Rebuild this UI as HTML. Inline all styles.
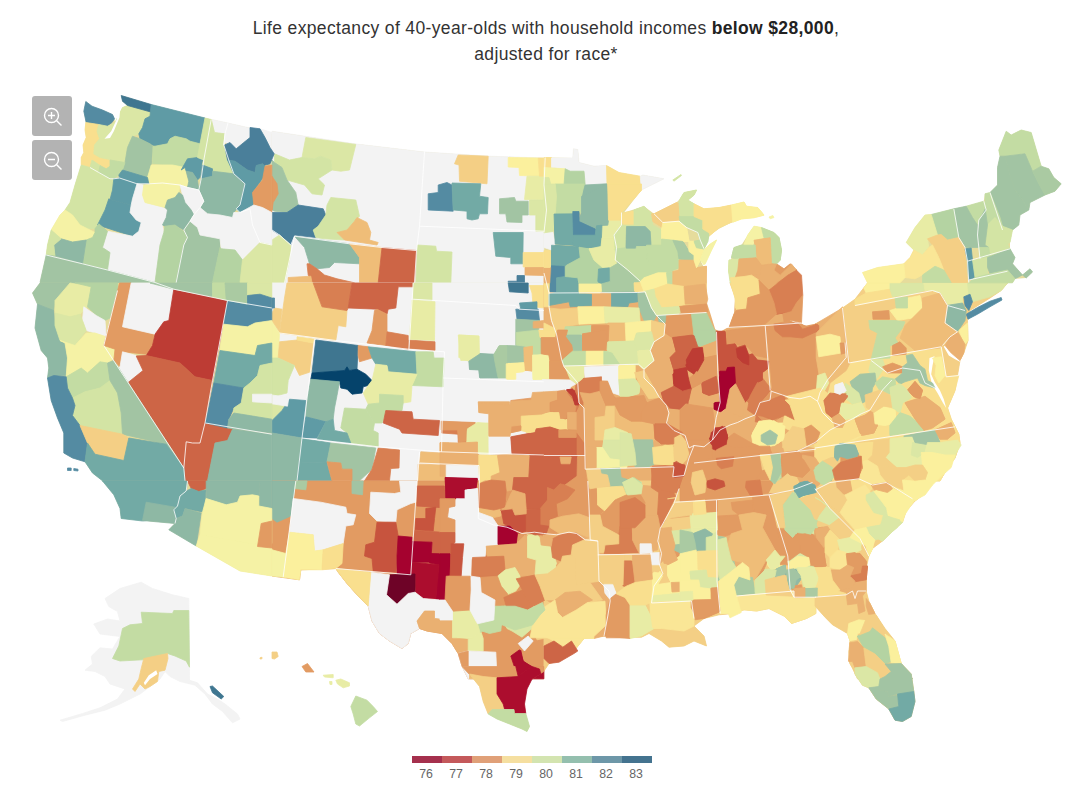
<!DOCTYPE html>
<html><head><meta charset="utf-8"><style>
html,body{margin:0;padding:0;background:#fff;}
body{width:1087px;height:792px;overflow:hidden;position:relative;font-family:"Liberation Sans",sans-serif;}
.title{position:absolute;left:0;top:14.6px;width:1092px;text-align:center;font-size:17.5px;letter-spacing:0.35px;line-height:26px;color:#333;}
.title b{font-weight:bold;color:#222;}
.btn{position:absolute;left:32px;width:40px;height:40px;background:#b3b3b3;border-radius:3px;}
svg{position:absolute;left:0;top:0;}
text{font-family:"Liberation Sans",sans-serif;}
</style></head><body>
<svg width="1087" height="792" viewBox="0 0 1087 792">
<g stroke-linejoin="round">
<polygon points="83.8,111.2 85.8,101.5 92.0,106.2 102.5,110.0 112.5,114.5 114.5,118.8 115.0,122.5 122.5,107.5 127.5,105.5 122.5,101.2 121.2,95.5 151.2,104.5 205.0,118.0 250.0,128.0 271.8,133.8 272.0,131.2 354.5,143.8 424.5,152.0 489.5,156.2 543.8,158.0 544.0,157.5 572.8,158.0 573.5,148.8 577.8,149.5 579.0,162.5 594.0,166.2 606.5,165.5 619.0,172.5 640.2,176.2 642.8,175.0 664.0,178.8 641.5,190.0 624.0,212.5 644.0,206.2 654.0,213.8 676.5,202.5 680.2,198.8 684.0,192.5 696.5,190.0 694.0,195.0 687.8,200.0 694.0,203.8 704.0,208.8 719.0,207.5 731.5,205.0 744.0,202.0 746.5,206.2 757.8,207.5 764.0,215.0 754.0,217.5 741.5,218.8 729.0,223.8 719.0,228.8 710.2,235.0 704.0,247.5 700.2,260.0 704.0,267.5 706.5,282.8 705.2,283.0 705.2,298.0 710.2,313.0 715.2,329.2 720.2,331.8 729.0,326.8 734.0,313.0 735.2,298.0 729.0,283.0 730.2,282.8 728.5,271.2 731.5,257.5 734.0,247.5 741.5,245.0 747.8,235.0 754.0,226.2 761.5,227.5 774.0,232.5 779.0,237.5 781.5,250.0 780.2,260.0 776.5,263.8 784.0,268.8 790.2,263.8 796.5,270.0 799.0,282.8 801.5,283.0 801.5,310.5 790.2,320.5 799.0,324.2 806.5,325.5 815.8,323.0 815.0,324.2 830.0,318.0 842.5,308.0 855.0,299.2 867.5,283.0 862.5,272.5 877.5,267.5 903.8,263.8 910.0,257.5 913.8,250.0 906.2,242.5 915.0,227.5 925.0,215.0 931.2,214.5 953.8,208.8 966.2,206.2 983.8,201.2 985.0,193.8 990.0,192.5 997.5,185.0 997.5,167.5 1000.0,156.2 998.8,150.0 1006.2,131.2 1011.2,135.0 1021.2,130.0 1031.2,132.5 1041.2,166.2 1048.8,168.8 1053.8,177.5 1061.2,183.8 1055.0,191.2 1045.0,195.0 1030.0,202.5 1028.8,210.0 1020.0,215.0 1018.8,225.0 1012.5,230.0 1010.0,242.5 1010.0,248.8 1015.0,257.5 1012.5,263.8 1022.5,275.0 1030.0,268.8 1032.5,272.0 1026.2,278.0 1015.0,278.8 1012.5,282.8 1007.5,283.0 1001.2,290.5 990.0,298.0 970.0,310.5 967.5,320.5 968.0,340.5 963.8,353.0 960.0,360.5 957.5,375.5 955.0,390.5 947.5,408.0 951.2,419.2 958.8,434.2 960.0,443.0 955.0,458.0 947.5,468.0 940.0,480.8 933.8,481.0 925.0,493.5 915.0,501.0 906.2,511.0 902.5,522.2 892.5,531.0 882.5,541.0 872.5,548.5 868.8,556.0 866.2,568.5 866.2,591.0 868.8,601.0 875.0,613.5 885.0,628.5 895.0,641.0 901.2,663.5 912.5,678.8 901.2,663.5 911.2,674.0 913.8,691.5 915.0,701.5 911.2,716.5 902.5,721.5 895.0,720.2 888.8,709.0 876.2,699.0 868.8,687.8 862.5,685.2 855.0,674.0 853.8,669.0 850.0,664.0 848.8,651.5 850.0,641.5 848.8,661.0 850.0,641.0 847.5,633.5 832.5,624.8 825.0,617.2 815.0,606.0 815.8,613.5 806.5,618.5 791.5,623.5 784.0,616.0 769.0,608.5 756.5,611.0 744.0,609.8 734.0,613.5 719.0,614.8 704.0,618.5 694.0,626.0 704.0,636.0 706.5,646.0 694.0,641.0 684.0,646.0 669.0,647.2 661.5,641.0 649.0,633.5 641.5,637.2 626.5,637.2 604.0,636.0 584.0,638.5 574.0,651.0 559.0,661.0 549.0,663.5 544.0,671.0 543.8,671.5 532.0,679.0 527.0,689.0 524.5,704.0 525.8,714.0 529.5,726.5 527.0,731.5 522.0,729.0 509.5,724.0 497.0,719.0 488.2,714.0 483.2,701.5 479.5,686.5 469.5,674.0 462.0,666.5 462.0,666.0 458.2,653.5 452.0,643.5 442.0,633.5 427.0,631.0 419.5,628.5 410.8,633.5 408.2,643.5 402.0,648.5 389.5,641.0 379.5,633.5 372.0,621.0 368.2,606.0 357.0,594.8 347.0,583.5 338.2,572.2 335.8,568.5 300.8,569.8 299.5,579.8 272.0,576.0 271.8,576.0 240.0,571.0 196.2,546.0 168.8,529.8 175.0,523.5 142.5,520.5 121.2,518.5 120.0,508.5 113.8,494.8 102.5,481.0 102.5,480.8 92.5,473.0 85.0,461.8 72.5,458.0 63.8,453.0 63.8,433.0 57.5,418.0 51.2,400.5 47.5,378.0 48.8,368.0 47.5,358.0 41.2,350.5 35.0,328.0 37.5,304.2 32.5,293.0 40.0,283.0 40.0,282.5 46.2,255.0 47.5,245.0 51.2,230.0 60.0,215.0 65.0,210.0 70.0,202.5 75.0,185.0 81.2,165.0 81.2,157.5 83.8,152.5 83.0,145.0 86.2,137.5 85.0,130.0 85.8,122.5" fill="#e6dc9c"/>
<polygon points="272.0,131.2 354.5,143.8 424.5,152.0 489.5,156.2 543.8,158.0 543.8,282.8 272.0,282.8" fill="#f3f3f3" stroke="#f3f3f3" stroke-width="0.8"/>
<polygon points="305.8,137.5 355.8,144.5 349.5,170.0 340.8,171.2 332.0,170.0 330.8,160.0 320.8,156.2 314.5,158.8 302.0,157.5" fill="#dbe7a5" stroke="#dbe7a5" stroke-width="0.8"/>
<polygon points="274.5,153.8 289.5,160.0 302.0,157.5 314.5,158.8 320.8,156.2 330.8,160.0 332.0,170.0 318.2,178.8 324.5,185.0 322.0,195.0 312.0,193.8 304.5,185.0 287.0,180.0 282.0,167.5 274.5,162.5" fill="#d3e4a4" stroke="#d3e4a4" stroke-width="0.8"/>
<polygon points="272.0,160.0 274.5,162.5 282.0,167.5 287.0,180.0 295.8,192.5 298.2,205.0 287.0,212.5 274.5,211.2 272.0,210.0" fill="#a2c4a3" stroke="#a2c4a3" stroke-width="0.8"/>
<polygon points="272.0,176.2 277.0,183.8 278.2,193.8 273.2,202.5 272.0,210.0" fill="#e29b62" stroke="#e29b62" stroke-width="0.8"/>
<polygon points="272.0,212.5 287.0,212.5 298.2,205.0 323.2,208.8 325.8,215.0 318.2,226.2 313.2,230.0 315.8,237.5 294.5,235.0 290.8,245.0 279.5,235.0 272.0,230.0" fill="#4a7f9a" stroke="#4a7f9a" stroke-width="0.8"/>
<polygon points="330.8,197.5 355.8,200.0 359.5,216.2 354.5,221.2 347.0,230.0 337.0,232.5 344.5,240.0 324.5,238.8 315.8,237.5 313.2,230.0 318.2,226.2 325.8,215.0 327.0,205.0" fill="#d3e4a4" stroke="#d3e4a4" stroke-width="0.8"/>
<polygon points="357.0,217.5 367.0,222.5 370.8,232.5 369.5,240.0 378.2,242.5 377.0,245.0 344.5,240.0 337.0,232.5 347.0,230.0 354.5,221.2" fill="#efbd78" stroke="#efbd78" stroke-width="0.8"/>
<polygon points="294.5,236.2 349.5,243.8 359.5,257.5 359.5,263.8 334.5,262.5 329.5,267.5 317.0,268.8 309.5,263.8 304.5,247.5" fill="#8eb8a4" stroke="#8eb8a4" stroke-width="0.8"/>
<polygon points="349.5,243.8 382.0,247.5 378.2,282.8 359.5,282.8 359.5,257.5" fill="#efbd78" stroke="#efbd78" stroke-width="0.8"/>
<polygon points="382.0,247.5 416.5,250.5 414.5,282.8 378.2,282.8" fill="#cd6546" stroke="#cd6546" stroke-width="0.8"/>
<polygon points="307.0,263.8 309.5,263.8 317.0,268.8 324.5,275.0 337.0,278.8 354.5,282.8 312.0,282.8 308.2,275.0" fill="#d87f52" stroke="#d87f52" stroke-width="0.8"/>
<polygon points="288.2,277.5 310.8,276.2 312.0,282.8 288.2,282.8" fill="#efbd78" stroke="#efbd78" stroke-width="0.8"/>
<polygon points="272.0,240.0 279.5,235.0 290.8,245.0 289.5,260.0 284.5,282.8 272.0,282.8" fill="#dbe7a5" stroke="#dbe7a5" stroke-width="0.8"/>
<polygon points="417.5,245.0 435.8,246.2 436.5,251.2 452.0,252.0 450.8,282.8 415.8,282.8" fill="#d3e4a4" stroke="#d3e4a4" stroke-width="0.8"/>
<polygon points="458.2,155.0 488.2,156.2 487.0,183.8 459.5,181.2 459.0,165.0 454.5,163.8" fill="#f4cf85" stroke="#f4cf85" stroke-width="0.8"/>
<polygon points="428.2,193.8 438.2,192.5 438.2,185.0 447.0,182.5 452.0,185.0 453.2,211.2 428.2,210.0" fill="#548ba2" stroke="#548ba2" stroke-width="0.8"/>
<polygon points="452.0,183.0 480.8,183.8 479.5,196.2 488.2,197.5 487.5,213.8 479.5,213.8 478.2,218.8 472.0,220.0 467.0,218.8 467.0,211.2 453.2,210.0" fill="#72aaa5" stroke="#72aaa5" stroke-width="0.8"/>
<polygon points="499.5,198.8 514.5,197.5 515.8,201.2 528.2,201.2 528.2,215.0 522.0,215.0 522.0,222.5 507.0,222.0 505.8,213.8 499.5,213.8" fill="#a2c4a3" stroke="#a2c4a3" stroke-width="0.8"/>
<polygon points="508.2,157.5 538.2,158.0 539.5,176.2 519.5,175.5 519.0,167.5 508.2,167.0" fill="#fbf09d" stroke="#fbf09d" stroke-width="0.8"/>
<polygon points="527.0,176.2 543.8,176.2 543.8,200.0 524.5,199.5" fill="#e8eca5" stroke="#e8eca5" stroke-width="0.8"/>
<polygon points="529.5,200.0 543.8,200.0 543.8,231.2 535.8,231.2 535.8,215.0 529.5,215.0" fill="#dbe7a5" stroke="#dbe7a5" stroke-width="0.8"/>
<polygon points="538.2,158.0 543.8,158.0 543.8,176.2 539.5,176.2" fill="#f9df8e" stroke="#f9df8e" stroke-width="0.8"/>
<polygon points="493.2,232.5 523.2,232.5 522.8,263.8 510.8,263.8 510.8,257.5 495.8,256.2" fill="#72aaa5" stroke="#72aaa5" stroke-width="0.8"/>
<polygon points="523.2,252.5 543.8,252.5 543.8,267.5 523.2,267.0" fill="#f9df8e" stroke="#f9df8e" stroke-width="0.8"/>
<polygon points="525.0,267.5 543.8,267.5 543.8,275.5 525.0,275.0" fill="#eab071" stroke="#eab071" stroke-width="0.8"/>
<polygon points="517.0,275.5 524.5,275.5 524.5,282.8 508.2,282.8 508.2,281.2 517.0,281.2" fill="#4a7f9a" stroke="#4a7f9a" stroke-width="0.8"/>
<polygon points="272.0,283.0 543.8,283.0 543.8,480.8 272.0,480.8" fill="#f3f3f3" stroke="#f3f3f3" stroke-width="0.8"/>
<polygon points="287.0,283.0 313.2,283.0 322.0,306.8 347.0,310.5 345.8,326.8 338.2,325.5 335.8,340.5 279.5,333.0 284.5,298.0" fill="#f4cf85" stroke="#f4cf85" stroke-width="0.8"/>
<polygon points="313.2,283.0 352.0,283.0 348.2,308.0 347.0,310.5 322.0,306.8" fill="#d87f52" stroke="#d87f52" stroke-width="0.8"/>
<polygon points="352.0,283.0 413.2,283.0 413.2,286.8 398.2,286.8 395.8,308.0 388.2,309.2 387.0,314.2 377.0,309.2 348.2,308.0" fill="#cd6546" stroke="#cd6546" stroke-width="0.8"/>
<polygon points="374.5,310.5 377.0,309.2 387.0,314.2 387.0,331.8 385.8,345.5 367.0,343.0 372.0,330.5" fill="#e29b62" stroke="#e29b62" stroke-width="0.8"/>
<polygon points="387.0,331.8 408.2,335.5 408.2,349.2 385.8,345.5" fill="#d87f52" stroke="#d87f52" stroke-width="0.8"/>
<polygon points="409.0,340.0 435.0,341.8 435.0,350.5 409.0,348.5" fill="#d87f52" stroke="#d87f52" stroke-width="0.8"/>
<polygon points="413.2,283.0 432.0,283.0 432.0,300.5 413.2,299.2" fill="#dbe7a5" stroke="#dbe7a5" stroke-width="0.8"/>
<polygon points="412.0,300.0 435.0,301.8 434.5,340.5 409.5,339.2" fill="#e8eca5" stroke="#e8eca5" stroke-width="0.8"/>
<polygon points="272.0,320.5 279.5,333.0 278.2,358.0 272.0,358.0" fill="#f5f2a5" stroke="#f5f2a5" stroke-width="0.8"/>
<polygon points="274.5,308.0 282.0,309.2 279.5,331.8 272.0,320.5 272.0,313.0" fill="#f4cf85" stroke="#f4cf85" stroke-width="0.8"/>
<polygon points="272.0,298.0 274.5,298.0 274.5,308.0 272.0,308.0" fill="#548ba2" stroke="#548ba2" stroke-width="0.8"/>
<polygon points="279.5,341.8 297.0,340.0 313.2,343.0 310.8,371.8 299.5,375.5 294.5,365.5 278.2,358.0" fill="#f4cf85" stroke="#f4cf85" stroke-width="0.8"/>
<polygon points="297.0,336.8 314.5,339.2 313.2,343.0 297.0,340.0" fill="#f9df8e" stroke="#f9df8e" stroke-width="0.8"/>
<polygon points="315.8,340.0 358.2,345.5 357.0,369.2 349.5,370.5 347.0,366.8 344.5,370.5 312.0,373.0" fill="#3f7690" stroke="#3f7690" stroke-width="0.8"/>
<polygon points="312.0,373.0 344.5,370.5 347.0,366.8 349.5,370.5 357.0,369.2 365.8,374.2 372.0,380.5 368.2,385.5 363.2,386.8 362.0,393.0 352.0,394.2 347.0,389.2 340.8,388.0 339.5,381.8 310.8,379.2" fill="#05436b" stroke="#05436b" stroke-width="0.8"/>
<polygon points="358.2,345.5 368.2,346.8 372.0,358.0 359.5,361.8 358.2,355.5" fill="#e29b62" stroke="#e29b62" stroke-width="0.8"/>
<polygon points="368.2,346.8 415.8,351.8 417.0,374.2 388.2,371.8 387.0,365.5 375.8,364.2 372.0,358.0" fill="#72aaa5" stroke="#72aaa5" stroke-width="0.8"/>
<polygon points="415.8,351.8 433.2,351.8 434.0,358.0 444.0,358.0 443.2,386.8 412.0,385.5 417.0,374.2" fill="#c3dca3" stroke="#c3dca3" stroke-width="0.8"/>
<polygon points="375.8,364.2 387.0,365.5 388.2,371.8 417.0,374.2 412.0,385.5 410.8,401.8 403.2,403.0 403.2,395.5 379.5,394.2 379.5,403.0 368.2,404.2 363.2,393.0 368.2,385.5 372.0,380.5" fill="#e8eca5" stroke="#e8eca5" stroke-width="0.8"/>
<polygon points="379.5,394.2 403.2,395.5 403.2,403.0 402.0,410.5 387.0,410.5 382.0,423.0 374.5,423.0 365.8,409.2 368.2,404.2 379.5,403.0" fill="#c3dca3" stroke="#c3dca3" stroke-width="0.8"/>
<polygon points="344.5,408.0 365.8,409.2 374.5,423.0 373.2,430.5 378.2,433.0 378.2,446.8 350.8,443.0 347.0,433.0 340.8,428.0" fill="#c3dca3" stroke="#c3dca3" stroke-width="0.8"/>
<polygon points="272.0,358.0 278.2,358.0 294.5,365.5 288.2,380.5 287.0,393.0 272.0,396.8" fill="#d3e4a4" stroke="#d3e4a4" stroke-width="0.8"/>
<polygon points="272.0,404.2 287.0,403.0 282.0,410.5 272.0,420.5" fill="#dbe7a5" stroke="#dbe7a5" stroke-width="0.8"/>
<polygon points="272.0,420.5 282.0,410.5 289.5,399.2 305.8,400.5 304.5,416.8 302.0,438.0 272.0,433.0" fill="#5f9ba5" stroke="#5f9ba5" stroke-width="0.8"/>
<polygon points="310.8,379.2 339.5,381.8 337.0,395.5 334.5,408.0 333.2,419.2 325.8,421.8 305.8,416.8 307.0,400.5" fill="#8eb8a4" stroke="#8eb8a4" stroke-width="0.8"/>
<polygon points="305.8,416.8 325.8,421.8 317.0,438.0 302.0,438.0" fill="#5f9ba5" stroke="#5f9ba5" stroke-width="0.8"/>
<polygon points="325.8,421.8 333.2,419.2 334.5,430.5 340.8,431.8 347.0,433.0 350.8,443.0 317.0,439.2" fill="#72aaa5" stroke="#72aaa5" stroke-width="0.8"/>
<polygon points="385.8,410.5 412.0,411.8 413.2,419.2 439.5,420.5 438.2,435.5 402.0,433.0 399.5,429.2 383.2,423.0" fill="#cd6546" stroke="#cd6546" stroke-width="0.8"/>
<polygon points="272.0,433.0 302.0,438.0 298.2,480.8 272.0,480.8" fill="#8eb8a4" stroke="#8eb8a4" stroke-width="0.8"/>
<polygon points="302.0,438.5 330.8,443.0 327.0,463.0 299.0,462.5" fill="#72aaa5" stroke="#72aaa5" stroke-width="0.8"/>
<polygon points="299.0,462.5 327.0,463.0 332.0,480.8 297.0,480.8" fill="#72aaa5" stroke="#72aaa5" stroke-width="0.8"/>
<polygon points="330.8,443.0 375.8,448.0 372.0,469.2 359.5,480.8 352.0,480.8 352.0,469.2 342.0,469.2 340.8,463.0 327.0,461.8" fill="#a2c4a3" stroke="#a2c4a3" stroke-width="0.8"/>
<polygon points="327.0,461.8 340.8,463.0 342.0,469.2 352.0,469.2 352.0,480.8 332.0,480.8" fill="#e29b62" stroke="#e29b62" stroke-width="0.8"/>
<polygon points="378.2,448.0 399.5,450.0 399.0,468.0 390.8,468.5 389.5,480.8 364.5,480.8 372.0,469.2" fill="#d87f52" stroke="#d87f52" stroke-width="0.8"/>
<polygon points="442.0,421.8 475.8,423.0 474.5,428.0 467.0,428.8 466.5,443.0 458.2,442.5 458.2,434.2 441.5,433.0" fill="#d87f52" stroke="#d87f52" stroke-width="0.8"/>
<polygon points="467.0,428.8 475.8,423.0 488.2,423.0 487.5,453.0 478.2,453.0 477.5,443.0 466.5,443.0" fill="#e8eca5" stroke="#e8eca5" stroke-width="0.8"/>
<polygon points="440.0,443.0 449.0,443.0 449.0,451.8 440.0,451.8" fill="#efbd78" stroke="#efbd78" stroke-width="0.8"/>
<polygon points="458.2,443.0 477.5,443.0 478.2,453.0 458.2,452.5" fill="#efbd78" stroke="#efbd78" stroke-width="0.8"/>
<polygon points="478.2,401.8 509.5,401.8 509.5,413.0 522.0,414.2 520.8,430.5 509.5,433.0 499.5,435.5 489.0,435.5 489.5,413.0 479.0,412.5" fill="#eab071" stroke="#eab071" stroke-width="0.8"/>
<polygon points="510.8,400.5 532.0,398.0 543.8,391.8 543.8,415.5 532.0,415.5 522.0,415.0 510.8,408.0" fill="#e29b62" stroke="#e29b62" stroke-width="0.8"/>
<polygon points="522.0,415.5 540.8,415.5 540.8,430.5 530.8,433.0 520.8,430.5" fill="#f9df8e" stroke="#f9df8e" stroke-width="0.8"/>
<polygon points="510.8,436.8 530.8,433.0 540.8,430.5 543.8,430.5 543.8,454.2 512.0,454.2" fill="#cd6546" stroke="#cd6546" stroke-width="0.8"/>
<polygon points="510.8,408.0 522.0,415.0 520.8,430.5 509.5,433.0" fill="#e29b62" stroke="#e29b62" stroke-width="0.8"/>
<polygon points="420.8,451.8 460.8,454.2 460.8,464.2 419.5,463.0" fill="#efbd78" stroke="#efbd78" stroke-width="0.8"/>
<polygon points="460.8,454.2 479.5,455.0 479.0,465.5 460.8,464.2" fill="#efbd78" stroke="#efbd78" stroke-width="0.8"/>
<polygon points="479.5,455.0 490.8,455.5 498.2,465.5 498.2,475.5 492.0,480.8 479.5,480.8 479.0,465.5" fill="#f9df8e" stroke="#f9df8e" stroke-width="0.8"/>
<polygon points="490.8,455.5 512.0,454.2 529.5,455.5 533.2,468.0 527.0,480.8 492.0,480.8 498.2,475.5 498.2,465.5" fill="#eab071" stroke="#eab071" stroke-width="0.8"/>
<polygon points="529.5,455.5 543.8,454.2 543.8,473.0 537.0,470.5 533.2,468.0" fill="#cd6546" stroke="#cd6546" stroke-width="0.8"/>
<polygon points="533.2,468.0 543.8,473.0 543.8,480.8 527.0,480.8" fill="#e29b62" stroke="#e29b62" stroke-width="0.8"/>
<polygon points="418.2,464.2 447.0,465.0 446.5,480.8 418.2,480.8" fill="#efbd78" stroke="#efbd78" stroke-width="0.8"/>
<polygon points="445.8,476.8 477.0,477.5 477.0,480.8 445.8,480.8" fill="#a5022f" stroke="#a5022f" stroke-width="0.8"/>
<polygon points="508.2,283.0 528.2,283.0 528.2,293.0 509.5,291.8" fill="#3f7690" stroke="#3f7690" stroke-width="0.8"/>
<polygon points="529.5,285.5 543.8,285.5 543.8,308.0 533.2,306.8 532.0,293.0" fill="#f9df8e" stroke="#f9df8e" stroke-width="0.8"/>
<polygon points="519.5,303.0 537.0,301.8 537.0,309.2 520.8,309.2" fill="#5f9ba5" stroke="#5f9ba5" stroke-width="0.8"/>
<polygon points="515.8,309.2 538.2,309.2 539.5,320.5 517.0,319.2" fill="#548ba2" stroke="#548ba2" stroke-width="0.8"/>
<polygon points="515.8,319.2 539.5,320.5 538.2,336.8 543.8,338.0 543.8,354.2 532.0,353.0 532.0,346.8 515.8,345.5" fill="#a2c4a3" stroke="#a2c4a3" stroke-width="0.8"/>
<polygon points="533.2,321.8 543.8,320.5 543.8,328.0 533.2,328.0" fill="#eab071" stroke="#eab071" stroke-width="0.8"/>
<polygon points="507.0,345.5 532.0,346.8 524.5,355.5 523.2,363.0 507.0,361.8" fill="#a2c4a3" stroke="#a2c4a3" stroke-width="0.8"/>
<polygon points="524.5,348.0 532.0,346.8 532.0,370.5 524.0,370.5" fill="#efbd78" stroke="#efbd78" stroke-width="0.8"/>
<polygon points="532.0,354.2 543.8,354.2 543.8,379.2 533.2,379.2" fill="#f5f2a5" stroke="#f5f2a5" stroke-width="0.8"/>
<polygon points="458.2,335.0 479.0,336.0 479.0,354.2 479.5,360.5 460.8,360.5 459.5,345.5" fill="#e8eca5" stroke="#e8eca5" stroke-width="0.8"/>
<polygon points="479.5,353.5 494.0,354.2 494.5,363.0 498.2,363.0 498.2,378.0 479.5,377.5 479.0,369.2 469.5,369.2 469.5,363.0 479.5,361.8" fill="#8eb8a4" stroke="#8eb8a4" stroke-width="0.8"/>
<polygon points="494.0,354.2 499.5,345.5 507.0,345.5 507.0,378.0 498.2,378.0 498.2,363.0 494.5,363.0" fill="#aacaa2" stroke="#aacaa2" stroke-width="0.8"/>
<polygon points="507.0,363.0 523.2,363.0 523.2,371.8 515.8,372.5 515.8,379.2 507.0,379.2" fill="#fbf09d" stroke="#fbf09d" stroke-width="0.8"/>
<polygon points="272.0,395.0 288.8,397.5 287.5,406.2 272.0,403.8" fill="#f3f3f3" stroke="#f3f3f3" stroke-width="0.8"/>
<polygon points="544.0,283.0 815.8,283.0 815.8,480.8 544.0,480.8" fill="#eab071" stroke="#eab071" stroke-width="0.8"/>
<polygon points="694.0,360.5 716.5,355.5 717.8,376.8 701.5,383.0 691.5,388.0 687.8,379.2 694.0,374.2" fill="#e29b62" stroke="#e29b62" stroke-width="0.8"/>
<polygon points="694.0,448.0 716.5,450.5 724.0,445.5 727.8,438.0 734.0,433.0 751.5,443.0 761.5,443.0 769.0,446.8 772.8,455.5 774.0,480.8 684.0,480.8 685.2,473.0" fill="#e29b62" stroke="#e29b62" stroke-width="0.8"/>
<polygon points="615.2,398.0 644.0,395.5 654.0,423.0 644.0,433.0 629.0,428.0 619.0,418.0" fill="#e29b62" stroke="#e29b62" stroke-width="0.8"/>
<polygon points="544.0,391.8 576.5,390.5 584.0,408.0 585.2,455.5 544.0,455.5" fill="#e29b62" stroke="#e29b62" stroke-width="0.8"/>
<polygon points="766.0,326.0 790.2,320.5 799.0,324.2 806.5,325.5 815.8,323.0 815.8,393.0 801.5,400.5 791.5,405.5 784.0,395.5 772.8,390.5 770.2,358.0" fill="#e29b62" stroke="#e29b62" stroke-width="0.8"/>
<polygon points="706.5,281.0 729.0,281.0 735.2,298.0 734.0,313.0 729.0,326.8 720.2,331.8 715.2,329.2 710.2,313.0 705.2,298.0" fill="#ffffff"/>
<polygon points="801.5,281.0 819.0,281.0 819.0,323.0 806.5,325.5 799.0,324.2 790.2,320.5 801.5,310.5" fill="#ffffff"/>
<polygon points="544.0,283.0 549.5,283.0 549.5,306.8 544.0,306.8" fill="#f9df8e" stroke="#f9df8e" stroke-width="0.8"/>
<polygon points="550.2,283.0 557.8,283.0 557.8,291.8 550.2,291.8" fill="#548ba2" stroke="#548ba2" stroke-width="0.8"/>
<polygon points="557.8,283.0 579.0,283.0 579.0,293.0 591.5,294.2 591.5,305.5 570.2,306.8 569.0,301.8 549.0,305.5 549.0,294.2 557.8,291.8" fill="#72aaa5" stroke="#72aaa5" stroke-width="0.8"/>
<polygon points="579.0,283.0 601.5,283.0 600.2,293.0 579.0,293.0" fill="#f9df8e" stroke="#f9df8e" stroke-width="0.8"/>
<polygon points="601.5,283.0 634.0,283.0 635.2,291.8 611.5,293.0 600.2,291.8" fill="#a2c4a3" stroke="#a2c4a3" stroke-width="0.8"/>
<polygon points="634.0,283.0 644.0,283.0 645.2,291.8 635.2,291.8" fill="#fae696" stroke="#fae696" stroke-width="0.8"/>
<polygon points="645.2,283.0 684.0,283.0 684.0,288.0 679.0,305.5 661.5,306.8 654.0,293.0 645.2,291.8" fill="#f9df8e" stroke="#f9df8e" stroke-width="0.8"/>
<polygon points="684.0,283.0 706.5,283.0 706.5,303.0 679.0,305.5 684.0,288.0" fill="#f4cf85" stroke="#f4cf85" stroke-width="0.8"/>
<polygon points="611.5,293.0 637.8,292.5 637.8,301.8 629.0,303.0 627.8,306.8 611.5,306.8" fill="#72aaa5" stroke="#72aaa5" stroke-width="0.8"/>
<polygon points="637.8,292.5 645.2,292.5 651.5,308.0 656.5,315.5 654.0,320.5 644.0,320.5 639.0,308.0" fill="#a2c4a3" stroke="#a2c4a3" stroke-width="0.8"/>
<polygon points="645.2,291.8 654.0,293.0 661.5,306.8 679.0,305.5 679.0,314.2 656.5,315.5 651.5,308.0" fill="#dbe7a5" stroke="#dbe7a5" stroke-width="0.8"/>
<polygon points="657.8,315.5 669.0,315.5 669.0,323.0 659.0,321.8" fill="#a2c4a3" stroke="#a2c4a3" stroke-width="0.8"/>
<polygon points="549.0,308.0 560.2,309.2 577.8,308.0 579.0,324.2 565.2,326.8 564.0,335.5 556.5,334.2 551.5,320.5" fill="#f4cf85" stroke="#f4cf85" stroke-width="0.8"/>
<polygon points="577.8,306.8 604.0,306.8 605.2,323.0 579.0,324.2" fill="#fbf09d" stroke="#fbf09d" stroke-width="0.8"/>
<polygon points="604.0,306.8 639.0,308.0 640.2,321.8 625.2,323.0 605.2,323.0" fill="#e8eca5" stroke="#e8eca5" stroke-width="0.8"/>
<polygon points="607.8,323.0 625.2,323.0 626.0,341.0 608.5,341.8" fill="#efbd78" stroke="#efbd78" stroke-width="0.8"/>
<polygon points="625.2,323.0 651.5,320.5 651.5,331.8 636.5,333.0 634.0,341.0 626.0,341.0" fill="#fbf09d" stroke="#fbf09d" stroke-width="0.8"/>
<polygon points="651.5,320.5 665.2,324.2 664.0,335.5 654.0,341.8 651.5,331.8" fill="#f4cf85" stroke="#f4cf85" stroke-width="0.8"/>
<polygon points="565.2,326.8 591.5,325.5 591.5,334.2 581.5,335.5 581.5,350.5 574.0,351.8 572.8,341.8 566.5,341.8 564.0,335.5" fill="#c3dca3" stroke="#c3dca3" stroke-width="0.8"/>
<polygon points="566.5,335.5 581.5,335.5 581.5,350.5 574.0,351.8 572.8,341.8 566.5,341.8" fill="#a2c4a3" stroke="#a2c4a3" stroke-width="0.8"/>
<polygon points="582.8,334.2 591.5,334.2 591.5,325.5 609.0,325.5 607.8,350.0 582.8,350.5" fill="#e29b62" stroke="#e29b62" stroke-width="0.8"/>
<polygon points="607.8,341.8 634.0,341.0 636.5,333.0 651.5,331.8 654.0,341.8 650.2,350.5 639.0,351.8 637.8,364.2 605.2,364.2 604.0,351.8 608.5,350.5" fill="#dbe7a5" stroke="#dbe7a5" stroke-width="0.8"/>
<polygon points="639.0,350.5 650.2,350.5 654.0,360.5 644.0,369.2 638.5,364.2" fill="#e8eca5" stroke="#e8eca5" stroke-width="0.8"/>
<polygon points="562.8,353.0 585.2,351.8 586.0,365.5 562.8,366.0 561.5,359.2" fill="#c3dca3" stroke="#c3dca3" stroke-width="0.8"/>
<polygon points="586.0,351.8 604.0,351.8 605.2,364.2 586.0,365.5" fill="#fbf09d" stroke="#fbf09d" stroke-width="0.8"/>
<polygon points="544.0,323.0 554.0,328.0 555.2,340.5 544.0,341.8" fill="#f9df8e" stroke="#f9df8e" stroke-width="0.8"/>
<polygon points="544.0,355.5 549.0,355.5 549.0,379.2 544.0,379.2" fill="#f9df8e" stroke="#f9df8e" stroke-width="0.8"/>
<polygon points="564.0,366.8 584.0,366.8 584.0,378.0 577.8,383.0 571.5,380.5" fill="#e8eca5" stroke="#e8eca5" stroke-width="0.8"/>
<polygon points="584.0,366.8 619.0,365.5 620.2,395.5 612.8,393.0 607.8,380.5 585.2,379.2" fill="#f3f3f3" stroke="#f3f3f3" stroke-width="0.8"/>
<polygon points="544.0,380.5 570.2,380.5 570.2,390.5 544.0,391.8" fill="#f3f3f3" stroke="#f3f3f3" stroke-width="0.8"/>
<polygon points="619.0,365.5 635.2,365.0 635.2,379.2 619.0,379.2" fill="#fbf09d" stroke="#fbf09d" stroke-width="0.8"/>
<polygon points="619.0,379.2 635.2,379.2 640.2,385.5 639.0,393.0 629.0,396.8 620.2,395.5" fill="#dbe7a5" stroke="#dbe7a5" stroke-width="0.8"/>
<polygon points="635.2,373.0 644.0,370.5 654.0,388.0 659.0,396.8 649.0,398.0 640.2,385.5" fill="#f4cf85" stroke="#f4cf85" stroke-width="0.8"/>
<polygon points="666.5,315.5 691.5,314.2 694.0,335.5 672.8,338.0 665.2,333.0" fill="#e29b62" stroke="#e29b62" stroke-width="0.8"/>
<polygon points="691.5,314.2 706.5,313.0 715.2,331.8 715.2,340.5 697.8,346.8 694.0,335.5" fill="#b4d3a2" stroke="#b4d3a2" stroke-width="0.8"/>
<polygon points="672.8,338.0 694.0,335.5 697.8,346.8 701.5,348.0 702.8,358.0 694.0,360.5 685.2,363.0 685.2,369.2 674.0,370.5 670.2,358.0 676.5,353.0" fill="#cd6546" stroke="#cd6546" stroke-width="0.8"/>
<polygon points="691.5,349.2 701.5,348.0 704.0,358.0 700.2,363.0 694.0,374.2 686.5,369.2 685.2,363.0 689.0,358.0" fill="#bd3c34" stroke="#bd3c34" stroke-width="0.8"/>
<polygon points="672.8,374.2 679.0,369.2 686.5,369.2 687.8,379.2 691.5,388.0 684.0,393.0 674.0,386.8" fill="#bd3c34" stroke="#bd3c34" stroke-width="0.8"/>
<polygon points="661.5,393.0 674.0,386.8 684.0,393.0 691.5,388.0 689.0,395.5 687.8,405.5 680.2,409.2 669.0,408.0 664.0,401.8" fill="#cd6546" stroke="#cd6546" stroke-width="0.8"/>
<polygon points="701.5,383.0 716.5,376.8 717.8,393.0 709.0,395.5 702.8,393.0" fill="#cd6546" stroke="#cd6546" stroke-width="0.8"/>
<polygon points="716.5,331.8 725.2,331.8 726.5,345.5 734.0,344.2 736.5,348.0 744.0,345.5 747.8,355.5 751.5,354.2 756.5,360.5 767.8,361.8 766.5,369.2 761.5,373.0 761.5,380.5 756.5,383.0 749.0,396.8 744.0,403.0 734.0,385.5 734.0,368.0 726.5,368.0 725.2,371.8 719.0,371.8 717.8,355.5" fill="#c7543e" stroke="#c7543e" stroke-width="0.8"/>
<polygon points="735.2,349.2 744.0,346.8 747.8,356.8 747.8,365.5 741.5,363.0 736.5,358.0" fill="#bd3c34" stroke="#bd3c34" stroke-width="0.8"/>
<polygon points="719.0,371.8 725.2,371.8 726.5,368.0 733.5,367.5 734.5,384.2 729.0,389.2 727.8,399.2 725.2,408.0 720.2,411.8 714.0,409.2 714.0,403.0 720.2,402.5 719.0,388.0" fill="#a5022f" stroke="#a5022f" stroke-width="0.8"/>
<polygon points="769.0,290.5 784.0,285.5 801.5,283.0 801.5,298.0 796.5,303.0 791.5,311.8 776.5,314.2 774.0,303.0" fill="#cd6546" stroke="#cd6546" stroke-width="0.8"/>
<polygon points="730.2,283.0 759.0,283.0 761.5,293.0 756.5,301.8 741.5,309.2 735.2,308.0 735.2,298.0" fill="#f9df8e" stroke="#f9df8e" stroke-width="0.8"/>
<polygon points="764.0,399.2 772.8,391.8 784.0,395.5 785.2,403.0 791.5,405.5 796.5,419.2 784.0,415.5 769.0,423.0 755.2,421.8 756.5,413.0 761.5,405.5" fill="#d87f52" stroke="#d87f52" stroke-width="0.8"/>
<polygon points="790.2,400.5 804.0,396.8 815.8,393.0 815.8,408.0 809.0,413.0 801.5,419.2 796.5,419.2 791.5,405.5" fill="#f9df8e" stroke="#f9df8e" stroke-width="0.8"/>
<polygon points="796.5,419.2 815.8,408.0 815.8,448.0 804.0,445.5 796.5,433.0" fill="#f4cf85" stroke="#f4cf85" stroke-width="0.8"/>
<polygon points="759.0,421.8 769.0,423.0 784.0,423.0 784.0,435.5 779.0,443.0 769.0,446.8 761.5,443.0 752.8,443.0 751.5,435.5" fill="#fbf09d" stroke="#fbf09d" stroke-width="0.8"/>
<polygon points="761.5,433.0 771.5,430.5 777.8,435.5 774.0,443.0 766.5,444.2 760.2,439.2" fill="#a2c4a3" stroke="#a2c4a3" stroke-width="0.8"/>
<polygon points="714.0,428.0 725.2,426.8 727.8,438.0 724.0,445.5 716.5,450.5 710.2,448.0 709.0,438.0" fill="#bd3c34" stroke="#bd3c34" stroke-width="0.8"/>
<polygon points="654.0,423.0 669.0,425.5 682.8,433.0 674.0,436.8 672.8,443.0 661.5,443.0 655.2,438.0" fill="#d87f52" stroke="#d87f52" stroke-width="0.8"/>
<polygon points="605.2,429.2 624.0,433.0 631.5,439.2 632.8,458.0 606.5,459.2 604.0,443.0" fill="#dbe7a5" stroke="#dbe7a5" stroke-width="0.8"/>
<polygon points="632.8,439.2 651.5,443.0 654.0,463.0 649.0,466.8 635.2,466.8 632.8,458.0" fill="#a2c4a3" stroke="#a2c4a3" stroke-width="0.8"/>
<polygon points="596.5,448.0 606.5,449.2 606.5,459.2 629.0,459.2 626.5,468.0 597.8,466.8" fill="#fbf09d" stroke="#fbf09d" stroke-width="0.8"/>
<polygon points="544.0,413.0 554.0,413.0 566.5,419.2 567.8,429.2 554.0,425.5 544.0,423.0" fill="#f5f2a5" stroke="#f5f2a5" stroke-width="0.8"/>
<polygon points="550.2,400.5 559.0,393.0 574.0,393.0 576.5,403.0 579.0,405.5 574.0,415.5 565.2,419.2 554.0,413.0" fill="#d87f52" stroke="#d87f52" stroke-width="0.8"/>
<polygon points="566.5,389.2 575.2,390.5 579.0,403.0 575.2,405.5 572.8,395.5" fill="#bd3c34" stroke="#bd3c34" stroke-width="0.8"/>
<polygon points="544.0,429.2 554.0,426.8 567.8,430.5 576.5,433.0 584.0,443.0 584.0,455.5 544.0,455.5" fill="#d87f52" stroke="#d87f52" stroke-width="0.8"/>
<polygon points="544.0,455.5 577.8,455.5 577.8,473.0 569.0,480.8 544.0,480.8" fill="#cd6546" stroke="#cd6546" stroke-width="0.8"/>
<polygon points="585.2,455.5 585.2,469.2 577.8,473.0 577.8,455.5" fill="#e29b62" stroke="#e29b62" stroke-width="0.8"/>
<polygon points="601.5,469.2 619.0,468.0 619.0,480.8 606.5,480.8" fill="#a2c4a3" stroke="#a2c4a3" stroke-width="0.8"/>
<polygon points="672.8,468.0 684.0,466.8 685.2,473.0 679.0,480.8 670.2,476.8" fill="#cd6546" stroke="#cd6546" stroke-width="0.8"/>
<polygon points="576.5,379.2 601.5,376.8 601.5,381.8 609.0,393.0 615.2,398.0 606.5,405.5 585.2,405.5 579.0,403.0 575.2,390.5" fill="#d87f52" stroke="#d87f52" stroke-width="0.8"/>
<polygon points="779.0,455.5 815.8,451.8 815.8,480.8 784.0,480.8 779.0,468.0" fill="#e29b62" stroke="#e29b62" stroke-width="0.8"/>
<polygon points="772.8,455.5 779.0,455.5 780.2,478.0 774.0,479.2" fill="#c3dca3" stroke="#c3dca3" stroke-width="0.8"/>
<polygon points="719.0,456.8 731.5,458.0 730.2,468.0 719.0,469.2" fill="#d87f52" stroke="#d87f52" stroke-width="0.8"/>
<polygon points="458.8,335.0 478.8,336.2 479.5,360.0 468.8,361.2 458.8,357.5" fill="#e8eca5" stroke="#e8eca5" stroke-width="0.8"/>
<polygon points="468.8,361.2 480.0,353.8 493.8,355.0 495.0,362.5 498.0,377.5 480.0,378.0 478.8,370.0 469.5,369.5" fill="#8eb8a4" stroke="#8eb8a4" stroke-width="0.8"/>
<polygon points="493.8,355.0 498.8,346.2 507.5,346.2 507.5,377.5 498.0,377.5 495.0,362.5" fill="#aacaa2" stroke="#aacaa2" stroke-width="0.8"/>
<polygon points="507.5,346.2 525.0,346.2 523.8,362.5 507.5,362.5" fill="#a2c4a3" stroke="#a2c4a3" stroke-width="0.8"/>
<polygon points="516.2,332.5 538.8,330.0 540.0,337.5 541.2,353.8 532.5,355.0 525.0,346.2 516.2,345.0" fill="#c3dca3" stroke="#c3dca3" stroke-width="0.8"/>
<polygon points="523.8,347.5 532.5,346.2 532.0,371.2 524.5,370.0" fill="#efbd78" stroke="#efbd78" stroke-width="0.8"/>
<polygon points="506.2,363.8 523.8,362.5 524.5,371.2 515.0,372.5 514.5,378.8 506.2,378.8" fill="#fbf09d" stroke="#fbf09d" stroke-width="0.8"/>
<polygon points="532.5,355.0 548.8,355.0 549.5,378.8 533.0,379.5" fill="#f5f2a5" stroke="#f5f2a5" stroke-width="0.8"/>
<polygon points="538.8,330.0 555.0,330.0 555.5,337.5 540.0,337.5" fill="#f9df8e" stroke="#f9df8e" stroke-width="0.8"/>
<polygon points="541.2,337.5 555.0,337.5 557.5,350.0 561.2,361.2 550.0,361.2 548.8,355.0 541.2,353.8" fill="#e29b62" stroke="#e29b62" stroke-width="0.8"/>
<polygon points="549.5,361.2 561.2,361.2 570.0,378.8 549.5,378.8" fill="#e29b62" stroke="#e29b62" stroke-width="0.8"/>
<polygon points="542.5,379.5 570.0,380.0 576.2,383.8 565.0,390.0 542.5,391.2" fill="#f3f3f3" stroke="#f3f3f3" stroke-width="0.8"/>
<polygon points="478.8,402.5 510.0,405.0 511.2,401.2 531.2,400.0 532.5,392.5 557.5,391.2 557.5,400.0 550.0,402.5 550.0,411.2 541.2,415.0 521.2,416.2 521.2,425.0 511.2,426.2 510.0,436.2 488.8,436.2 488.8,413.8 478.8,412.5" fill="#eab071" stroke="#eab071" stroke-width="0.8"/>
<polygon points="550.0,402.5 557.5,400.0 557.5,391.2 565.0,390.0 567.5,393.8 576.2,405.0 575.0,412.5 567.5,412.5 566.2,418.8 560.0,418.8 558.8,412.5 550.0,411.2" fill="#e29b62" stroke="#e29b62" stroke-width="0.8"/>
<polygon points="566.2,390.0 572.5,388.8 576.2,395.0 578.8,405.0 575.0,405.0 572.5,396.2" fill="#bd3c34" stroke="#bd3c34" stroke-width="0.8"/>
<polygon points="521.2,416.2 541.2,415.0 550.0,412.5 558.8,412.5 560.0,420.0 567.5,420.0 567.5,428.8 560.0,429.5 550.0,426.2 536.2,428.8 535.0,432.5 526.2,432.5 521.2,425.0" fill="#f9df8e" stroke="#f9df8e" stroke-width="0.8"/>
<polygon points="567.5,412.5 576.2,412.5 576.2,430.0 567.5,428.8" fill="#eab071" stroke="#eab071" stroke-width="0.8"/>
<polygon points="511.2,437.5 535.0,432.5 536.2,428.8 550.0,427.0 558.8,430.0 558.8,437.5 576.2,437.5 576.2,455.0 557.5,455.0 535.0,454.5 512.5,453.8" fill="#cd6546" stroke="#cd6546" stroke-width="0.8"/>
<polygon points="558.8,430.0 576.2,430.0 576.2,437.5 558.8,437.5" fill="#e29b62" stroke="#e29b62" stroke-width="0.8"/>
<polygon points="441.2,421.2 475.0,422.5 475.0,428.8 466.2,430.0 466.2,441.2 458.8,442.5 457.5,430.0 441.2,430.0" fill="#e29b62" stroke="#e29b62" stroke-width="0.8"/>
<polygon points="467.5,428.8 477.5,422.5 487.5,423.8 488.2,453.8 477.5,452.5 477.5,441.2 467.0,441.2" fill="#e8eca5" stroke="#e8eca5" stroke-width="0.8"/>
<polygon points="440.0,442.5 458.8,443.0 477.5,442.0 477.5,452.5 478.8,465.0 440.0,463.8" fill="#eab071" stroke="#eab071" stroke-width="0.8"/>
<polygon points="577.0,378.8 600.0,377.5 600.0,391.2 590.0,393.8 580.0,392.5 576.2,383.8" fill="#d87f52" stroke="#d87f52" stroke-width="0.8"/>
<polygon points="580.0,392.5 590.0,393.8 600.0,391.2 606.2,406.2 605.0,416.2 595.0,417.5 595.0,428.8 585.0,428.8 583.8,402.5" fill="#eab071" stroke="#eab071" stroke-width="0.8"/>
<polygon points="600.0,381.2 607.5,381.2 612.5,393.8 616.2,400.0 615.0,405.0 606.2,406.2 600.0,391.2" fill="#e29b62" stroke="#e29b62" stroke-width="0.8"/>
<polygon points="595.0,417.5 605.0,416.2 606.2,406.2 615.0,406.2 615.0,427.5 605.0,430.0 603.8,440.0 595.0,440.0 595.0,428.8" fill="#f4cf85" stroke="#f4cf85" stroke-width="0.8"/>
<polygon points="620.0,415.0 631.2,421.2 641.2,421.2 653.8,423.8 655.0,438.8 651.2,443.8 632.5,440.0 627.5,432.5 615.0,427.5 615.0,406.2" fill="#efbd78" stroke="#efbd78" stroke-width="0.8"/>
<polygon points="615.0,405.0 620.0,397.5 635.0,396.2 647.5,402.5 642.5,412.5 641.2,421.2 631.2,421.2 620.0,415.0" fill="#e29b62" stroke="#e29b62" stroke-width="0.8"/>
<polygon points="605.0,430.0 615.0,427.5 627.5,432.5 632.5,440.0 633.8,455.0 623.8,460.0 610.0,458.8 603.8,447.5 603.8,440.0" fill="#e8eca5" stroke="#e8eca5" stroke-width="0.8"/>
<polygon points="632.5,440.0 651.2,443.8 653.8,463.8 648.8,466.2 635.0,466.2 633.8,455.0" fill="#a2c4a3" stroke="#a2c4a3" stroke-width="0.8"/>
<polygon points="596.2,448.8 603.8,447.5 610.0,458.8 623.8,460.0 622.5,467.5 597.5,467.5" fill="#fbf09d" stroke="#fbf09d" stroke-width="0.8"/>
<polygon points="586.2,446.2 595.0,447.5 596.2,461.2 586.2,460.0" fill="#eab071" stroke="#eab071" stroke-width="0.8"/>
<polygon points="653.8,423.8 668.8,426.2 682.5,433.8 673.8,437.5 672.5,443.8 661.2,443.8 655.0,438.8" fill="#d87f52" stroke="#d87f52" stroke-width="0.8"/>
<polygon points="653.8,452.5 665.0,445.0 673.8,447.5 672.5,465.0 653.8,463.8" fill="#f9df8e" stroke="#f9df8e" stroke-width="0.8"/>
<polygon points="672.5,437.5 682.5,433.8 691.2,447.5 686.2,460.0 680.0,466.2 672.5,465.0 673.8,447.5" fill="#f4cf85" stroke="#f4cf85" stroke-width="0.8"/>
<polygon points="641.2,412.5 647.5,402.5 660.0,397.5 668.8,407.5 666.2,420.0 668.8,426.2 653.8,423.8 641.2,421.2" fill="#e29b62" stroke="#e29b62" stroke-width="0.8"/>
<polygon points="557.5,330.0 567.5,330.0 566.2,336.2 572.5,345.0 572.5,351.2 565.0,357.5 561.2,361.2 557.5,350.0 555.5,337.5" fill="#e29b62" stroke="#e29b62" stroke-width="0.8"/>
<polygon points="567.5,335.0 581.2,335.0 582.0,350.0 573.8,351.2 572.5,345.0 566.2,336.2" fill="#a2c4a3" stroke="#a2c4a3" stroke-width="0.8"/>
<polygon points="582.5,333.8 606.2,330.0 607.0,350.0 582.5,350.5" fill="#e29b62" stroke="#e29b62" stroke-width="0.8"/>
<polygon points="562.5,360.0 572.5,351.2 586.2,351.2 586.2,365.0 565.0,365.5" fill="#c3dca3" stroke="#c3dca3" stroke-width="0.8"/>
<polygon points="586.2,351.2 603.8,351.2 603.8,365.0 586.2,365.0" fill="#fbf09d" stroke="#fbf09d" stroke-width="0.8"/>
<polygon points="603.8,351.2 612.5,352.5 620.0,363.8 603.8,365.0" fill="#c3dca3" stroke="#c3dca3" stroke-width="0.8"/>
<polygon points="607.5,342.5 633.8,341.2 637.5,351.2 638.8,365.0 620.0,363.8 612.5,352.5 607.0,350.0" fill="#dbe7a5" stroke="#dbe7a5" stroke-width="0.8"/>
<polygon points="637.5,351.2 648.8,350.0 652.5,360.0 642.5,368.8 638.8,365.0" fill="#e8eca5" stroke="#e8eca5" stroke-width="0.8"/>
<polygon points="565.0,366.2 583.8,366.2 582.5,378.8 576.2,383.8 570.0,378.8" fill="#e8eca5" stroke="#e8eca5" stroke-width="0.8"/>
<polygon points="618.8,366.2 633.8,365.0 634.5,378.8 618.8,379.5" fill="#fbf09d" stroke="#fbf09d" stroke-width="0.8"/>
<polygon points="618.8,379.5 634.5,378.8 640.0,385.0 638.8,393.8 628.8,396.2 620.0,396.2" fill="#dbe7a5" stroke="#dbe7a5" stroke-width="0.8"/>
<polygon points="634.5,372.5 643.8,373.8 653.8,391.2 658.8,397.5 648.8,398.8 640.0,385.0" fill="#f4cf85" stroke="#f4cf85" stroke-width="0.8"/>
<polygon points="867.5,283.0 1007.5,283.0 1001.2,290.5 990.0,298.0 970.0,310.5 967.5,320.5 968.0,340.5 963.8,353.0 960.0,360.5 957.5,375.5 955.0,390.5 947.5,408.0 951.2,419.2 958.8,434.2 960.0,443.0 955.0,458.0 947.5,468.0 940.0,480.8 815.0,480.8 815.0,324.2 830.0,318.0 842.5,308.0 855.0,299.2" fill="#f4cf85" stroke="#f4cf85" stroke-width="0.8"/>
<polygon points="848.8,363.0 941.2,346.8 946.2,376.8 958.8,375.5 955.0,390.5 947.5,408.0 951.2,419.2 958.8,434.2 960.0,443.0 955.0,458.0 947.5,468.0 940.0,480.8 815.0,480.8 815.0,408.0 825.0,393.0 830.0,380.5 845.0,365.5" fill="#f9df8e" stroke="#f9df8e" stroke-width="0.8"/>
<polygon points="815.0,324.2 842.5,308.0 848.8,363.0 845.0,365.5 830.0,380.5 825.0,393.0 815.0,408.0" fill="#eab071" stroke="#eab071" stroke-width="0.8"/>
<polygon points="929.5,358.0 934.5,356.2 932.5,365.5 931.2,374.2 934.5,381.8 940.0,390.5 943.8,399.2 946.2,408.0 943.0,403.0 937.5,393.0 932.0,384.2 928.8,370.5" fill="#ffffff"/>
<polygon points="943.8,346.8 948.8,355.5 955.0,359.2 960.0,361.8 961.2,355.5 955.0,355.5 948.8,350.5 946.2,344.2" fill="#ffffff"/>
<polygon points="922.5,409.2 932.5,408.0 942.5,413.0 945.0,418.0 935.0,414.2 925.0,413.0" fill="#ffffff"/>
<polygon points="867.5,283.0 890.0,283.0 890.0,289.2 875.0,291.8 866.2,293.0 863.8,288.0" fill="#fbf09d" stroke="#fbf09d" stroke-width="0.8"/>
<polygon points="855.0,299.2 866.2,293.0 890.0,289.2 895.0,298.0 855.0,305.5" fill="#f9df8e" stroke="#f9df8e" stroke-width="0.8"/>
<polygon points="890.0,283.0 923.8,283.0 925.0,290.5 911.2,294.2 892.5,296.8 890.0,289.2" fill="#dbe7a5" stroke="#dbe7a5" stroke-width="0.8"/>
<polygon points="923.8,283.0 967.5,283.0 968.8,294.2 962.5,298.0 962.5,303.0 947.5,305.5 940.0,293.0 932.5,290.5 925.0,290.5" fill="#e8eca5" stroke="#e8eca5" stroke-width="0.8"/>
<polygon points="967.5,283.0 1007.5,283.0 1001.2,290.5 990.0,296.8 972.5,301.8 968.8,294.2" fill="#dbe7a5" stroke="#dbe7a5" stroke-width="0.8"/>
<polygon points="963.8,296.8 970.0,294.2 972.5,301.8 968.8,310.5 965.0,305.5" fill="#548ba2" stroke="#548ba2" stroke-width="0.8"/>
<polygon points="966.2,314.2 977.5,307.5 990.0,301.2 1001.2,297.5 1002.0,300.0 990.0,306.8 977.5,314.2 968.0,319.2" fill="#548ba2" stroke="#548ba2" stroke-width="0.8"/>
<polygon points="946.2,305.5 962.5,303.0 966.2,310.5 965.0,320.5 957.5,331.8 945.0,323.0" fill="#8eb8a4" stroke="#8eb8a4" stroke-width="0.8"/>
<polygon points="958.8,330.5 967.5,323.0 968.0,340.5 965.0,344.2" fill="#fbf09d" stroke="#fbf09d" stroke-width="0.8"/>
<polygon points="950.0,336.8 957.5,331.8 965.0,344.2 963.8,353.0 960.0,360.5 951.2,353.0 945.0,345.5" fill="#eab071" stroke="#eab071" stroke-width="0.8"/>
<polygon points="890.0,310.5 897.5,308.0 907.5,298.0 920.0,295.5 922.5,308.0 912.5,318.0 897.5,320.5" fill="#fbf09d" stroke="#fbf09d" stroke-width="0.8"/>
<polygon points="895.0,298.0 907.5,296.8 907.5,308.0 896.2,308.0" fill="#c3dca3" stroke="#c3dca3" stroke-width="0.8"/>
<polygon points="922.5,298.0 940.0,293.0 947.5,305.5 945.0,323.0 957.5,331.8 950.0,336.8 940.0,348.0 915.0,350.5 900.0,338.0 905.0,325.5 912.5,318.0 922.5,308.0" fill="#efbd78" stroke="#efbd78" stroke-width="0.8"/>
<polygon points="872.5,311.8 888.8,310.5 889.5,319.2 873.0,319.2" fill="#e29b62" stroke="#e29b62" stroke-width="0.8"/>
<polygon points="868.8,320.5 895.0,320.5 905.0,321.8 902.5,328.0 895.0,338.0 900.0,345.5 890.0,345.5 890.0,358.0 871.2,359.2 877.5,333.0 870.0,329.2" fill="#c3dca3" stroke="#c3dca3" stroke-width="0.8"/>
<polygon points="892.5,345.5 900.0,341.8 906.2,348.0 906.2,354.2 892.5,355.5" fill="#e29b62" stroke="#e29b62" stroke-width="0.8"/>
<polygon points="817.5,336.8 838.8,335.5 840.0,354.2 820.0,356.8" fill="#fbf09d" stroke="#fbf09d" stroke-width="0.8"/>
<polygon points="840.0,343.0 846.2,343.0 846.2,355.5 841.2,355.5" fill="#e29b62" stroke="#e29b62" stroke-width="0.8"/>
<polygon points="871.2,360.5 882.5,359.2 885.0,366.8 877.5,378.0 873.8,380.5 868.8,370.5" fill="#dbe7a5" stroke="#dbe7a5" stroke-width="0.8"/>
<polygon points="882.5,366.8 892.5,363.0 902.5,366.8 902.5,373.0 887.5,373.0" fill="#e29b62" stroke="#e29b62" stroke-width="0.8"/>
<polygon points="906.2,355.5 912.5,354.2 920.0,365.5 925.0,369.2 927.5,380.5 932.5,383.0 935.0,388.0 925.0,385.5 920.0,383.0 917.5,378.0 905.0,381.8 900.0,384.2 895.0,379.2 902.5,373.0 902.5,366.8 907.5,363.0" fill="#a2c4a3" stroke="#a2c4a3" stroke-width="0.8"/>
<polygon points="907.5,390.5 915.0,381.8 922.5,390.5 920.0,399.2 913.8,396.8" fill="#e29b62" stroke="#e29b62" stroke-width="0.8"/>
<polygon points="932.5,358.0 941.2,356.8 945.0,375.5 938.8,383.0 935.0,375.5 936.2,365.5" fill="#fbf09d" stroke="#fbf09d" stroke-width="0.8"/>
<polygon points="850.0,381.8 860.0,374.2 875.0,373.0 876.2,381.8 872.5,388.0 871.2,398.0 862.5,403.0 858.8,393.0 852.5,388.0" fill="#a2c4a3" stroke="#a2c4a3" stroke-width="0.8"/>
<polygon points="845.0,383.0 852.5,388.0 858.8,393.0 861.2,401.8 852.5,404.2 845.0,398.0" fill="#dbe7a5" stroke="#dbe7a5" stroke-width="0.8"/>
<polygon points="875.0,383.0 882.5,376.8 895.0,379.2 896.2,388.0 890.0,394.2 881.2,393.0" fill="#c3dca3" stroke="#c3dca3" stroke-width="0.8"/>
<polygon points="890.0,388.0 900.0,384.2 907.5,390.5 911.2,398.0 902.5,403.0 900.0,413.0 892.5,408.0" fill="#dbe7a5" stroke="#dbe7a5" stroke-width="0.8"/>
<polygon points="835.0,385.5 842.5,383.0 846.2,390.5 841.2,395.5 835.0,393.0" fill="#f3f3f3" stroke="#f3f3f3" stroke-width="0.8"/>
<polygon points="825.0,400.5 833.8,394.2 841.2,395.5 847.5,396.8 840.0,406.8 837.5,414.2 832.5,418.0 826.2,413.0" fill="#d87f52" stroke="#d87f52" stroke-width="0.8"/>
<polygon points="817.5,374.2 827.5,374.2 828.8,393.0 822.5,395.5" fill="#e8eca5" stroke="#e8eca5" stroke-width="0.8"/>
<polygon points="840.0,403.0 852.5,405.5 861.2,403.0 865.0,410.5 855.0,418.0 845.0,419.2" fill="#e8eca5" stroke="#e8eca5" stroke-width="0.8"/>
<polygon points="832.5,418.0 838.8,414.2 845.0,420.5 842.5,428.0 835.0,428.0" fill="#eab071" stroke="#eab071" stroke-width="0.8"/>
<polygon points="873.8,413.0 883.8,406.8 895.0,410.5 896.2,423.0 885.0,425.5 875.0,424.2" fill="#fbf09d" stroke="#fbf09d" stroke-width="0.8"/>
<polygon points="855.0,419.2 865.0,415.5 873.8,409.2 877.5,425.5 873.8,433.0 861.2,435.5" fill="#eab071" stroke="#eab071" stroke-width="0.8"/>
<polygon points="890.0,425.5 900.0,413.0 910.0,416.8 917.5,423.0 923.8,430.5 890.0,435.5" fill="#c3dca3" stroke="#c3dca3" stroke-width="0.8"/>
<polygon points="905.0,403.0 925.0,396.8 940.0,408.0 945.0,419.2 932.5,428.0 923.8,430.5 917.5,423.0" fill="#eab071" stroke="#eab071" stroke-width="0.8"/>
<polygon points="815.0,433.0 835.0,423.0 847.5,428.0 861.2,435.5 847.5,441.8 815.0,448.0" fill="#f9df8e" stroke="#f9df8e" stroke-width="0.8"/>
<polygon points="915.0,434.2 933.8,430.5 940.0,443.0 930.0,445.5 915.0,443.0 905.0,443.0 903.8,436.8" fill="#a2c4a3" stroke="#a2c4a3" stroke-width="0.8"/>
<polygon points="933.8,430.5 951.2,423.0 955.0,433.0 947.5,439.2 940.0,439.2" fill="#eab071" stroke="#eab071" stroke-width="0.8"/>
<polygon points="887.5,443.0 903.8,440.5 915.0,443.0 930.0,445.5 940.0,444.2 957.5,440.5 955.0,458.0 945.0,463.0 922.5,468.0 900.0,470.5 887.5,458.0" fill="#e8eca5" stroke="#e8eca5" stroke-width="0.8"/>
<polygon points="922.5,453.0 940.0,458.0 947.5,468.0 940.0,480.8 922.5,480.8" fill="#fae696" stroke="#fae696" stroke-width="0.8"/>
<polygon points="835.0,446.8 840.0,444.2 855.0,445.5 858.8,455.5 847.5,458.0 837.5,460.5" fill="#8eb8a4" stroke="#8eb8a4" stroke-width="0.8"/>
<polygon points="841.2,458.0 860.0,455.5 862.5,468.0 858.8,475.5 836.2,479.2 835.0,471.8 847.5,468.0" fill="#e29b62" stroke="#e29b62" stroke-width="0.8"/>
<polygon points="815.0,468.0 825.0,461.8 833.8,470.5 830.0,480.8 815.0,480.8" fill="#a2c4a3" stroke="#a2c4a3" stroke-width="0.8"/>
<polygon points="815.0,324.2 818.8,325.5 818.8,331.8 815.0,333.0" fill="#d87f52" stroke="#d87f52" stroke-width="0.8"/>
<polygon points="726.2,330.5 765.0,326.0 767.5,358.0 755.0,355.5 747.5,346.8 733.8,344.2 726.2,345.5" fill="#e29b62" stroke="#e29b62" stroke-width="0.8"/>
<polygon points="743.8,383.0 762.5,378.0 771.2,389.2 762.5,400.5 755.0,408.0 746.2,400.5" fill="#d87f52" stroke="#d87f52" stroke-width="0.8"/>
<polygon points="680.0,403.0 712.5,408.0 715.0,425.5 705.0,445.5 690.0,445.5 680.0,433.0" fill="#e29b62" stroke="#e29b62" stroke-width="0.8"/>
<polygon points="766.2,325.5 800.0,323.0 816.2,333.0 816.2,358.0 818.8,373.0 820.0,388.0 800.0,393.0 785.0,396.8 772.5,389.2" fill="#e29b62" stroke="#e29b62" stroke-width="0.8"/>
<polygon points="773.8,324.2 797.5,323.0 802.5,329.2 817.5,324.2 818.8,330.5 802.5,338.0 790.0,336.8 782.5,336.8 775.0,330.5" fill="#d87f52" stroke="#d87f52" stroke-width="0.8"/>
<polygon points="816.2,333.0 842.5,306.8 845.0,343.0 850.0,363.0 846.2,370.5 830.0,383.0 827.5,393.0 820.0,388.0 818.8,373.0 816.2,358.0" fill="#efbd78" stroke="#efbd78" stroke-width="0.8"/>
<polygon points="816.2,336.8 830.0,334.2 840.0,336.8 841.2,353.0 818.8,356.8" fill="#fbf09d" stroke="#fbf09d" stroke-width="0.8"/>
<polygon points="840.0,343.0 845.0,343.0 845.5,353.0 841.2,354.2" fill="#e29b62" stroke="#e29b62" stroke-width="0.8"/>
<polygon points="817.5,375.5 825.0,373.0 828.8,383.0 822.5,394.2 816.2,393.0" fill="#e8eca5" stroke="#e8eca5" stroke-width="0.8"/>
<polygon points="785.0,396.8 800.0,393.0 820.0,388.0 827.5,393.0 820.0,405.5 822.5,415.5 830.0,423.0 820.0,430.5 810.0,423.0 797.5,413.0 790.0,400.5" fill="#f9df8e" stroke="#f9df8e" stroke-width="0.8"/>
<polygon points="823.8,400.5 830.0,393.0 840.0,394.2 847.5,395.5 840.0,405.5 838.8,413.0 832.5,418.0 826.2,411.8" fill="#d87f52" stroke="#d87f52" stroke-width="0.8"/>
<polygon points="835.0,385.5 842.5,383.0 845.0,390.5 840.0,395.0 835.0,393.0" fill="#f3f3f3" stroke="#f3f3f3" stroke-width="0.8"/>
<polygon points="832.5,418.0 838.8,414.2 845.0,420.5 842.5,428.0 835.0,428.0" fill="#eab071" stroke="#eab071" stroke-width="0.8"/>
<polygon points="755.0,413.0 762.5,400.5 772.5,390.5 785.0,396.8 790.0,400.5 792.5,418.0 780.0,415.5 775.0,421.8 762.5,420.5" fill="#e29b62" stroke="#e29b62" stroke-width="0.8"/>
<polygon points="752.5,433.0 758.8,421.8 773.8,420.5 782.5,426.8 781.2,438.0 775.0,445.5 762.5,446.8 753.8,443.0" fill="#fbf09d" stroke="#fbf09d" stroke-width="0.8"/>
<polygon points="760.0,434.2 770.0,430.5 776.2,434.2 773.8,443.0 766.2,444.2 761.2,440.5" fill="#a2c4a3" stroke="#a2c4a3" stroke-width="0.8"/>
<polygon points="790.0,405.5 797.5,413.0 810.0,423.0 802.5,433.0 790.0,430.5 782.5,426.8 785.0,413.0" fill="#f9df8e" stroke="#f9df8e" stroke-width="0.8"/>
<polygon points="802.5,433.0 810.0,425.5 818.8,430.5 815.0,443.0 805.0,445.5" fill="#eab071" stroke="#eab071" stroke-width="0.8"/>
<polygon points="781.2,438.0 790.0,430.5 802.5,433.0 805.0,445.5 797.5,450.5 785.0,453.0" fill="#f4cf85" stroke="#f4cf85" stroke-width="0.8"/>
<polygon points="815.0,443.0 820.0,430.5 830.0,423.0 842.5,428.0 855.0,433.0 862.5,435.5 840.0,448.0 820.0,450.5" fill="#fae696" stroke="#fae696" stroke-width="0.8"/>
<polygon points="835.0,446.8 842.5,443.0 855.0,445.5 857.5,455.5 842.5,458.0 836.2,455.5" fill="#8eb8a4" stroke="#8eb8a4" stroke-width="0.8"/>
<polygon points="841.2,458.0 860.0,455.5 862.5,468.0 858.8,475.5 836.2,479.2 835.0,471.8 847.5,468.0" fill="#e29b62" stroke="#e29b62" stroke-width="0.8"/>
<polygon points="815.0,468.0 825.0,461.8 833.8,470.5 830.0,480.8 815.0,480.8" fill="#a2c4a3" stroke="#a2c4a3" stroke-width="0.8"/>
<polygon points="733.8,455.5 780.0,453.0 797.5,450.5 805.0,458.0 800.0,480.8 733.8,480.8" fill="#e29b62" stroke="#e29b62" stroke-width="0.8"/>
<polygon points="773.8,455.5 780.0,455.5 781.2,478.0 775.0,479.2" fill="#c3dca3" stroke="#c3dca3" stroke-width="0.8"/>
<polygon points="840.0,403.0 852.5,405.5 861.2,403.0 865.0,410.5 855.0,418.0 845.0,419.2 840.0,413.0" fill="#e8eca5" stroke="#e8eca5" stroke-width="0.8"/>
<polygon points="855.0,419.2 865.0,415.5 873.8,409.2 877.5,425.5 873.8,433.0 861.2,435.5" fill="#eab071" stroke="#eab071" stroke-width="0.8"/>
<polygon points="272.0,481.0 543.8,481.0 543.8,678.8 468.2,678.8 462.0,666.0 458.2,653.5 452.0,643.5 442.0,633.5 427.0,631.0 419.5,628.5 410.8,633.5 408.2,643.5 402.0,648.5 389.5,641.0 379.5,633.5 372.0,621.0 368.2,606.0 357.0,594.8 347.0,583.5 338.2,572.2 335.8,568.5 300.8,569.8 299.5,579.8 272.0,576.0" fill="#e29b62" stroke="#e29b62" stroke-width="0.8"/>
<polygon points="272.0,481.0 295.8,481.0 290.8,516.0 277.0,522.2 272.0,518.5" fill="#8eb8a4" stroke="#8eb8a4" stroke-width="0.8"/>
<polygon points="295.8,481.0 307.0,481.0 305.8,489.8 294.5,488.5" fill="#aacaa2" stroke="#aacaa2" stroke-width="0.8"/>
<polygon points="352.0,481.0 363.2,481.0 362.5,494.8 352.0,493.5" fill="#a2c4a3" stroke="#a2c4a3" stroke-width="0.8"/>
<polygon points="293.2,498.5 320.8,502.2 345.8,507.2 347.0,513.5 355.8,514.8 353.2,524.8 345.8,526.0 343.2,543.5 323.2,549.8 314.5,551.0 313.2,534.8 289.5,532.2" fill="#f3f3f3" stroke="#f3f3f3" stroke-width="0.8"/>
<polygon points="370.8,492.2 394.5,493.5 400.8,492.2 399.5,481.0 417.0,481.0 415.8,502.2 410.8,503.5 397.0,509.8 395.8,522.2 377.0,521.0 369.5,513.5" fill="#f3f3f3" stroke="#f3f3f3" stroke-width="0.8"/>
<polygon points="289.5,532.2 313.2,534.8 314.5,551.0 323.2,549.8 322.0,569.8 300.8,569.8 299.5,579.8 283.2,577.2 285.8,553.5" fill="#fbf09d" stroke="#fbf09d" stroke-width="0.8"/>
<polygon points="272.0,549.8 285.8,553.5 283.2,577.2 272.0,576.0" fill="#f5f2a5" stroke="#f5f2a5" stroke-width="0.8"/>
<polygon points="323.2,549.8 343.2,543.5 342.0,563.5 335.8,568.5 322.0,569.8" fill="#f9df8e" stroke="#f9df8e" stroke-width="0.8"/>
<polygon points="377.0,522.2 395.8,522.2 398.2,536.0 397.0,556.0 395.8,572.2 373.2,571.0 372.0,558.5 364.5,556.0 365.8,544.8 374.5,542.2" fill="#c7543e" stroke="#c7543e" stroke-width="0.8"/>
<polygon points="398.2,536.0 412.0,537.2 410.8,574.8 397.0,573.5 397.0,556.0" fill="#a5022f" stroke="#a5022f" stroke-width="0.8"/>
<polygon points="417.0,486.0 444.5,486.0 445.8,498.5 454.5,499.8 454.0,508.5 417.0,506.0" fill="#cd6546" stroke="#cd6546" stroke-width="0.8"/>
<polygon points="445.8,481.0 477.0,481.0 475.8,488.5 467.0,489.8 465.8,498.5 445.8,498.0" fill="#ac0d2e" stroke="#ac0d2e" stroke-width="0.8"/>
<polygon points="425.8,508.5 435.8,507.2 434.5,518.5 433.2,531.0 415.0,529.8 415.8,518.5 425.8,518.5" fill="#c7543e" stroke="#c7543e" stroke-width="0.8"/>
<polygon points="414.5,530.5 454.0,533.0 453.2,543.5 450.0,553.5 432.0,553.5 432.0,542.2 413.2,541.0" fill="#cd6546" stroke="#cd6546" stroke-width="0.8"/>
<polygon points="412.0,541.5 432.0,542.2 430.8,562.2 411.5,562.2" fill="#a5022f" stroke="#a5022f" stroke-width="0.8"/>
<polygon points="430.8,553.5 450.0,554.0 447.0,576.0 444.5,599.8 435.8,599.8 437.0,581.0 439.0,564.8 429.5,563.0" fill="#a5022f" stroke="#a5022f" stroke-width="0.8"/>
<polygon points="411.5,562.2 439.0,564.8 435.8,598.5 423.2,598.5 415.8,592.2 415.0,574.0 410.8,574.8" fill="#ac0d2e" stroke="#ac0d2e" stroke-width="0.8"/>
<polygon points="389.5,574.8 415.0,574.0 415.0,592.2 408.2,593.5 397.0,604.2 386.5,594.8" fill="#6e0327" stroke="#6e0327" stroke-width="0.8"/>
<polygon points="454.5,544.8 464.5,544.0 463.2,556.0 460.8,576.0 450.0,575.5 450.8,556.0" fill="#c7543e" stroke="#c7543e" stroke-width="0.8"/>
<polygon points="455.8,499.8 467.0,489.8 478.2,488.5 478.2,518.5 493.2,524.8 497.0,529.8 495.8,543.5 485.8,544.8 484.5,556.0 472.0,556.0 470.8,576.0 460.8,576.0 463.2,556.0 464.5,544.0 454.5,543.5 454.0,521.0 447.0,519.8 447.0,509.8 454.5,508.5" fill="#f3f3f3" stroke="#f3f3f3" stroke-width="0.8"/>
<polygon points="498.2,527.2 508.2,526.0 517.0,531.0 515.8,543.5 497.0,544.8" fill="#a5022f" stroke="#a5022f" stroke-width="0.8"/>
<polygon points="478.2,481.0 505.8,481.0 505.8,501.0 478.2,501.0" fill="#eab071" stroke="#eab071" stroke-width="0.8"/>
<polygon points="478.2,502.2 505.8,502.2 500.8,516.0 489.5,518.5 478.2,513.5" fill="#efbd78" stroke="#efbd78" stroke-width="0.8"/>
<polygon points="512.0,481.0 543.8,481.0 543.8,508.5 524.5,509.8 524.5,496.0 512.0,493.5" fill="#cd6546" stroke="#cd6546" stroke-width="0.8"/>
<polygon points="500.8,509.8 518.2,508.5 524.5,511.0 525.8,529.8 518.2,532.2 508.2,526.0 504.5,518.5" fill="#c7543e" stroke="#c7543e" stroke-width="0.8"/>
<polygon points="524.5,509.8 543.8,508.5 543.8,531.0 534.5,533.5 525.8,529.8" fill="#d87f52" stroke="#d87f52" stroke-width="0.8"/>
<polygon points="527.0,534.8 537.0,534.8 543.8,541.0 543.8,563.5 532.0,556.0 529.5,543.5" fill="#e8eca5" stroke="#e8eca5" stroke-width="0.8"/>
<polygon points="487.0,544.8 515.8,543.5 527.0,534.8 529.5,543.5 532.0,556.0 535.8,566.0 522.0,568.5 505.8,567.2 504.5,556.0 487.0,554.8" fill="#eab071" stroke="#eab071" stroke-width="0.8"/>
<polygon points="472.0,556.0 504.5,556.0 505.8,567.2 498.2,577.2 472.0,577.2" fill="#d87f52" stroke="#d87f52" stroke-width="0.8"/>
<polygon points="498.2,577.2 505.8,567.2 518.2,572.2 522.0,582.2 515.8,591.0 507.0,594.8 502.0,586.0" fill="#e8eca5" stroke="#e8eca5" stroke-width="0.8"/>
<polygon points="470.8,577.2 480.8,578.5 483.2,591.0 492.0,591.0 493.2,621.0 470.8,621.0 469.5,609.8" fill="#f3f3f3" stroke="#f3f3f3" stroke-width="0.8"/>
<polygon points="370.8,572.2 389.5,574.8 386.5,594.8 397.0,604.2 408.2,593.5 415.0,592.2 423.2,598.5 452.0,601.0 452.0,619.8 434.5,618.5 434.5,611.0 424.5,611.0 417.0,621.0 419.5,628.5 410.8,633.5 408.2,643.5 402.0,648.5 389.5,641.0 379.5,633.5 372.0,621.0 368.2,606.0" fill="#f3f3f3" stroke="#f3f3f3" stroke-width="0.8"/>
<polygon points="335.8,568.5 370.8,572.2 368.2,606.0 357.0,594.8 347.0,583.5 338.2,572.2" fill="#f9df8e" stroke="#f9df8e" stroke-width="0.8"/>
<polygon points="417.0,621.0 424.5,611.0 434.5,611.0 434.5,618.5 457.0,621.0 457.0,637.2 468.2,638.5 468.2,651.0 458.2,653.5 452.0,643.5 442.0,633.5 427.0,631.0 419.5,628.5" fill="#eab071" stroke="#eab071" stroke-width="0.8"/>
<polygon points="452.0,609.8 469.5,611.0 470.8,621.0 478.2,623.5 483.2,638.5 483.2,651.0 468.2,651.0 468.2,638.5 457.0,637.2 457.0,621.0 452.0,619.8" fill="#e8eca5" stroke="#e8eca5" stroke-width="0.8"/>
<polygon points="478.2,622.2 493.2,621.0 494.5,607.2 504.5,606.0 518.2,604.8 512.0,617.2 502.0,618.5 500.8,631.0 489.5,633.5 482.0,631.0" fill="#c3dca3" stroke="#c3dca3" stroke-width="0.8"/>
<polygon points="502.0,618.5 512.0,617.2 518.2,604.8 529.5,603.5 543.8,611.0 543.8,621.0 532.0,628.5 522.0,637.2 512.0,631.0 507.0,628.5" fill="#dbe7a5" stroke="#dbe7a5" stroke-width="0.8"/>
<polygon points="518.2,643.5 528.2,636.0 533.2,641.0 524.5,651.0" fill="#f3f3f3" stroke="#f3f3f3" stroke-width="0.8"/>
<polygon points="532.0,628.5 543.8,621.0 543.8,638.5 537.0,639.8" fill="#f4cf85" stroke="#f4cf85" stroke-width="0.8"/>
<polygon points="510.8,656.0 519.5,649.8 523.2,661.0 532.0,667.2 543.8,667.2 543.8,678.8 522.0,678.8 515.8,671.0" fill="#ac0d2e" stroke="#ac0d2e" stroke-width="0.8"/>
<polygon points="468.2,651.0 495.8,652.2 497.0,678.8 468.2,678.8 462.0,666.0 458.2,653.5" fill="#f3f3f3" stroke="#f3f3f3" stroke-width="0.8"/>
<polygon points="458.2,653.5 468.2,651.0 468.2,666.0 462.0,666.0" fill="#e29b62" stroke="#e29b62" stroke-width="0.8"/>
<polygon points="469.5,673.5 483.2,674.8 483.2,678.8 469.5,678.8" fill="#efbd78" stroke="#efbd78" stroke-width="0.8"/>
<polygon points="544.0,481.0 815.8,481.0 815.8,613.5 806.5,618.5 791.5,623.5 784.0,616.0 769.0,608.5 756.5,611.0 744.0,609.8 734.0,613.5 719.0,614.8 704.0,618.5 694.0,626.0 704.0,636.0 706.5,646.0 694.0,641.0 684.0,646.0 669.0,647.2 661.5,641.0 649.0,633.5 641.5,637.2 626.5,637.2 604.0,636.0 584.0,638.5 574.0,651.0 559.0,661.0 549.0,663.5 544.0,671.0" fill="#f4cf85" stroke="#f4cf85" stroke-width="0.8"/>
<polygon points="590.2,481.0 679.0,488.5 674.0,503.5 660.2,528.5 657.8,541.0 652.0,554.0 597.8,554.8 597.8,541.0 590.2,539.8 589.0,506.0" fill="#eab071" stroke="#eab071" stroke-width="0.8"/>
<polygon points="717.0,499.8 769.0,494.8 787.8,556.0 779.0,551.0 766.5,563.5 750.2,553.5 751.5,576.0 735.2,568.5 727.8,553.5 725.2,537.2 717.0,536.0" fill="#eab071" stroke="#eab071" stroke-width="0.8"/>
<polygon points="544.0,481.0 587.8,481.0 589.0,506.0 585.2,528.5 576.5,531.0 564.0,533.5 544.0,534.8" fill="#e29b62" stroke="#e29b62" stroke-width="0.8"/>
<polygon points="544.0,534.8 564.0,533.5 585.2,528.5 597.8,541.0 599.0,581.0 609.0,591.0 610.2,601.0 604.0,636.0 594.0,638.5 586.5,621.0 569.0,616.0 556.5,606.0 544.0,598.5" fill="#eab071" stroke="#eab071" stroke-width="0.8"/>
<polygon points="552.8,543.5 562.8,534.8 576.5,533.5 582.8,541.0 581.5,548.5 571.5,549.8 564.0,561.0 554.0,556.0" fill="#d87f52" stroke="#d87f52" stroke-width="0.8"/>
<polygon points="544.0,547.2 551.5,546.0 556.5,563.5 551.5,573.5 544.0,576.0" fill="#e8eca5" stroke="#e8eca5" stroke-width="0.8"/>
<polygon points="544.0,621.0 556.5,616.0 569.0,617.2 581.5,611.0 591.5,623.5 594.0,638.5 584.0,638.5 574.0,651.0 559.0,643.5 544.0,636.0" fill="#fae696" stroke="#fae696" stroke-width="0.8"/>
<polygon points="554.0,603.5 566.5,592.2 581.5,592.2 594.0,601.0 576.5,604.8 569.0,616.0 559.0,608.5" fill="#e29b62" stroke="#e29b62" stroke-width="0.8"/>
<polygon points="544.0,646.0 554.0,641.0 562.8,647.2 571.5,641.0 577.8,651.0 574.0,653.5 559.0,662.2 549.0,663.5 544.0,658.5" fill="#cd6546" stroke="#cd6546" stroke-width="0.8"/>
<polygon points="596.5,488.5 621.5,486.0 622.8,497.2 615.2,506.0 605.2,511.0 597.8,503.5" fill="#f9df8e" stroke="#f9df8e" stroke-width="0.8"/>
<polygon points="607.8,481.0 629.0,481.0 626.5,486.0 610.2,487.2" fill="#a2c4a3" stroke="#a2c4a3" stroke-width="0.8"/>
<polygon points="624.0,487.2 629.0,481.0 641.5,482.2 640.2,493.5 630.2,496.0" fill="#dbe7a5" stroke="#dbe7a5" stroke-width="0.8"/>
<polygon points="616.5,496.0 630.2,496.0 644.0,506.0 645.2,517.2 631.5,522.2 625.2,518.5 619.0,511.0" fill="#e29b62" stroke="#e29b62" stroke-width="0.8"/>
<polygon points="590.2,488.5 596.5,488.5 597.8,503.5 605.2,511.0 601.5,513.5 594.0,522.2 590.2,513.5" fill="#e29b62" stroke="#e29b62" stroke-width="0.8"/>
<polygon points="594.0,522.2 601.5,513.5 605.2,511.0 619.0,511.0 625.2,518.5 631.5,522.2 630.2,527.2 621.5,527.2 617.8,543.5 602.8,544.8 597.8,541.0" fill="#eab071" stroke="#eab071" stroke-width="0.8"/>
<polygon points="621.5,527.2 630.2,527.2 632.8,543.5 637.8,552.2 619.0,553.5 604.0,553.5 602.8,544.8 617.8,543.5" fill="#d87f52" stroke="#d87f52" stroke-width="0.8"/>
<polygon points="657.8,481.0 672.8,481.0 674.0,491.0 667.8,506.0 660.2,503.5 659.0,491.0" fill="#e29b62" stroke="#e29b62" stroke-width="0.8"/>
<polygon points="672.8,481.0 681.5,481.0 679.0,488.5 673.5,491.0" fill="#bd3c34" stroke="#bd3c34" stroke-width="0.8"/>
<polygon points="640.2,544.8 651.5,544.0 652.0,553.5 640.2,554.0" fill="#f3f3f3" stroke="#f3f3f3" stroke-width="0.8"/>
<polygon points="650.2,554.0 659.5,553.5 659.5,564.8 651.5,564.8" fill="#f3f3f3" stroke="#f3f3f3" stroke-width="0.8"/>
<polygon points="604.0,584.8 611.5,584.0 616.5,594.8 610.2,599.8 605.2,593.5" fill="#f3f3f3" stroke="#f3f3f3" stroke-width="0.8"/>
<polygon points="624.0,561.0 631.5,561.0 635.2,583.5 626.5,586.5 622.8,586.0" fill="#d87f52" stroke="#d87f52" stroke-width="0.8"/>
<polygon points="610.2,598.5 616.5,594.8 625.2,598.5 630.2,606.0 630.2,638.5 604.0,636.0 607.8,616.0" fill="#e29b62" stroke="#e29b62" stroke-width="0.8"/>
<polygon points="630.2,604.8 645.2,606.0 650.2,616.0 654.0,628.5 641.5,636.0 630.2,638.5" fill="#e8eca5" stroke="#e8eca5" stroke-width="0.8"/>
<polygon points="650.2,603.5 679.0,602.2 694.0,618.5 694.0,626.0 684.0,631.0 661.5,628.5 654.0,628.5 650.2,616.0" fill="#fae696" stroke="#fae696" stroke-width="0.8"/>
<polygon points="660.2,528.5 671.5,527.2 672.8,546.0 667.8,551.0 671.5,563.5 664.0,563.5 660.2,543.5" fill="#eab071" stroke="#eab071" stroke-width="0.8"/>
<polygon points="672.8,532.2 691.5,529.8 694.0,539.8 691.5,543.5 675.2,544.8" fill="#dbe7a5" stroke="#dbe7a5" stroke-width="0.8"/>
<polygon points="675.2,544.8 691.5,543.5 694.0,541.0 704.0,543.5 706.5,552.2 696.5,551.0 682.8,554.8 674.0,549.8" fill="#a2c4a3" stroke="#a2c4a3" stroke-width="0.8"/>
<polygon points="692.8,533.5 704.0,529.8 711.5,534.8 707.8,543.5 706.5,552.2 696.5,551.0 696.0,542.2" fill="#8eb8a4" stroke="#8eb8a4" stroke-width="0.8"/>
<polygon points="691.5,516.0 716.5,512.2 716.5,531.0 711.5,534.8 704.0,529.8 692.8,533.5 691.5,529.8" fill="#e8eca5" stroke="#e8eca5" stroke-width="0.8"/>
<polygon points="707.8,534.8 716.5,531.0 717.0,551.0 706.5,552.2" fill="#dbe7a5" stroke="#dbe7a5" stroke-width="0.8"/>
<polygon points="694.0,502.2 704.0,501.0 705.2,514.8 694.0,516.0" fill="#fae696" stroke="#fae696" stroke-width="0.8"/>
<polygon points="704.0,501.0 716.5,500.5 716.5,512.2 705.2,514.8" fill="#e29b62" stroke="#e29b62" stroke-width="0.8"/>
<polygon points="667.8,551.0 674.0,549.8 682.8,554.8 675.2,563.5 669.0,561.0" fill="#e29b62" stroke="#e29b62" stroke-width="0.8"/>
<polygon points="669.0,566.0 682.8,554.8 696.5,552.2 697.8,571.0 690.2,572.2 691.5,581.0 671.5,583.5 667.8,576.0" fill="#fbf09d" stroke="#fbf09d" stroke-width="0.8"/>
<polygon points="696.5,552.2 716.5,551.5 717.0,578.5 706.5,578.5 706.0,571.0 697.8,570.5" fill="#f9df8e" stroke="#f9df8e" stroke-width="0.8"/>
<polygon points="690.2,572.2 706.0,571.0 706.5,578.5 716.5,579.0 716.5,588.5 699.0,588.5 697.8,581.0 691.5,581.0" fill="#dbe7a5" stroke="#dbe7a5" stroke-width="0.8"/>
<polygon points="654.0,586.0 671.5,587.2 671.5,583.5 691.5,581.0 697.8,581.0 699.0,588.5 709.0,589.8 710.2,601.0 691.5,601.0 691.5,592.2 654.0,596.0" fill="#fbf09d" stroke="#fbf09d" stroke-width="0.8"/>
<polygon points="651.5,596.0 691.5,592.2 692.0,601.0 651.5,603.0" fill="#e8eca5" stroke="#e8eca5" stroke-width="0.8"/>
<polygon points="671.5,583.5 685.2,583.0 685.2,592.2 672.0,593.0" fill="#eab071" stroke="#eab071" stroke-width="0.8"/>
<polygon points="645.2,581.0 654.0,572.2 661.5,573.5 654.0,586.0 651.5,596.0 646.5,593.5" fill="#fbf09d" stroke="#fbf09d" stroke-width="0.8"/>
<polygon points="691.5,601.0 710.2,600.5 710.2,589.0 716.5,588.5 719.0,612.2 704.0,618.5 695.2,619.8 690.2,608.5" fill="#e29b62" stroke="#e29b62" stroke-width="0.8"/>
<polygon points="717.0,536.0 725.2,537.2 727.8,553.5 734.0,561.0 735.2,568.5 724.0,578.5 717.0,581.0" fill="#aacaa2" stroke="#aacaa2" stroke-width="0.8"/>
<polygon points="717.8,516.0 739.0,514.8 741.5,531.0 725.2,536.0 717.8,534.8" fill="#e29b62" stroke="#e29b62" stroke-width="0.8"/>
<polygon points="719.0,581.0 724.0,578.5 735.2,568.5 749.0,571.0 749.0,581.0 739.0,586.0 734.0,593.5 741.5,611.0 734.0,613.5 730.2,606.0 727.8,613.5 720.2,613.5" fill="#fbf09d" stroke="#fbf09d" stroke-width="0.8"/>
<polygon points="734.0,586.0 739.0,577.2 751.5,577.2 755.2,593.5 737.8,596.0" fill="#aacaa2" stroke="#aacaa2" stroke-width="0.8"/>
<polygon points="755.2,581.0 761.5,569.8 774.0,568.5 775.2,576.0 765.2,581.0 766.5,593.5 755.2,594.8" fill="#dbe7a5" stroke="#dbe7a5" stroke-width="0.8"/>
<polygon points="766.5,563.5 779.0,551.0 787.8,553.5 786.5,563.5 776.5,568.5 770.2,568.5" fill="#fbf09d" stroke="#fbf09d" stroke-width="0.8"/>
<polygon points="750.2,553.5 766.5,552.2 766.5,563.5 759.0,581.0 750.2,576.0 751.5,563.5" fill="#e29b62" stroke="#e29b62" stroke-width="0.8"/>
<polygon points="775.2,569.8 785.2,564.8 786.5,574.8 775.2,578.5" fill="#8eb8a4" stroke="#8eb8a4" stroke-width="0.8"/>
<polygon points="786.5,571.0 796.5,568.5 801.5,578.5 796.5,586.0 790.2,589.8 787.8,581.0" fill="#8eb8a4" stroke="#8eb8a4" stroke-width="0.8"/>
<polygon points="779.0,556.0 787.8,556.0 789.0,564.8 780.2,564.8" fill="#e29b62" stroke="#e29b62" stroke-width="0.8"/>
<polygon points="787.8,561.0 794.0,553.5 804.0,552.2 809.0,561.0 815.8,563.5 815.8,588.5 804.0,588.5 801.5,578.5 796.5,568.5 789.0,567.2" fill="#dbe7a5" stroke="#dbe7a5" stroke-width="0.8"/>
<polygon points="791.5,586.0 801.5,584.8 804.0,596.0 794.0,597.2" fill="#e29b62" stroke="#e29b62" stroke-width="0.8"/>
<polygon points="804.0,588.5 815.8,588.5 815.8,597.2 805.2,596.5" fill="#aacaa2" stroke="#aacaa2" stroke-width="0.8"/>
<polygon points="769.0,494.8 787.8,493.5 787.8,501.0 790.2,508.5 782.8,518.5 786.5,526.0 794.0,529.8 806.5,531.0 815.8,534.8 815.8,553.5 804.0,552.2 794.0,553.5 787.8,556.0 781.5,536.0" fill="#e29b62" stroke="#e29b62" stroke-width="0.8"/>
<polygon points="782.8,518.5 790.2,508.5 799.0,506.0 806.5,513.5 815.8,518.5 815.8,534.8 806.5,531.0 794.0,529.8 786.5,526.0" fill="#dbe7a5" stroke="#dbe7a5" stroke-width="0.8"/>
<polygon points="787.8,493.5 797.8,492.2 799.0,506.0 790.2,508.5 787.8,501.0" fill="#dbe7a5" stroke="#dbe7a5" stroke-width="0.8"/>
<polygon points="799.0,496.0 815.8,494.8 815.8,518.5 806.5,513.5 801.5,506.0" fill="#f5f2a5" stroke="#f5f2a5" stroke-width="0.8"/>
<polygon points="794.0,486.0 806.5,482.2 815.8,481.0 815.8,492.2 801.5,496.0 795.2,491.0" fill="#72aaa5" stroke="#72aaa5" stroke-width="0.8"/>
<polygon points="736.5,596.0 794.0,591.0 796.5,598.5 815.8,597.2 815.8,613.5 806.5,618.5 791.5,623.5 784.0,616.0 769.0,608.5 756.5,611.0 744.0,609.8 741.5,611.0 737.8,603.5" fill="#fae696" stroke="#fae696" stroke-width="0.8"/>
<polygon points="706.5,481.0 724.0,481.0 722.8,486.0 716.5,489.8 709.0,486.0" fill="#bd3c34" stroke="#bd3c34" stroke-width="0.8"/>
<polygon points="726.5,481.0 784.0,481.0 781.5,492.2 744.0,496.0 741.5,488.5" fill="#e29b62" stroke="#e29b62" stroke-width="0.8"/>
<polygon points="675.2,502.2 694.0,502.2 694.0,516.0 691.5,516.0 669.0,518.5 667.8,506.0" fill="#eab071" stroke="#eab071" stroke-width="0.8"/>
<polygon points="815.0,481.0 933.8,481.0 925.0,493.5 915.0,501.0 906.2,511.0 902.5,522.2 892.5,531.0 882.5,541.0 872.5,548.5 868.8,556.0 866.2,568.5 866.2,591.0 868.8,601.0 875.0,613.5 885.0,628.5 895.0,641.0 901.2,663.5 912.5,678.8 857.5,678.8 855.0,673.5 848.8,661.0 850.0,641.0 847.5,633.5 832.5,624.8 825.0,617.2 815.0,606.0" fill="#f4cf85" stroke="#f4cf85" stroke-width="0.8"/>
<polygon points="865.0,481.0 887.5,482.2 912.5,499.8 915.0,501.0 925.0,493.5 933.8,481.0" fill="#fbf09d" stroke="#fbf09d" stroke-width="0.8"/>
<polygon points="891.2,487.2 912.5,499.8 906.2,511.0 902.5,521.0 887.5,516.0 885.0,506.0 878.8,496.0" fill="#fbf09d" stroke="#fbf09d" stroke-width="0.8"/>
<polygon points="868.8,492.2 878.8,496.0 885.0,506.0 887.5,516.0 881.2,518.5 872.5,508.5 866.2,498.5" fill="#e8eca5" stroke="#e8eca5" stroke-width="0.8"/>
<polygon points="845.0,502.2 852.5,493.5 868.8,492.2 866.2,498.5 872.5,508.5 881.2,518.5 877.5,522.2 860.0,512.2 847.5,511.0" fill="#fbf09d" stroke="#fbf09d" stroke-width="0.8"/>
<polygon points="836.2,481.0 851.2,481.0 852.5,493.5 845.0,496.0 838.8,491.0" fill="#eab071" stroke="#eab071" stroke-width="0.8"/>
<polygon points="875.0,484.8 887.5,482.2 891.2,487.2 890.0,493.5 878.8,489.8" fill="#eab071" stroke="#eab071" stroke-width="0.8"/>
<polygon points="867.5,528.5 881.2,518.5 887.5,516.0 902.5,522.2 892.5,531.0 882.5,541.0 873.8,536.0" fill="#dbe7a5" stroke="#dbe7a5" stroke-width="0.8"/>
<polygon points="852.5,526.0 862.5,521.0 877.5,522.2 867.5,528.5 873.8,536.0 872.5,548.5 868.8,556.0 866.2,546.0 862.5,538.5" fill="#fbf09d" stroke="#fbf09d" stroke-width="0.8"/>
<polygon points="838.8,541.0 852.5,533.5 862.5,538.5 860.0,548.5 847.5,553.5 840.0,551.0" fill="#e8eca5" stroke="#e8eca5" stroke-width="0.8"/>
<polygon points="815.0,528.5 822.5,527.2 827.5,538.5 823.8,553.5 826.2,566.0 815.0,568.5" fill="#e29b62" stroke="#e29b62" stroke-width="0.8"/>
<polygon points="846.2,553.5 860.0,553.5 866.2,561.0 866.2,568.5 862.5,566.0 861.2,573.5 852.5,576.0 850.0,566.0" fill="#e29b62" stroke="#e29b62" stroke-width="0.8"/>
<polygon points="850.0,576.0 861.2,573.5 862.5,566.0 867.5,566.0 866.2,579.8 852.5,582.2" fill="#d87f52" stroke="#d87f52" stroke-width="0.8"/>
<polygon points="830.0,573.5 840.0,568.5 850.0,566.0 852.5,576.0 852.5,582.2 866.2,579.8 866.2,591.0 862.5,596.0 865.0,611.0 858.8,613.5 857.5,603.5 847.5,604.8 846.2,593.5 837.5,591.0 831.2,581.0" fill="#eab071" stroke="#eab071" stroke-width="0.8"/>
<polygon points="815.0,568.5 826.2,566.0 830.0,573.5 831.2,581.0 837.5,591.0 846.2,593.5 815.0,596.0" fill="#f9df8e" stroke="#f9df8e" stroke-width="0.8"/>
<polygon points="866.2,598.5 870.0,603.5 875.0,613.5 868.8,614.8 866.2,606.0" fill="#eab071" stroke="#eab071" stroke-width="0.8"/>
<polygon points="848.8,623.5 858.8,619.8 868.8,621.0 870.0,631.0 857.5,633.5 856.2,641.0 850.0,641.0 847.5,633.5" fill="#fbf09d" stroke="#fbf09d" stroke-width="0.8"/>
<polygon points="857.5,636.0 870.0,631.0 872.5,627.2 885.0,637.2 888.8,646.0 891.2,661.0 885.0,663.5 875.0,653.5 863.8,647.2" fill="#b4d3a2" stroke="#b4d3a2" stroke-width="0.8"/>
<polygon points="885.0,633.5 895.0,641.0 901.2,663.5 891.2,662.2 888.8,646.0" fill="#fbf09d" stroke="#fbf09d" stroke-width="0.8"/>
<polygon points="850.0,642.2 857.5,641.0 863.8,647.2 866.2,666.0 855.0,667.2 848.8,661.0" fill="#eab071" stroke="#eab071" stroke-width="0.8"/>
<polygon points="885.0,664.8 901.2,663.5 912.5,678.8 890.0,678.8 891.2,673.5" fill="#8eb8a4" stroke="#8eb8a4" stroke-width="0.8"/>
<polygon points="855.0,668.5 866.2,667.2 868.8,673.5 878.8,672.2 878.8,678.8 857.5,678.8" fill="#dbe7a5" stroke="#dbe7a5" stroke-width="0.8"/>
<polygon points="815.0,501.0 825.0,498.5 832.5,511.0 827.5,521.0 815.0,518.5" fill="#dbe7a5" stroke="#dbe7a5" stroke-width="0.8"/>
<polygon points="440.0,453.8 478.8,454.5 478.8,465.0 446.2,465.0 446.2,476.2 440.0,476.2" fill="#eab071" stroke="#eab071" stroke-width="0.8"/>
<polygon points="446.2,465.0 478.8,466.2 477.5,477.5 446.2,477.0" fill="#f3f3f3" stroke="#f3f3f3" stroke-width="0.8"/>
<polygon points="445.0,477.5 477.5,478.8 476.2,487.5 466.2,488.8 465.0,498.8 446.2,497.5" fill="#ac0d2e" stroke="#ac0d2e" stroke-width="0.8"/>
<polygon points="465.0,490.0 477.5,488.8 478.8,512.5 492.5,517.5 497.5,525.0 497.5,545.0 486.2,546.2 485.0,557.5 471.2,558.8 470.0,576.2 461.2,576.2 462.5,543.8 455.0,542.5 455.0,520.0 447.5,517.5 448.8,507.5 455.0,506.2 456.2,498.8 465.0,498.8" fill="#f3f3f3" stroke="#f3f3f3" stroke-width="0.8"/>
<polygon points="478.8,455.0 497.5,455.5 500.0,472.5 491.2,476.2 480.0,482.5 478.8,467.5" fill="#f9df8e" stroke="#f9df8e" stroke-width="0.8"/>
<polygon points="497.5,455.5 530.0,456.2 528.8,477.5 513.8,477.5 512.5,490.0 506.2,491.2 505.0,481.2 491.2,480.0 491.2,476.2 500.0,472.5" fill="#eab071" stroke="#eab071" stroke-width="0.8"/>
<polygon points="478.8,483.8 491.2,480.0 505.0,481.2 506.2,491.2 505.0,507.5 493.8,510.0 478.8,507.5" fill="#d87f52" stroke="#d87f52" stroke-width="0.8"/>
<polygon points="530.0,456.2 560.0,457.0 561.2,463.8 570.0,463.8 571.2,457.0 577.5,457.0 577.0,476.2 565.0,485.0 560.0,483.8 553.8,490.0 547.5,487.5 547.5,500.0 540.0,508.8 526.2,508.8 525.0,493.8 512.5,490.0 513.8,477.5 528.8,477.5" fill="#cd6546" stroke="#cd6546" stroke-width="0.8"/>
<polygon points="560.0,457.0 571.2,457.0 570.0,463.8 561.2,463.8" fill="#eab071" stroke="#eab071" stroke-width="0.8"/>
<polygon points="577.0,476.2 586.2,477.5 589.5,490.0 589.0,517.5 578.8,513.8 557.5,516.2 556.2,503.8 567.5,498.8 575.0,490.0 565.0,485.0" fill="#e29b62" stroke="#e29b62" stroke-width="0.8"/>
<polygon points="577.5,457.0 586.2,455.5 586.2,477.5 577.0,476.2" fill="#e29b62" stroke="#e29b62" stroke-width="0.8"/>
<polygon points="540.0,508.8 547.5,500.0 547.5,487.5 553.8,490.0 560.0,483.8 565.0,485.0 575.0,490.0 567.5,498.8 556.2,503.8 557.5,516.2 550.0,520.0 548.8,526.2 540.0,525.0" fill="#d87f52" stroke="#d87f52" stroke-width="0.8"/>
<polygon points="501.2,510.0 512.5,508.8 515.0,515.0 526.2,513.8 526.2,531.2 517.5,533.8 510.0,526.2 503.8,523.8" fill="#c7543e" stroke="#c7543e" stroke-width="0.8"/>
<polygon points="526.2,510.0 540.0,508.8 540.0,525.0 548.8,526.2 546.2,533.8 535.0,535.0 526.2,531.2" fill="#cd6546" stroke="#cd6546" stroke-width="0.8"/>
<polygon points="562.5,516.2 578.8,513.8 589.0,517.5 589.5,537.5 576.2,532.5 560.0,533.8 550.0,527.5 550.0,520.0" fill="#efbd78" stroke="#efbd78" stroke-width="0.8"/>
<polygon points="505.0,507.5 512.5,490.0 525.0,493.8 526.2,508.8 526.2,513.8 515.0,515.0 512.5,508.8 501.2,510.0" fill="#eab071" stroke="#eab071" stroke-width="0.8"/>
<polygon points="498.0,526.2 510.0,526.2 517.5,533.8 516.2,543.8 498.0,544.5" fill="#a5022f" stroke="#a5022f" stroke-width="0.8"/>
<polygon points="486.2,546.2 517.5,543.8 525.0,535.0 527.5,557.5 536.2,560.0 535.0,575.0 520.0,576.2 515.0,567.5 505.0,570.0 503.8,556.2 487.5,557.5" fill="#eab071" stroke="#eab071" stroke-width="0.8"/>
<polygon points="527.5,536.2 540.0,537.5 541.2,545.0 551.2,546.2 552.5,557.5 556.2,567.5 547.5,573.8 535.0,575.0 536.2,560.0 527.5,557.5" fill="#e8eca5" stroke="#e8eca5" stroke-width="0.8"/>
<polygon points="552.5,538.8 562.5,533.8 576.2,533.0 583.8,540.0 572.5,545.0 571.2,555.0 562.5,556.2 561.2,561.2 552.5,557.5 551.2,546.2" fill="#d87f52" stroke="#d87f52" stroke-width="0.8"/>
<polygon points="540.0,536.2 552.5,538.8 551.2,546.2 541.2,545.0" fill="#eab071" stroke="#eab071" stroke-width="0.8"/>
<polygon points="572.5,545.0 583.8,540.0 590.0,538.8 598.8,541.2 600.0,581.2 590.0,582.5 576.2,585.0 575.0,557.5 571.2,555.0" fill="#f4cf85" stroke="#f4cf85" stroke-width="0.8"/>
<polygon points="472.5,557.5 503.8,556.2 505.0,570.0 497.5,576.2 472.5,576.2" fill="#d87f52" stroke="#d87f52" stroke-width="0.8"/>
<polygon points="497.5,576.2 505.0,570.0 515.0,567.5 520.0,576.2 515.0,587.5 507.5,593.8 501.2,586.2" fill="#e8eca5" stroke="#e8eca5" stroke-width="0.8"/>
<polygon points="516.2,578.8 535.0,575.0 540.0,586.2 545.0,600.0 535.0,605.0 526.2,600.0 522.5,590.0" fill="#d87f52" stroke="#d87f52" stroke-width="0.8"/>
<polygon points="480.0,577.5 497.5,576.2 501.2,586.2 507.5,593.8 510.0,600.0 503.8,605.0 495.0,600.0 481.2,592.5" fill="#e29b62" stroke="#e29b62" stroke-width="0.8"/>
<polygon points="503.8,597.5 522.5,590.0 526.2,600.0 535.0,605.0 527.5,610.0 515.0,606.2 506.2,606.2" fill="#d87f52" stroke="#d87f52" stroke-width="0.8"/>
<polygon points="535.0,575.0 547.5,573.8 556.2,567.5 561.2,561.2 562.5,556.2 571.2,555.0 575.0,557.5 576.2,585.0 590.0,582.5 602.5,600.0 587.5,602.5 575.0,610.0 555.0,600.0 545.0,600.0 540.0,586.2" fill="#f4cf85" stroke="#f4cf85" stroke-width="0.8"/>
<polygon points="555.0,600.0 565.0,592.5 580.0,591.2 592.5,600.0 587.5,602.5 576.2,610.0 570.0,615.0 562.5,617.5 557.5,612.5" fill="#eab071" stroke="#eab071" stroke-width="0.8"/>
<polygon points="540.0,610.0 555.0,600.0 557.5,612.5 562.5,617.5 576.2,610.0 587.5,602.5 605.0,601.2 606.2,625.0 592.5,637.8 530.0,637.8 532.5,625.0" fill="#fae696" stroke="#fae696" stroke-width="0.8"/>
<polygon points="477.5,623.8 493.8,620.0 495.0,606.2 506.2,606.2 515.0,606.2 527.5,610.0 542.5,602.5 545.0,610.0 540.0,615.0 532.5,625.0 515.0,630.0 502.5,625.0 488.8,627.5 480.0,632.5" fill="#c3dca3" stroke="#c3dca3" stroke-width="0.8"/>
<polygon points="452.5,611.2 470.0,610.0 477.5,623.8 480.0,632.5 472.5,637.8 452.5,637.8" fill="#e8eca5" stroke="#e8eca5" stroke-width="0.8"/>
<polygon points="440.0,498.8 455.0,498.8 455.0,506.2 448.8,507.5 447.5,517.5 455.0,520.0 455.0,532.5 440.0,532.5" fill="#e29b62" stroke="#e29b62" stroke-width="0.8"/>
<polygon points="440.0,532.5 455.0,532.5 455.0,542.5 451.2,543.8 451.2,553.8 440.0,553.8" fill="#cd6546" stroke="#cd6546" stroke-width="0.8"/>
<polygon points="440.0,553.8 450.0,553.8 450.0,575.0 446.2,576.2 445.0,600.0 440.0,600.0" fill="#a5022f" stroke="#a5022f" stroke-width="0.8"/>
<polygon points="451.2,543.8 463.8,543.8 462.5,557.5 461.2,576.2 450.0,575.0 451.2,553.8" fill="#c7543e" stroke="#c7543e" stroke-width="0.8"/>
<polygon points="446.2,576.2 470.0,576.2 471.2,590.0 470.0,610.0 452.5,611.2 445.0,600.0" fill="#e29b62" stroke="#e29b62" stroke-width="0.8"/>
<polygon points="471.2,576.2 480.0,577.5 481.2,592.5 495.0,600.0 493.8,620.0 477.5,623.8 470.0,610.0 471.2,590.0" fill="#f3f3f3" stroke="#f3f3f3" stroke-width="0.8"/>
<polygon points="440.0,600.0 445.0,600.0 452.5,611.2 452.5,620.0 440.0,620.0" fill="#f3f3f3" stroke="#f3f3f3" stroke-width="0.8"/>
<polygon points="603.8,440.0 632.5,440.0 633.8,450.0 620.0,460.0 610.0,458.8 602.5,447.5" fill="#dbe7a5" stroke="#dbe7a5" stroke-width="0.8"/>
<polygon points="632.5,440.0 652.5,440.0 653.8,465.0 635.0,465.0 633.8,450.0" fill="#a2c4a3" stroke="#a2c4a3" stroke-width="0.8"/>
<polygon points="596.2,447.5 602.5,447.5 610.0,458.8 620.0,460.0 621.2,466.2 596.2,467.5" fill="#f5f2a5" stroke="#f5f2a5" stroke-width="0.8"/>
<polygon points="586.2,446.2 596.2,447.5 596.2,467.5 586.2,467.5" fill="#eab071" stroke="#eab071" stroke-width="0.8"/>
<polygon points="600.0,468.8 620.0,468.0 621.2,477.5 628.8,480.0 623.8,486.2 610.0,486.2 607.5,475.0 601.2,473.8" fill="#a2c4a3" stroke="#a2c4a3" stroke-width="0.8"/>
<polygon points="623.8,486.2 633.8,477.5 641.2,482.5 640.0,493.8 626.2,495.0" fill="#c3dca3" stroke="#c3dca3" stroke-width="0.8"/>
<polygon points="597.5,487.5 622.5,486.2 626.2,495.0 615.0,500.0 605.0,511.2 597.5,505.0" fill="#f9df8e" stroke="#f9df8e" stroke-width="0.8"/>
<polygon points="586.2,468.8 600.0,468.8 601.2,473.8 607.5,475.0 610.0,486.2 597.5,487.5 590.0,488.8" fill="#f4cf85" stroke="#f4cf85" stroke-width="0.8"/>
<polygon points="615.0,500.0 626.2,495.0 640.0,493.8 645.0,502.5 643.8,515.0 635.0,517.5 631.2,526.2 620.0,526.2 618.8,535.0 602.5,526.2 600.0,515.0 605.0,511.2" fill="#e29b62" stroke="#e29b62" stroke-width="0.8"/>
<polygon points="652.5,466.2 673.8,465.0 675.0,477.5 672.5,490.0 676.2,497.5 665.0,520.0 660.0,527.5 657.5,515.0 658.8,492.5 651.2,487.5" fill="#d87f52" stroke="#d87f52" stroke-width="0.8"/>
<polygon points="672.5,465.0 676.2,461.2 686.2,467.5 681.2,477.5 675.0,477.5" fill="#cd6546" stroke="#cd6546" stroke-width="0.8"/>
<polygon points="620.0,526.2 631.2,526.2 632.5,540.0 638.8,552.5 603.8,552.5 605.0,545.0 618.8,543.8 618.8,535.0" fill="#d87f52" stroke="#d87f52" stroke-width="0.8"/>
<polygon points="632.5,517.5 645.0,515.0 657.5,515.0 660.0,527.5 657.5,550.0 638.8,552.5 632.5,540.0" fill="#eab071" stroke="#eab071" stroke-width="0.8"/>
<polygon points="590.0,515.0 600.0,515.0 602.5,526.2 618.8,535.0 618.8,543.8 605.0,545.0 603.8,552.5 599.5,552.5 598.8,541.2 590.0,538.8" fill="#f4cf85" stroke="#f4cf85" stroke-width="0.8"/>
<polygon points="640.0,543.8 651.2,543.8 652.0,552.5 640.0,553.0" fill="#f3f3f3" stroke="#f3f3f3" stroke-width="0.8"/>
<polygon points="650.0,553.0 660.0,552.5 660.0,563.8 651.2,563.8" fill="#f3f3f3" stroke="#f3f3f3" stroke-width="0.8"/>
<polygon points="603.8,583.8 612.5,583.8 616.2,593.8 610.0,598.8 605.0,592.5" fill="#f3f3f3" stroke="#f3f3f3" stroke-width="0.8"/>
<polygon points="623.8,561.2 632.5,561.2 635.0,582.5 626.2,586.2 623.0,585.0" fill="#d87f52" stroke="#d87f52" stroke-width="0.8"/>
<polygon points="600.0,555.0 623.8,555.0 623.8,561.2 623.0,585.0 612.5,583.8 603.8,583.8 600.0,581.2" fill="#f4cf85" stroke="#f4cf85" stroke-width="0.8"/>
<polygon points="632.5,555.0 650.0,553.8 651.2,563.8 652.5,580.0 635.0,582.5 632.5,561.2" fill="#eab071" stroke="#eab071" stroke-width="0.8"/>
<polygon points="610.0,598.8 616.2,593.8 625.0,597.5 630.0,605.0 630.0,637.8 606.2,637.8 606.2,615.0" fill="#e29b62" stroke="#e29b62" stroke-width="0.8"/>
<polygon points="630.0,605.0 645.0,605.0 650.0,615.0 652.5,627.5 642.5,635.0 630.0,637.8" fill="#e8eca5" stroke="#e8eca5" stroke-width="0.8"/>
<polygon points="616.2,593.8 626.2,586.2 635.0,582.5 652.5,580.0 652.5,590.0 651.2,602.5 645.0,605.0 630.0,605.0 625.0,597.5" fill="#f9df8e" stroke="#f9df8e" stroke-width="0.8"/>
<polygon points="652.5,580.0 660.0,571.2 662.5,576.2 657.5,585.0 652.5,602.5 651.2,602.5 652.5,590.0" fill="#fbf09d" stroke="#fbf09d" stroke-width="0.8"/>
<polygon points="667.5,565.0 682.5,553.8 711.8,551.2 711.8,570.0 690.0,572.5 690.0,580.0 671.2,582.5 667.5,575.0" fill="#fbf09d" stroke="#fbf09d" stroke-width="0.8"/>
<polygon points="671.2,531.2 691.2,528.8 692.5,542.5 675.0,545.0" fill="#dbe7a5" stroke="#dbe7a5" stroke-width="0.8"/>
<polygon points="675.0,545.0 692.5,542.5 696.2,550.0 682.5,553.8 673.8,550.0" fill="#a2c4a3" stroke="#a2c4a3" stroke-width="0.8"/>
<polygon points="691.2,533.8 702.5,530.0 711.8,533.8 711.8,550.0 696.2,550.0 692.5,542.5" fill="#8eb8a4" stroke="#8eb8a4" stroke-width="0.8"/>
<polygon points="690.0,515.0 711.8,512.5 711.8,530.0 702.5,530.0 691.2,533.8 691.2,528.8" fill="#e8eca5" stroke="#e8eca5" stroke-width="0.8"/>
<polygon points="692.5,501.2 703.8,500.0 705.0,513.8 693.8,515.0" fill="#f9df8e" stroke="#f9df8e" stroke-width="0.8"/>
<polygon points="660.0,527.5 671.2,531.2 675.0,545.0 673.8,550.0 677.5,560.0 667.5,565.0 663.8,560.0 660.0,563.8 660.0,552.5" fill="#eab071" stroke="#eab071" stroke-width="0.8"/>
<polygon points="652.5,595.0 691.2,591.2 692.0,600.0 652.0,602.0" fill="#e8eca5" stroke="#e8eca5" stroke-width="0.8"/>
<polygon points="653.8,585.0 671.2,582.5 690.0,580.0 691.2,591.2 652.5,595.0" fill="#fbf09d" stroke="#fbf09d" stroke-width="0.8"/>
<polygon points="690.0,572.5 711.8,570.0 711.8,587.5 698.8,587.5 697.5,580.0 691.2,580.0" fill="#dbe7a5" stroke="#dbe7a5" stroke-width="0.8"/>
<polygon points="671.2,582.5 685.0,582.0 685.0,591.2 672.0,592.0" fill="#eab071" stroke="#eab071" stroke-width="0.8"/>
<polygon points="650.0,602.5 691.2,600.0 695.0,617.5 690.0,625.0 677.5,620.0 665.0,625.0 652.5,627.5" fill="#fae696" stroke="#fae696" stroke-width="0.8"/>
<polygon points="691.2,601.2 711.8,600.0 711.8,615.0 705.0,617.5 695.0,618.8" fill="#e29b62" stroke="#e29b62" stroke-width="0.8"/>
<polygon points="667.5,498.8 690.0,496.2 692.5,501.2 693.8,515.0 690.0,515.0 672.5,517.5 665.0,520.0 676.2,497.5" fill="#f4cf85" stroke="#f4cf85" stroke-width="0.8"/>
<polygon points="686.2,440.0 711.8,440.0 711.8,460.0 690.0,462.5 686.2,467.5 690.0,455.0" fill="#e29b62" stroke="#e29b62" stroke-width="0.8"/>
<polygon points="700.0,477.5 711.8,477.5 711.8,487.5 705.0,487.5" fill="#c7543e" stroke="#c7543e" stroke-width="0.8"/>
<polygon points="815.0,448.8 855.0,442.5 873.8,441.2 872.5,455.0 867.5,460.0 860.0,462.5 850.0,452.5 840.0,457.5 827.5,460.0 815.0,462.5" fill="#f9df8e" stroke="#f9df8e" stroke-width="0.8"/>
<polygon points="855.0,442.5 890.0,438.8 890.0,452.5 886.2,457.5 897.5,467.5 877.5,466.2 867.5,460.0 872.5,455.0 873.8,441.2" fill="#f4cf85" stroke="#f4cf85" stroke-width="0.8"/>
<polygon points="890.0,438.8 912.5,436.2 915.0,442.5 911.2,455.0 917.5,457.5 915.0,465.0 906.2,467.5 897.5,467.5 886.2,457.5 890.0,452.5" fill="#e8eca5" stroke="#e8eca5" stroke-width="0.8"/>
<polygon points="912.5,442.5 927.5,442.5 925.0,452.5 917.5,457.5 911.2,455.0" fill="#dbe7a5" stroke="#dbe7a5" stroke-width="0.8"/>
<polygon points="903.8,436.2 915.0,433.8 935.0,430.0 940.0,442.5 932.5,445.5 915.0,442.5 912.5,436.2" fill="#a2c4a3" stroke="#a2c4a3" stroke-width="0.8"/>
<polygon points="927.5,442.5 940.0,442.5 957.5,440.0 961.2,445.0 955.0,455.0 945.0,455.0 932.5,452.5 925.0,452.5" fill="#e8eca5" stroke="#e8eca5" stroke-width="0.8"/>
<polygon points="921.2,452.5 932.5,452.5 945.0,455.0 955.0,455.0 951.2,467.5 940.0,477.5 932.5,485.0 925.0,480.0 927.5,472.5 922.5,465.0" fill="#fbf09d" stroke="#fbf09d" stroke-width="0.8"/>
<polygon points="906.2,467.5 915.0,465.0 922.5,465.0 927.5,472.5 925.0,480.0 915.0,481.2 908.8,475.0" fill="#f4cf85" stroke="#f4cf85" stroke-width="0.8"/>
<polygon points="877.5,466.2 897.5,467.5 906.2,467.5 908.8,475.0 902.5,480.0 903.8,490.0 890.0,485.0 886.2,482.5 880.0,475.0" fill="#f4cf85" stroke="#f4cf85" stroke-width="0.8"/>
<polygon points="902.5,480.0 915.0,481.2 925.0,480.0 932.5,485.0 925.0,495.0 915.0,500.0 912.5,498.8 903.8,490.0" fill="#fbf09d" stroke="#fbf09d" stroke-width="0.8"/>
<polygon points="860.0,462.5 867.5,460.0 877.5,466.2 880.0,475.0 886.2,482.5 872.5,485.0 858.8,480.0 862.5,470.0" fill="#fae696" stroke="#fae696" stroke-width="0.8"/>
<polygon points="833.8,473.8 858.8,468.8 858.8,478.8 840.0,480.0" fill="#e29b62" stroke="#e29b62" stroke-width="0.8"/>
<polygon points="841.2,457.5 861.2,456.2 862.5,468.8 850.0,466.2 842.5,462.5" fill="#e29b62" stroke="#e29b62" stroke-width="0.8"/>
<polygon points="815.0,467.5 825.0,461.2 833.8,473.8 830.0,485.0 815.0,485.0" fill="#a2c4a3" stroke="#a2c4a3" stroke-width="0.8"/>
<polygon points="827.5,460.0 840.0,457.5 842.5,462.5 850.0,466.2 847.5,470.0 833.8,473.8 825.0,461.2" fill="#f4cf85" stroke="#f4cf85" stroke-width="0.8"/>
<polygon points="836.2,482.5 850.0,481.2 853.8,495.0 842.5,493.8 836.2,487.5" fill="#eab071" stroke="#eab071" stroke-width="0.8"/>
<polygon points="850.0,480.0 858.8,480.0 872.5,485.0 871.2,490.0 866.2,492.5 853.8,495.0" fill="#f9df8e" stroke="#f9df8e" stroke-width="0.8"/>
<polygon points="871.2,485.0 886.2,482.5 890.0,485.0 891.2,492.5 882.5,490.0 875.0,491.2" fill="#eab071" stroke="#eab071" stroke-width="0.8"/>
<polygon points="878.8,492.5 891.2,487.5 912.5,498.8 915.0,500.0 905.0,512.5 902.5,522.5 887.5,516.2 885.0,505.0" fill="#fbf09d" stroke="#fbf09d" stroke-width="0.8"/>
<polygon points="867.5,492.5 877.5,495.0 885.0,505.0 887.5,516.2 881.2,518.8 872.5,508.8 866.2,500.0" fill="#dbe7a5" stroke="#dbe7a5" stroke-width="0.8"/>
<polygon points="845.0,502.5 852.5,493.8 867.5,492.5 866.2,500.0 872.5,508.8 881.2,518.8 877.5,522.5 860.0,512.5 847.5,511.2" fill="#fbf09d" stroke="#fbf09d" stroke-width="0.8"/>
<polygon points="815.0,482.5 836.2,482.5 836.2,487.5 842.5,493.8 852.5,493.8 845.0,502.5 847.5,511.2 830.0,526.2 815.0,507.5" fill="#f4cf85" stroke="#f4cf85" stroke-width="0.8"/>
<polygon points="867.5,528.8 881.2,518.8 887.5,516.2 902.5,522.5 892.5,531.2 882.5,541.2 873.8,536.2" fill="#dbe7a5" stroke="#dbe7a5" stroke-width="0.8"/>
<polygon points="852.5,526.2 862.5,521.2 877.5,522.5 867.5,528.8 873.8,536.2 872.5,548.8 868.8,556.2 866.2,546.2 862.5,538.8" fill="#fbf09d" stroke="#fbf09d" stroke-width="0.8"/>
<polygon points="838.8,541.2 852.5,533.8 862.5,538.8 860.0,548.8 847.5,553.8 840.0,551.2" fill="#e8eca5" stroke="#e8eca5" stroke-width="0.8"/>
<polygon points="830.0,526.2 847.5,511.2 860.0,512.5 862.5,521.2 852.5,526.2 852.5,533.8 838.8,541.2 840.0,551.2 830.0,555.0 823.8,540.0" fill="#f4cf85" stroke="#f4cf85" stroke-width="0.8"/>
<polygon points="815.0,528.8 822.5,527.5 827.5,538.8 823.8,553.8 826.2,566.2 815.0,568.8" fill="#e29b62" stroke="#e29b62" stroke-width="0.8"/>
<polygon points="846.2,553.8 860.0,553.8 866.2,561.2 866.2,568.8 862.5,566.2 861.2,573.8 852.5,576.2 850.0,566.2" fill="#e29b62" stroke="#e29b62" stroke-width="0.8"/>
<polygon points="825.0,400.0 833.8,393.8 841.2,395.0 847.5,396.2 840.0,406.2 837.5,413.8 832.5,417.5 826.2,412.5" fill="#d87f52" stroke="#d87f52" stroke-width="0.8"/>
<polygon points="840.0,402.5 852.5,405.0 861.2,402.5 865.0,410.0 855.0,417.5 845.0,418.8" fill="#e8eca5" stroke="#e8eca5" stroke-width="0.8"/>
<polygon points="855.0,418.8 865.0,415.0 873.8,408.8 877.5,425.0 873.8,432.5 861.2,435.0" fill="#eab071" stroke="#eab071" stroke-width="0.8"/>
<polygon points="873.8,412.5 883.8,406.2 895.0,410.0 896.2,422.5 885.0,425.0 875.0,423.8" fill="#fbf09d" stroke="#fbf09d" stroke-width="0.8"/>
<polygon points="890.0,425.0 900.0,412.5 910.0,416.2 917.5,422.5 923.8,430.0 890.0,435.0" fill="#c3dca3" stroke="#c3dca3" stroke-width="0.8"/>
<polygon points="905.0,402.5 925.0,396.2 940.0,407.5 945.0,418.8 932.5,427.5 923.8,430.0 917.5,422.5" fill="#eab071" stroke="#eab071" stroke-width="0.8"/>
<polygon points="865.0,395.0 880.0,390.0 890.0,395.0 892.5,407.5 883.8,406.2 873.8,412.5 866.2,407.5" fill="#f4cf85" stroke="#f4cf85" stroke-width="0.8"/>
<polygon points="890.0,387.5 900.0,383.8 907.5,390.0 911.2,397.5 902.5,402.5 900.0,412.5 892.5,407.5" fill="#dbe7a5" stroke="#dbe7a5" stroke-width="0.8"/>
<polygon points="907.5,390.0 915.0,381.2 922.5,390.0 920.0,398.8 913.8,396.2" fill="#e29b62" stroke="#e29b62" stroke-width="0.8"/>
<polygon points="815.0,432.5 835.0,422.5 847.5,427.5 861.2,435.0 847.5,441.2 815.0,447.5" fill="#f9df8e" stroke="#f9df8e" stroke-width="0.8"/>
<polygon points="935.0,430.0 951.2,422.5 955.0,432.5 947.5,438.8 940.0,438.8" fill="#eab071" stroke="#eab071" stroke-width="0.8"/>
<polygon points="835.0,446.2 840.0,443.8 855.0,445.5 858.8,455.0 847.5,457.5 837.5,460.5" fill="#8eb8a4" stroke="#8eb8a4" stroke-width="0.8"/>
<polygon points="687.5,463.8 715.0,457.5 760.0,455.0 762.5,470.0 755.0,480.0 762.5,495.0 717.5,498.8 680.0,501.2 680.0,482.5" fill="#e29b62" stroke="#e29b62" stroke-width="0.8"/>
<polygon points="706.2,481.2 715.0,478.8 723.8,481.2 725.0,486.2 715.0,490.0 707.5,487.5" fill="#c7543e" stroke="#c7543e" stroke-width="0.8"/>
<polygon points="716.2,457.5 733.8,456.2 732.5,466.2 721.2,468.8 717.5,465.0" fill="#d87f52" stroke="#d87f52" stroke-width="0.8"/>
<polygon points="746.2,481.2 760.0,480.0 762.5,495.0 750.0,495.0 745.5,487.5" fill="#d87f52" stroke="#d87f52" stroke-width="0.8"/>
<polygon points="692.5,472.5 702.5,470.0 706.2,481.2 705.0,492.5 695.0,495.0 691.2,482.5" fill="#f4cf85" stroke="#f4cf85" stroke-width="0.8"/>
<polygon points="760.0,455.0 773.8,455.0 775.0,461.2 767.5,467.5 762.5,470.0" fill="#f4cf85" stroke="#f4cf85" stroke-width="0.8"/>
<polygon points="773.8,455.0 780.0,453.8 781.2,463.8 778.8,470.0 780.0,480.0 773.8,483.8 770.0,477.5 773.8,467.5 775.0,461.2" fill="#c3dca3" stroke="#c3dca3" stroke-width="0.8"/>
<polygon points="780.0,460.0 790.0,452.5 798.8,452.5 802.5,461.2 803.8,472.5 797.5,477.5 787.5,473.8 781.2,463.8" fill="#e29b62" stroke="#e29b62" stroke-width="0.8"/>
<polygon points="780.0,480.0 787.5,473.8 797.5,477.5 800.0,482.5 793.8,487.5 790.0,492.5 768.8,493.8 773.8,483.8" fill="#f4cf85" stroke="#f4cf85" stroke-width="0.8"/>
<polygon points="802.5,455.0 815.0,457.5 820.0,465.0 816.2,471.2 803.8,472.5 802.5,461.2" fill="#eab071" stroke="#eab071" stroke-width="0.8"/>
<polygon points="815.0,467.5 822.5,461.2 831.2,466.2 833.8,476.2 827.5,485.0 820.0,483.8 816.2,473.8" fill="#c3dca3" stroke="#c3dca3" stroke-width="0.8"/>
<polygon points="803.8,472.5 816.2,471.2 820.0,483.8 816.2,487.5 807.5,481.2 800.0,482.5 797.5,477.5" fill="#eab071" stroke="#eab071" stroke-width="0.8"/>
<polygon points="793.8,487.5 800.0,482.5 807.5,481.2 816.2,487.5 812.5,493.8 802.5,495.0 798.8,498.8 795.0,492.5" fill="#72aaa5" stroke="#72aaa5" stroke-width="0.8"/>
<polygon points="835.0,447.5 840.0,443.8 855.0,445.0 858.8,455.0 850.0,457.5 841.2,456.2 837.5,461.2 834.5,457.5" fill="#8eb8a4" stroke="#8eb8a4" stroke-width="0.8"/>
<polygon points="840.0,457.5 858.8,455.0 862.5,467.5 858.8,470.0 840.0,466.2" fill="#e29b62" stroke="#e29b62" stroke-width="0.8"/>
<polygon points="833.8,473.8 840.0,466.2 858.8,470.0 858.0,478.8 837.5,480.0" fill="#d87f52" stroke="#d87f52" stroke-width="0.8"/>
<polygon points="822.5,461.2 831.2,457.5 840.0,457.5 840.0,466.2 833.8,473.8 831.2,466.2" fill="#f4cf85" stroke="#f4cf85" stroke-width="0.8"/>
<polygon points="835.0,480.0 850.0,480.0 852.5,495.0 842.5,493.8 836.2,487.5" fill="#eab071" stroke="#eab071" stroke-width="0.8"/>
<polygon points="816.2,487.5 835.0,480.0 836.2,487.5 842.5,493.8 847.5,500.0 840.0,512.5 827.5,505.0 818.8,495.0" fill="#f4cf85" stroke="#f4cf85" stroke-width="0.8"/>
<polygon points="768.8,493.8 790.0,492.5 787.5,502.5 790.0,515.0 782.5,520.0 785.0,530.0 792.5,537.5 797.5,532.5 805.0,533.8 800.0,545.0 800.0,552.5 790.0,560.0 780.0,540.0" fill="#e29b62" stroke="#e29b62" stroke-width="0.8"/>
<polygon points="787.5,502.5 795.0,500.0 802.5,506.2 805.0,515.0 817.5,520.0 815.0,528.8 810.0,535.0 805.0,533.8 797.5,532.5 792.5,537.5 785.0,530.0 782.5,520.0 790.0,515.0" fill="#c3dca3" stroke="#c3dca3" stroke-width="0.8"/>
<polygon points="788.8,493.8 797.5,492.5 798.8,498.8 795.0,500.0 787.5,502.5" fill="#c3dca3" stroke="#c3dca3" stroke-width="0.8"/>
<polygon points="798.8,498.8 812.5,493.8 818.8,495.0 827.5,505.0 820.0,515.0 817.5,520.0 805.0,515.0 802.5,506.2" fill="#f4cf85" stroke="#f4cf85" stroke-width="0.8"/>
<polygon points="815.0,497.5 820.0,500.0 840.0,517.5 830.0,525.0 817.5,520.0 820.0,515.0 827.5,505.0" fill="#dbe7a5" stroke="#dbe7a5" stroke-width="0.8"/>
<polygon points="827.5,505.0 840.0,512.5 845.0,518.8 855.0,530.0 850.0,537.5 840.0,540.0 830.0,530.0 830.0,525.0 840.0,517.5" fill="#f4cf85" stroke="#f4cf85" stroke-width="0.8"/>
<polygon points="795.0,535.0 805.0,533.8 810.0,535.0 816.2,537.5 823.8,547.5 825.0,560.0 820.0,567.5 810.0,565.0 808.8,557.5 800.0,552.5 800.0,545.0" fill="#e29b62" stroke="#e29b62" stroke-width="0.8"/>
<polygon points="815.0,528.8 827.5,526.2 830.0,530.0 827.5,540.0 823.8,547.5 816.2,537.5" fill="#eab071" stroke="#eab071" stroke-width="0.8"/>
<polygon points="825.0,537.5 830.0,530.0 840.0,540.0 837.5,550.0 830.0,557.5 825.0,552.5" fill="#f9df8e" stroke="#f9df8e" stroke-width="0.8"/>
<polygon points="837.5,540.0 850.0,537.5 860.0,542.5 861.2,550.0 852.5,553.8 840.0,550.0" fill="#e8eca5" stroke="#e8eca5" stroke-width="0.8"/>
<polygon points="830.0,557.5 837.5,550.0 846.2,552.5 847.5,565.0 840.0,570.0 830.0,567.5" fill="#fae696" stroke="#fae696" stroke-width="0.8"/>
<polygon points="846.2,553.8 855.0,552.5 866.2,562.5 866.2,577.5 855.0,581.2 850.0,576.2 853.8,567.5 847.5,565.0" fill="#e29b62" stroke="#e29b62" stroke-width="0.8"/>
<polygon points="850.0,576.0 861.2,573.5 862.5,566.0 867.5,566.0 866.2,579.8 852.5,582.2" fill="#d87f52" stroke="#d87f52" stroke-width="0.8"/>
<polygon points="830.0,570.0 840.0,570.0 847.5,565.0 853.8,567.5 850.0,576.2 855.0,581.2 852.5,587.5 840.0,590.0 832.5,580.0" fill="#eab071" stroke="#eab071" stroke-width="0.8"/>
<polygon points="788.8,562.5 797.5,556.2 808.8,557.5 810.0,565.0 805.0,567.5 797.5,567.5 790.0,568.8" fill="#fbf09d" stroke="#fbf09d" stroke-width="0.8"/>
<polygon points="786.2,570.0 793.8,568.8 801.2,576.2 796.2,580.0 793.8,588.8 790.0,587.5 787.5,577.5" fill="#a2c4a3" stroke="#a2c4a3" stroke-width="0.8"/>
<polygon points="797.5,567.5 815.0,567.5 818.8,577.5 815.0,587.5 805.0,587.5 801.2,576.2" fill="#e8eca5" stroke="#e8eca5" stroke-width="0.8"/>
<polygon points="805.0,588.8 817.5,588.0 818.0,596.2 805.0,597.0" fill="#aacaa2" stroke="#aacaa2" stroke-width="0.8"/>
<polygon points="793.8,588.8 805.0,587.5 805.0,597.0 795.0,597.5" fill="#eab071" stroke="#eab071" stroke-width="0.8"/>
<polygon points="815.0,567.5 830.0,567.5 832.5,580.0 840.0,590.0 830.0,595.0 818.0,596.2 818.8,577.5" fill="#f9df8e" stroke="#f9df8e" stroke-width="0.8"/>
<polygon points="845.0,495.0 865.0,485.0 870.0,491.2 866.2,500.0 873.8,512.5 882.5,515.0 880.0,525.0 866.2,527.5 855.0,530.0 845.0,518.8 840.0,512.5 847.5,500.0" fill="#fae696" stroke="#fae696" stroke-width="0.8"/>
<polygon points="866.2,495.0 873.8,491.2 882.5,502.5 886.2,507.5 882.5,515.0 873.8,512.5 866.2,500.0" fill="#dbe7a5" stroke="#dbe7a5" stroke-width="0.8"/>
<polygon points="873.8,491.2 887.5,487.5 913.8,501.2 903.8,516.2 900.0,520.0 886.2,507.5 882.5,502.5" fill="#fbf09d" stroke="#fbf09d" stroke-width="0.8"/>
<polygon points="871.2,485.0 887.5,482.5 892.5,488.8 887.5,492.5 877.5,490.0" fill="#eab071" stroke="#eab071" stroke-width="0.8"/>
<polygon points="866.2,527.5 880.0,525.0 887.5,516.2 900.0,520.0 897.5,527.5 885.0,537.5 875.0,540.0 868.8,533.8" fill="#dbe7a5" stroke="#dbe7a5" stroke-width="0.8"/>
<polygon points="855.0,530.0 866.2,527.5 868.8,533.8 875.0,540.0 871.2,551.2 865.0,545.0 860.0,542.5 850.0,537.5" fill="#fbf09d" stroke="#fbf09d" stroke-width="0.8"/>
<polygon points="718.8,517.5 738.8,515.0 742.5,530.0 731.2,533.8 718.8,535.0" fill="#e29b62" stroke="#e29b62" stroke-width="0.8"/>
<polygon points="731.2,502.5 752.5,500.0 753.8,512.5 738.8,515.0 732.5,510.0" fill="#e29b62" stroke="#e29b62" stroke-width="0.8"/>
<polygon points="752.5,497.5 768.8,495.0 780.0,540.0 790.0,560.0 780.0,562.5 775.0,550.0 762.5,527.5 766.2,515.0 753.8,512.5" fill="#e29b62" stroke="#e29b62" stroke-width="0.8"/>
<polygon points="738.8,515.0 753.8,512.5 766.2,515.0 762.5,527.5 775.0,550.0 766.2,560.0 755.0,580.0 750.0,580.0 748.8,567.5 742.5,562.5 731.2,560.0 727.5,545.0 731.2,533.8 742.5,530.0" fill="#efbd78" stroke="#efbd78" stroke-width="0.8"/>
<polygon points="717.5,540.0 726.2,537.5 727.5,545.0 731.2,560.0 736.2,567.5 730.0,572.5 720.0,580.0 717.5,570.0" fill="#dbe7a5" stroke="#dbe7a5" stroke-width="0.8"/>
<polygon points="766.2,560.0 775.0,550.0 780.0,556.2 785.0,556.2 780.0,562.5 778.8,566.2 771.2,570.0" fill="#e8eca5" stroke="#e8eca5" stroke-width="0.8"/>
<polygon points="776.2,568.8 785.0,565.0 786.2,572.5 780.0,577.5 775.0,576.2" fill="#a2c4a3" stroke="#a2c4a3" stroke-width="0.8"/>
<polygon points="733.8,585.0 738.8,576.2 752.5,577.5 755.0,592.5 736.2,595.0" fill="#aacaa2" stroke="#aacaa2" stroke-width="0.8"/>
<polygon points="755.0,580.0 765.0,570.0 776.2,570.0 775.0,576.2 766.2,580.0 765.0,592.5 755.0,592.5" fill="#dbe7a5" stroke="#dbe7a5" stroke-width="0.8"/>
<polygon points="765.0,580.0 785.0,575.0 788.8,590.0 792.5,596.2 766.2,595.0" fill="#f4cf85" stroke="#f4cf85" stroke-width="0.8"/>
<polygon points="720.0,580.0 730.0,572.5 736.2,567.5 742.5,562.5 748.8,567.5 750.0,580.0 738.8,576.2 733.8,585.0 736.2,595.0 741.2,612.5 730.0,617.8 725.0,605.0 721.2,595.0" fill="#fbf09d" stroke="#fbf09d" stroke-width="0.8"/>
<polygon points="692.5,515.0 716.2,511.2 717.5,530.0 712.5,533.8 705.0,528.8 692.5,532.5" fill="#e8eca5" stroke="#e8eca5" stroke-width="0.8"/>
<polygon points="692.5,533.8 705.0,528.8 712.5,533.8 707.5,542.5 706.2,551.2 696.2,550.0 695.0,542.5" fill="#8eb8a4" stroke="#8eb8a4" stroke-width="0.8"/>
<polygon points="680.0,530.0 692.5,532.5 695.0,542.5 696.2,550.0 680.0,553.8" fill="#aacaa2" stroke="#aacaa2" stroke-width="0.8"/>
<polygon points="706.2,537.5 717.5,535.0 717.5,550.0 706.2,551.2" fill="#dbe7a5" stroke="#dbe7a5" stroke-width="0.8"/>
<polygon points="695.0,501.2 705.0,500.0 706.2,513.8 695.0,515.0" fill="#fae696" stroke="#fae696" stroke-width="0.8"/>
<polygon points="705.0,500.0 717.5,499.5 717.5,511.2 706.2,513.8" fill="#e29b62" stroke="#e29b62" stroke-width="0.8"/>
<polygon points="680.0,553.8 696.2,550.0 697.5,570.0 680.0,572.5" fill="#fbf09d" stroke="#fbf09d" stroke-width="0.8"/>
<polygon points="697.5,551.2 717.5,550.5 718.0,577.5 707.5,577.5 706.2,570.0 698.0,569.5" fill="#f9df8e" stroke="#f9df8e" stroke-width="0.8"/>
<polygon points="690.0,571.2 706.2,570.0 707.5,577.5 717.5,578.0 717.5,587.5 700.0,587.5 698.8,580.0 691.2,580.0" fill="#dbe7a5" stroke="#dbe7a5" stroke-width="0.8"/>
<polygon points="680.0,580.0 698.8,580.0 700.0,587.5 710.0,588.8 711.2,600.0 692.5,600.0 692.5,591.2 680.0,595.0" fill="#fbf09d" stroke="#fbf09d" stroke-width="0.8"/>
<polygon points="691.2,600.0 711.2,599.5 711.2,588.0 717.5,587.5 720.0,611.2 705.0,617.8 696.2,617.8 691.2,607.5" fill="#e29b62" stroke="#e29b62" stroke-width="0.8"/>
<polygon points="680.0,592.0 692.5,591.2 693.0,600.0 680.0,602.0" fill="#e8eca5" stroke="#e8eca5" stroke-width="0.8"/>
<polygon points="695.0,330.0 715.0,330.0 716.2,340.0 700.0,346.2 695.0,335.0" fill="#b4d3a2" stroke="#b4d3a2" stroke-width="0.8"/>
<polygon points="695.0,360.0 717.5,355.0 718.8,376.2 702.5,382.5 691.2,388.8 688.8,380.0 697.5,371.2 703.8,360.0" fill="#e29b62" stroke="#e29b62" stroke-width="0.8"/>
<polygon points="672.5,337.5 692.5,335.0 695.0,347.5 687.5,355.0 686.2,363.8 673.8,370.0 670.0,357.5 676.2,351.2" fill="#cd6546" stroke="#cd6546" stroke-width="0.8"/>
<polygon points="692.5,348.8 702.5,347.5 703.8,360.0 697.5,371.2 687.5,367.5 686.2,360.0" fill="#bd3c34" stroke="#bd3c34" stroke-width="0.8"/>
<polygon points="673.8,370.0 686.2,367.5 688.8,380.0 691.2,388.8 682.5,391.2 673.8,383.8" fill="#bd3c34" stroke="#bd3c34" stroke-width="0.8"/>
<polygon points="661.2,392.5 673.8,386.2 682.5,391.2 691.2,388.8 688.8,400.0 680.0,408.8 670.0,407.5 663.8,401.2" fill="#cd6546" stroke="#cd6546" stroke-width="0.8"/>
<polygon points="702.5,382.5 716.2,376.2 718.8,392.5 708.8,395.0 702.5,392.5" fill="#cd6546" stroke="#cd6546" stroke-width="0.8"/>
<polygon points="655.0,423.8 667.5,423.8 682.5,432.5 673.8,437.5 673.8,443.8 661.2,443.8 655.0,438.8" fill="#d87f52" stroke="#d87f52" stroke-width="0.8"/>
<polygon points="716.2,331.2 725.0,331.2 726.2,345.0 735.0,343.8 737.5,347.5 745.0,345.0 748.8,355.0 752.5,353.8 757.5,360.0 768.8,361.2 767.5,368.8 762.5,372.5 762.5,380.0 757.5,382.5 750.0,396.2 745.0,402.5 735.0,385.0 735.0,367.5 727.5,367.5 726.2,371.2 720.0,371.2 718.8,355.0" fill="#c7543e" stroke="#c7543e" stroke-width="0.8"/>
<polygon points="736.2,348.8 745.0,346.2 748.8,356.2 748.8,365.0 742.5,362.5 737.5,357.5" fill="#bd3c34" stroke="#bd3c34" stroke-width="0.8"/>
<polygon points="720.0,371.2 726.2,371.2 727.5,367.5 734.5,367.0 735.5,383.8 730.0,388.8 728.8,398.8 726.2,407.5 721.2,411.2 715.0,408.8 715.0,402.5 721.2,402.0 720.0,387.5" fill="#a5022f" stroke="#a5022f" stroke-width="0.8"/>
<polygon points="730.0,388.8 735.5,383.8 745.0,402.5 742.5,417.5 730.0,412.5 726.2,407.5" fill="#eab071" stroke="#eab071" stroke-width="0.8"/>
<polygon points="750.0,396.2 757.5,382.5 770.0,391.2 760.0,402.5 755.0,415.0 747.5,410.0" fill="#d87f52" stroke="#d87f52" stroke-width="0.8"/>
<polygon points="711.2,432.5 722.5,426.2 727.5,435.0 726.2,445.0 716.2,450.0 710.0,442.5" fill="#bd3c34" stroke="#bd3c34" stroke-width="0.8"/>
<polygon points="755.0,415.0 760.0,402.5 770.0,400.0 782.5,395.0 790.0,405.0 795.0,420.0 785.0,415.0 772.5,420.0 762.5,416.2" fill="#d87f52" stroke="#d87f52" stroke-width="0.8"/>
<polygon points="758.8,421.2 770.0,420.0 785.0,426.2 783.8,440.0 770.0,446.2 760.0,446.2 752.5,437.5" fill="#fbf09d" stroke="#fbf09d" stroke-width="0.8"/>
<polygon points="761.2,435.0 770.0,430.0 777.5,435.0 775.0,443.8 767.5,445.0 761.2,441.2" fill="#a2c4a3" stroke="#a2c4a3" stroke-width="0.8"/>
<polygon points="785.0,400.0 800.0,398.8 810.0,396.2 817.5,401.2 822.5,412.5 832.5,422.5 820.0,432.5 810.0,425.0 800.0,430.0 792.5,426.2 795.0,420.0 790.0,405.0" fill="#f9df8e" stroke="#f9df8e" stroke-width="0.8"/>
<polygon points="803.8,428.8 811.2,425.0 820.0,432.5 816.2,442.5 806.2,446.2" fill="#e29b62" stroke="#e29b62" stroke-width="0.8"/>
<polygon points="783.8,440.0 792.5,426.2 803.8,428.8 806.2,446.2 795.0,450.0 782.5,447.5" fill="#f4cf85" stroke="#f4cf85" stroke-width="0.8"/>
<polygon points="825.0,398.8 832.5,393.8 846.2,393.8 840.0,405.0 838.8,412.5 832.5,417.5 826.2,410.0" fill="#d87f52" stroke="#d87f52" stroke-width="0.8"/>
<polygon points="835.0,385.0 842.5,382.5 845.0,390.0 840.0,394.5 835.0,392.5" fill="#f3f3f3" stroke="#f3f3f3" stroke-width="0.8"/>
<polygon points="832.5,417.5 838.8,413.8 845.0,420.0 842.5,427.5 835.0,427.5" fill="#eab071" stroke="#eab071" stroke-width="0.8"/>
<polygon points="716.2,450.0 726.2,445.0 735.0,447.5 760.0,446.2 770.0,446.2 770.0,452.5 715.0,457.5" fill="#e29b62" stroke="#e29b62" stroke-width="0.8"/>
<polygon points="770.0,455.0 780.0,453.8 781.2,472.5 775.0,483.8 770.0,480.0 772.5,467.5" fill="#aacaa2" stroke="#aacaa2" stroke-width="0.8"/>
<polygon points="781.2,457.5 795.0,452.5 803.8,460.0 810.0,470.0 802.5,477.5 790.0,475.0 782.5,467.5" fill="#e29b62" stroke="#e29b62" stroke-width="0.8"/>
<polygon points="760.0,455.0 770.0,455.0 772.5,467.5 770.0,480.0 765.0,470.0" fill="#f9df8e" stroke="#f9df8e" stroke-width="0.8"/>
<polygon points="813.8,470.0 822.5,461.2 832.5,467.5 833.8,477.5 823.8,485.0 816.2,480.0" fill="#c3dca3" stroke="#c3dca3" stroke-width="0.8"/>
<polygon points="793.8,486.2 805.0,481.2 815.0,485.0 816.2,492.5 805.0,495.0 798.8,497.5 795.0,491.2" fill="#72aaa5" stroke="#72aaa5" stroke-width="0.8"/>
<polygon points="832.5,470.0 840.0,462.5 861.2,456.2 861.2,467.5 858.8,477.5 835.0,480.0" fill="#d87f52" stroke="#d87f52" stroke-width="0.8"/>
<polygon points="835.0,447.5 840.0,445.0 855.0,446.2 857.5,456.2 847.5,458.8 840.0,456.2 837.5,461.2 834.5,457.5" fill="#8eb8a4" stroke="#8eb8a4" stroke-width="0.8"/>
<polygon points="632.5,440.0 652.5,440.0 653.8,463.8 636.2,465.0 635.0,452.5" fill="#a2c4a3" stroke="#a2c4a3" stroke-width="0.8"/>
<polygon points="620.0,432.5 631.2,433.8 632.5,440.0 635.0,452.5 636.2,465.0 620.0,466.2" fill="#dbe7a5" stroke="#dbe7a5" stroke-width="0.8"/>
<polygon points="652.5,447.5 672.5,445.0 673.8,465.0 653.8,463.8" fill="#f9df8e" stroke="#f9df8e" stroke-width="0.8"/>
<polygon points="651.2,467.5 673.8,466.2 673.8,477.5 682.5,477.5 677.5,492.5 672.5,492.5 661.2,490.0 652.5,480.0" fill="#d87f52" stroke="#d87f52" stroke-width="0.8"/>
<polygon points="673.8,462.5 685.0,465.0 683.8,476.2 673.8,477.5" fill="#c7543e" stroke="#c7543e" stroke-width="0.8"/>
<polygon points="622.5,482.5 632.5,477.5 642.5,485.0 641.2,493.8 627.5,495.0" fill="#dbe7a5" stroke="#dbe7a5" stroke-width="0.8"/>
<polygon points="620.0,502.5 635.0,497.5 645.0,505.0 645.0,517.5 635.0,527.8 620.0,527.8" fill="#d87f52" stroke="#d87f52" stroke-width="0.8"/>
<polygon points="692.5,513.8 716.2,512.5 717.0,527.8 692.5,527.8" fill="#e8eca5" stroke="#e8eca5" stroke-width="0.8"/>
<polygon points="693.8,502.5 705.0,501.2 706.2,513.8 693.8,515.0" fill="#f9df8e" stroke="#f9df8e" stroke-width="0.8"/>
<polygon points="782.5,505.0 792.5,492.5 800.0,500.0 810.0,510.0 817.5,527.8 785.0,527.8" fill="#c3dca3" stroke="#c3dca3" stroke-width="0.8"/>
<polygon points="770.0,495.0 792.5,491.2 782.5,505.0 785.0,527.8 777.5,527.8" fill="#f4cf85" stroke="#f4cf85" stroke-width="0.8"/>
<polygon points="85.8,101.5 92.0,106.2 102.5,110.0 112.5,114.5 114.5,118.8 112.0,122.5 107.5,126.2 98.8,124.5 86.2,122.5 83.8,111.2" fill="#548ba2" stroke="#548ba2" stroke-width="0.8"/>
<polygon points="85.8,122.5 98.8,124.5 97.0,131.2 99.5,138.8 94.5,145.0 93.8,153.8 100.0,157.5 110.0,160.0 110.0,166.2 106.2,168.8 100.0,165.5 92.0,160.0 90.0,167.5 81.2,165.0 81.2,157.5 83.8,152.5 83.0,145.0 86.2,137.5 85.0,130.0" fill="#f9df8e" stroke="#f9df8e" stroke-width="0.8"/>
<polygon points="98.8,124.5 107.5,126.2 115.0,122.5 122.5,107.5 127.5,105.5 150.0,112.0 150.0,116.2 145.0,118.8 142.5,127.5 138.8,133.8 132.5,136.2 127.5,147.5 125.0,162.5 110.0,159.5 100.0,157.5 93.8,153.8 94.5,145.0 99.5,138.8 97.0,131.2" fill="#dbe7a5" stroke="#dbe7a5" stroke-width="0.8"/>
<polygon points="115.5,103.8 120.5,105.0 119.5,117.5 113.8,131.2 110.0,138.0 104.5,138.8 111.2,131.2 117.0,118.8 114.5,110.0" fill="#ffffff"/>
<polygon points="121.2,95.5 151.2,104.5 150.8,112.0 127.5,105.5 122.5,101.2" fill="#3f7690" stroke="#3f7690" stroke-width="0.8"/>
<polygon points="151.2,104.5 205.0,118.0 200.0,143.8 190.0,141.2 186.2,138.8 175.0,136.2 170.0,138.8 167.5,143.8 155.0,146.2 150.0,143.8 140.0,138.8 138.8,133.8 142.5,127.5 145.0,118.8 150.0,116.2" fill="#5f9ba5" stroke="#5f9ba5" stroke-width="0.8"/>
<polygon points="132.5,136.2 140.0,138.8 150.0,143.8 153.0,146.2 151.2,165.0 147.5,177.5 122.5,170.0 125.0,162.5 127.5,147.5" fill="#a2c4a3" stroke="#a2c4a3" stroke-width="0.8"/>
<polygon points="153.0,146.2 155.0,146.2 167.5,143.8 170.0,138.8 175.0,136.2 186.2,138.8 190.0,141.2 200.0,143.8 197.5,157.5 187.5,158.8 185.0,167.5 172.5,165.0 152.5,163.8" fill="#c3dca3" stroke="#c3dca3" stroke-width="0.8"/>
<polygon points="151.2,165.0 172.5,165.0 185.0,167.5 186.2,175.0 188.8,181.2 187.5,187.5 180.0,185.0 162.5,183.0 149.5,183.8 147.5,177.5" fill="#f5f2a5" stroke="#f5f2a5" stroke-width="0.8"/>
<polygon points="187.5,158.8 197.5,157.5 202.5,160.0 200.0,177.5 197.5,180.0 192.5,172.5 186.2,171.2 185.0,167.5 181.2,170.0" fill="#5f9ba5" stroke="#5f9ba5" stroke-width="0.8"/>
<polygon points="205.0,118.0 211.2,119.5 203.8,160.0 197.5,157.5 200.0,143.8" fill="#d3e4a4" stroke="#d3e4a4" stroke-width="0.8"/>
<polygon points="186.2,171.2 192.5,172.5 197.5,180.0 198.8,190.0 187.5,187.5 188.8,181.2" fill="#8eb8a4" stroke="#8eb8a4" stroke-width="0.8"/>
<polygon points="212.0,119.5 228.0,123.0 225.0,133.8 214.5,132.5" fill="#f3f3f3" stroke="#f3f3f3" stroke-width="0.8"/>
<polygon points="211.2,119.5 214.5,132.5 225.0,133.8 223.8,145.0 228.8,160.0 233.8,173.8 212.5,171.2 202.5,165.0 203.8,160.0" fill="#d3e4a4" stroke="#d3e4a4" stroke-width="0.8"/>
<polygon points="202.5,165.0 212.5,168.8 212.5,176.2 201.2,178.8" fill="#5f9ba5" stroke="#5f9ba5" stroke-width="0.8"/>
<polygon points="201.2,178.8 212.5,176.2 212.5,171.2 233.8,173.8 245.0,183.8 240.0,205.0 233.8,212.5 232.5,217.5 220.0,215.0 207.5,213.8 200.0,207.5 203.8,201.2 198.8,190.0" fill="#8eb8a4" stroke="#8eb8a4" stroke-width="0.8"/>
<polygon points="228.0,123.0 250.0,128.0 250.0,137.5 243.8,142.5 236.2,148.8 230.0,145.0 225.0,142.5 223.8,145.0 225.0,133.8" fill="#f3f3f3" stroke="#f3f3f3" stroke-width="0.8"/>
<polygon points="260.0,128.8 271.8,132.5 271.8,150.0 274.2,153.8 270.0,147.5 265.0,137.5" fill="#f3f3f3" stroke="#f3f3f3" stroke-width="0.8"/>
<polygon points="250.0,127.5 260.0,128.8 265.0,137.5 270.0,147.5 274.2,153.8 270.0,163.8 263.8,165.5 262.5,163.8 256.2,165.5 255.0,172.5 247.5,170.0 235.0,161.2 227.5,160.0 224.5,145.0 230.0,142.5 236.2,148.8 243.8,142.5 250.0,137.5" fill="#4a7f9a" stroke="#4a7f9a" stroke-width="0.8"/>
<polygon points="227.5,160.0 235.0,161.2 247.5,170.0 255.0,172.5 256.2,165.5 262.5,163.8 265.0,166.2 265.0,175.0 252.5,192.5 253.8,205.0 240.0,212.5 236.2,208.8 240.0,205.0 245.0,183.8 233.8,173.8" fill="#5f9ba5" stroke="#5f9ba5" stroke-width="0.8"/>
<polygon points="265.0,166.2 271.8,165.0 271.8,212.5 262.5,207.5 253.8,205.0 252.5,192.5 262.5,180.0" fill="#e29b62" stroke="#e29b62" stroke-width="0.8"/>
<polygon points="81.2,165.0 90.0,167.5 92.0,160.0 100.0,165.5 98.8,172.5 110.0,178.8 113.8,178.8 112.5,190.0 108.8,198.8 105.0,210.0 98.8,223.8 95.0,228.8 87.5,228.8 80.0,225.0 72.5,215.0 65.0,210.0 70.0,202.5 75.0,185.0" fill="#d3e4a4" stroke="#d3e4a4" stroke-width="0.8"/>
<polygon points="100.0,165.5 106.2,168.8 110.0,166.2 110.0,160.0 125.0,162.5 122.5,170.0 118.8,175.0 113.8,178.8 110.0,178.8 98.8,172.5" fill="#c3dca3" stroke="#c3dca3" stroke-width="0.8"/>
<polygon points="122.5,170.0 147.5,177.5 148.8,183.8 137.0,183.8 119.5,178.0 118.8,175.0" fill="#5f9ba5" stroke="#5f9ba5" stroke-width="0.8"/>
<polygon points="113.8,178.8 119.5,178.0 137.0,183.8 132.5,198.8 131.2,205.0 110.0,199.5 112.5,190.0" fill="#5f9ba5" stroke="#5f9ba5" stroke-width="0.8"/>
<polygon points="110.0,199.5 131.2,205.0 130.0,212.5 136.2,220.0 141.2,222.5 138.8,231.2 132.5,236.2 97.5,225.0 105.0,210.0 108.8,198.8" fill="#5f9ba5" stroke="#5f9ba5" stroke-width="0.8"/>
<polygon points="137.0,183.8 143.8,185.0 142.5,195.0 145.0,202.5 163.8,207.5 167.5,210.0 166.2,217.5 162.5,225.0 163.8,232.5 160.0,245.0 155.0,282.5 136.2,277.5 107.5,270.0 102.5,247.5 107.5,231.2 132.5,236.2 138.8,231.2 141.2,222.5 136.2,220.0 130.0,212.5 131.2,205.0 132.5,198.8" fill="#f3f3f3" stroke="#f3f3f3" stroke-width="0.8"/>
<polygon points="143.8,185.0 162.5,183.0 180.0,185.0 178.8,192.5 175.0,197.5 167.5,200.0 165.0,207.5 145.0,202.5 142.5,195.0" fill="#f5f2a5" stroke="#f5f2a5" stroke-width="0.8"/>
<polygon points="180.0,185.0 187.5,187.5 198.8,190.0 203.8,201.2 200.0,207.5 193.8,215.0 191.2,210.0 185.0,202.5 182.5,195.0" fill="#f3f3f3" stroke="#f3f3f3" stroke-width="0.8"/>
<polygon points="178.8,192.5 182.5,195.0 185.0,202.5 191.2,210.0 193.8,215.0 190.0,221.2 183.8,230.0 175.0,225.0 165.0,226.2 162.5,225.0 166.2,217.5 167.5,210.0 165.0,207.5 167.5,200.0 175.0,197.5" fill="#8eb8a4" stroke="#8eb8a4" stroke-width="0.8"/>
<polygon points="65.0,210.0 72.5,215.0 80.0,225.0 87.5,228.8 95.0,232.5 92.5,237.5 85.0,240.0 72.5,242.0 61.2,238.8 51.2,230.0 60.0,215.0" fill="#f5f2a5" stroke="#f5f2a5" stroke-width="0.8"/>
<polygon points="95.0,228.8 98.8,223.8 107.5,231.2 102.5,247.5 110.0,252.5 107.5,270.0 82.5,263.8 86.2,240.0 92.5,237.5 95.0,232.5" fill="#b4d3a2" stroke="#b4d3a2" stroke-width="0.8"/>
<polygon points="61.2,238.8 72.5,242.0 86.2,240.0 82.5,263.8 55.0,256.2 53.8,245.0" fill="#8eb8a4" stroke="#8eb8a4" stroke-width="0.8"/>
<polygon points="51.2,230.0 61.2,238.8 53.8,245.0 55.0,256.2 46.2,255.0 47.5,245.0" fill="#d3e4a4" stroke="#d3e4a4" stroke-width="0.8"/>
<polygon points="165.0,226.2 175.0,225.0 185.0,232.5 187.5,237.5 183.8,245.0 176.2,282.5 155.0,282.5 160.0,245.0 163.8,232.5" fill="#b4d3a2" stroke="#b4d3a2" stroke-width="0.8"/>
<polygon points="183.8,230.0 190.0,221.2 197.5,227.5 200.0,235.0 220.0,238.8 220.0,247.5 212.5,282.5 176.2,282.5 183.8,245.0 187.5,237.5 185.0,232.5" fill="#a2c4a3" stroke="#a2c4a3" stroke-width="0.8"/>
<polygon points="200.0,207.5 207.5,213.8 220.0,215.0 232.5,217.5 233.8,212.5 240.0,212.5 253.8,205.0 262.5,207.5 271.8,212.5 271.8,245.0 260.0,242.5 250.0,252.5 242.5,260.0 235.0,250.0 221.2,248.8 220.0,238.8 200.0,235.0 197.5,227.5 190.0,221.2 193.8,215.0" fill="#f3f3f3" stroke="#f3f3f3" stroke-width="0.8"/>
<polygon points="220.0,247.5 221.2,248.8 235.0,250.0 242.5,260.0 240.0,282.5 212.5,282.5" fill="#b4d3a2" stroke="#b4d3a2" stroke-width="0.8"/>
<polygon points="250.0,252.5 260.0,242.5 271.8,245.0 271.8,282.5 240.0,282.5 242.5,260.0" fill="#dbe7a5" stroke="#dbe7a5" stroke-width="0.8"/>
<polygon points="46.2,255.0 55.0,256.2 82.5,263.8 107.5,270.0 136.2,277.5 155.0,282.5 40.0,282.5" fill="#a2c4a3" stroke="#a2c4a3" stroke-width="0.8"/>
<polygon points="544.0,157.5 551.5,157.5 551.5,167.5 544.0,167.5" fill="#f9df8e" stroke="#f9df8e" stroke-width="0.8"/>
<polygon points="551.5,158.0 572.8,158.0 573.5,148.8 577.8,149.5 579.0,162.5 594.0,166.2 606.5,165.5 607.0,183.8 585.2,185.0 584.0,171.2 570.2,171.2 565.2,168.8 551.5,167.5" fill="#f3f3f3" stroke="#f3f3f3" stroke-width="0.8"/>
<polygon points="544.0,167.5 565.2,168.8 564.0,185.0 551.5,187.5 549.0,177.5 544.0,177.5" fill="#f5f2a5" stroke="#f5f2a5" stroke-width="0.8"/>
<polygon points="544.0,177.5 549.0,177.5 551.5,187.5 564.0,185.0 565.2,193.8 556.5,196.2 555.2,213.8 552.8,231.2 544.0,232.5" fill="#dbe7a5" stroke="#dbe7a5" stroke-width="0.8"/>
<polygon points="565.2,168.8 570.2,171.2 584.0,171.2 585.2,185.0 581.5,196.2 581.5,212.5 555.2,213.8 556.5,196.2 565.2,193.8 564.0,185.0" fill="#b4d3a2" stroke="#b4d3a2" stroke-width="0.8"/>
<polygon points="585.2,185.0 607.0,183.8 608.5,220.0 607.8,225.0 596.5,225.5 595.2,228.8 579.0,221.2 581.5,212.5 581.5,196.2" fill="#8eb8a4" stroke="#8eb8a4" stroke-width="0.8"/>
<polygon points="606.5,165.5 619.0,172.5 640.2,176.2 641.5,190.0 621.5,212.5 620.2,220.0 608.5,220.0 607.0,183.8" fill="#f9df8e" stroke="#f9df8e" stroke-width="0.8"/>
<polygon points="640.2,176.2 642.8,175.0 664.0,178.8 641.5,190.0" fill="#f3f3f3" stroke="#f3f3f3" stroke-width="0.8"/>
<polygon points="554.0,213.8 572.8,213.8 573.5,235.0 572.8,245.0 555.2,243.8" fill="#72aaa5" stroke="#72aaa5" stroke-width="0.8"/>
<polygon points="572.8,211.2 579.0,211.2 579.0,221.2 595.2,228.8 595.2,235.0 573.5,235.0" fill="#548ba2" stroke="#548ba2" stroke-width="0.8"/>
<polygon points="573.5,235.0 595.2,235.0 596.5,225.5 602.0,225.0 601.0,246.2 594.0,247.5 579.0,247.0 572.8,245.0" fill="#72aaa5" stroke="#72aaa5" stroke-width="0.8"/>
<polygon points="551.5,245.0 579.0,247.0 580.2,257.5 566.5,265.0 565.2,266.2 551.5,265.5" fill="#72aaa5" stroke="#72aaa5" stroke-width="0.8"/>
<polygon points="551.5,265.5 565.2,266.2 565.2,282.8 551.5,282.8" fill="#548ba2" stroke="#548ba2" stroke-width="0.8"/>
<polygon points="544.0,267.5 551.5,267.5 551.5,282.8 544.0,282.8" fill="#eab071" stroke="#eab071" stroke-width="0.8"/>
<polygon points="544.0,250.5 550.2,250.5 550.2,267.5 544.0,267.5" fill="#f9df8e" stroke="#f9df8e" stroke-width="0.8"/>
<polygon points="544.0,232.5 552.8,231.2 555.2,243.8 551.5,250.0 544.0,247.5" fill="#f3f3f3" stroke="#f3f3f3" stroke-width="0.8"/>
<polygon points="602.0,220.0 620.2,220.0 621.5,225.0 614.0,235.0 616.5,247.5 615.2,260.0 609.0,267.5 594.0,260.0 589.0,248.8 594.0,247.5 601.0,246.2" fill="#e8eca5" stroke="#e8eca5" stroke-width="0.8"/>
<polygon points="566.5,265.0 580.2,257.5 579.0,247.0 589.0,248.8 594.0,260.0 609.0,267.5 610.2,270.0 601.5,270.0 597.8,282.8 565.2,282.8 565.2,266.2" fill="#b4d3a2" stroke="#b4d3a2" stroke-width="0.8"/>
<polygon points="601.5,267.5 610.2,270.0 609.0,282.8 597.8,282.8" fill="#72aaa5" stroke="#72aaa5" stroke-width="0.8"/>
<polygon points="610.2,263.8 615.2,260.0 627.8,270.0 629.0,282.8 609.0,282.8" fill="#aacaa2" stroke="#aacaa2" stroke-width="0.8"/>
<polygon points="623.5,212.5 634.0,211.2 634.0,225.0 624.0,225.0 621.5,220.0" fill="#f9df8e" stroke="#f9df8e" stroke-width="0.8"/>
<polygon points="634.0,210.0 644.0,206.2 651.5,213.8 652.8,225.0 661.5,230.0 661.5,245.0 651.5,245.0 650.2,231.2 645.2,226.2 626.5,226.2 625.2,247.5 615.2,248.8 614.0,235.0 621.5,225.0 634.0,225.0" fill="#d3e4a4" stroke="#d3e4a4" stroke-width="0.8"/>
<polygon points="626.5,226.2 645.2,226.2 650.2,231.2 651.0,245.0 636.5,246.2 636.0,248.8 626.0,248.8" fill="#8eb8a4" stroke="#8eb8a4" stroke-width="0.8"/>
<polygon points="651.5,213.8 654.0,213.8 676.5,202.5 679.0,203.8 679.0,221.2 669.0,221.2 662.8,227.5 652.8,221.2" fill="#f4cf85" stroke="#f4cf85" stroke-width="0.8"/>
<polygon points="662.8,222.5 679.0,221.2 686.5,227.5 689.0,241.2 682.8,241.2 672.8,240.0 661.5,238.8 661.5,230.0" fill="#fbf09d" stroke="#fbf09d" stroke-width="0.8"/>
<polygon points="615.2,248.8 625.2,247.5 626.0,248.8 636.0,248.8 636.5,246.2 646.5,246.2 647.8,263.8 659.0,267.5 657.8,272.5 644.0,277.5 640.2,281.2 627.8,270.0 616.5,260.0" fill="#c3dca3" stroke="#c3dca3" stroke-width="0.8"/>
<polygon points="646.5,245.0 661.5,245.0 661.5,238.8 672.8,240.0 677.8,251.2 679.0,267.5 666.5,272.5 657.8,272.5 659.0,267.5 647.8,263.8" fill="#c3dca3" stroke="#c3dca3" stroke-width="0.8"/>
<polygon points="672.8,240.0 682.8,241.2 689.0,251.2 694.0,255.0 694.0,260.0 679.0,258.8 677.8,251.2" fill="#aacaa2" stroke="#aacaa2" stroke-width="0.8"/>
<polygon points="640.2,281.2 644.0,277.5 657.8,272.5 666.5,272.5 667.8,282.8 641.5,282.8" fill="#fbf09d" stroke="#fbf09d" stroke-width="0.8"/>
<polygon points="679.0,260.0 694.0,260.0 696.5,267.5 706.5,266.2 706.5,282.8 672.8,282.8 672.8,276.2 679.0,276.2" fill="#efbd78" stroke="#efbd78" stroke-width="0.8"/>
<polygon points="689.0,241.2 694.0,241.2 696.5,247.5 704.0,250.0 700.2,260.0 696.5,267.5 694.0,260.0 694.0,255.0 689.0,251.2" fill="#fbf09d" stroke="#fbf09d" stroke-width="0.8"/>
<polygon points="679.0,203.8 680.2,198.8 684.0,192.5 696.5,190.0 694.0,195.0 687.8,200.0 694.0,203.8 694.0,216.2 680.2,216.2" fill="#d3e4a4" stroke="#d3e4a4" stroke-width="0.8"/>
<polygon points="672.8,180.0 681.0,174.5 681.5,175.5 674.0,181.2" fill="#d3e4a4" stroke="#d3e4a4" stroke-width="0.8"/>
<polygon points="679.0,216.2 694.0,216.2 702.8,220.0 702.8,228.8 709.0,232.5 707.8,241.2 704.0,248.8 696.5,247.5 694.0,241.2 700.2,240.0 697.8,232.5 686.5,226.2 680.2,221.2" fill="#c3dca3" stroke="#c3dca3" stroke-width="0.8"/>
<polygon points="694.0,203.8 704.0,208.8 719.0,207.5 731.5,205.0 732.8,221.2 719.0,227.5 710.2,235.0 709.0,232.5 702.8,228.8 702.8,220.0 694.0,216.2" fill="#f9df8e" stroke="#f9df8e" stroke-width="0.8"/>
<polygon points="731.5,205.0 744.0,202.0 746.5,206.2 757.8,207.5 764.0,215.0 754.0,217.5 741.5,218.8 732.8,222.0" fill="#fbf09d" stroke="#fbf09d" stroke-width="0.8"/>
<polygon points="769.0,217.0 772.8,215.5 774.0,217.5 770.2,218.8" fill="#f5f2a5" stroke="#f5f2a5" stroke-width="0.8"/>
<polygon points="747.8,235.0 754.0,226.2 761.5,227.5 764.0,237.5 754.0,240.0 752.8,245.0 744.0,245.0" fill="#f5f2a5" stroke="#f5f2a5" stroke-width="0.8"/>
<polygon points="761.5,227.5 774.0,232.5 779.0,237.5 781.5,250.0 780.2,260.0 776.5,263.8 771.5,262.5 770.2,237.5 764.0,237.5" fill="#c3dca3" stroke="#c3dca3" stroke-width="0.8"/>
<polygon points="754.0,240.0 770.2,237.5 771.5,263.8 761.5,265.0 756.5,257.5 755.2,245.0" fill="#efbd78" stroke="#efbd78" stroke-width="0.8"/>
<polygon points="731.5,257.5 734.0,247.5 741.5,245.0 744.0,245.0 752.8,245.0 755.2,245.0 756.0,257.5 739.0,258.8" fill="#c3dca3" stroke="#c3dca3" stroke-width="0.8"/>
<polygon points="729.0,260.0 739.0,258.8 737.8,270.0 735.2,277.5 730.2,282.8 728.5,271.2" fill="#dbe7a5" stroke="#dbe7a5" stroke-width="0.8"/>
<polygon points="739.0,258.8 756.0,257.5 761.5,265.0 762.8,282.8 736.5,282.8 737.8,270.0" fill="#eab071" stroke="#eab071" stroke-width="0.8"/>
<polygon points="761.5,265.0 771.5,263.8 776.5,263.8 784.0,268.8 790.2,263.8 796.5,270.0 787.8,275.0 784.0,282.8 762.8,282.8" fill="#e29b62" stroke="#e29b62" stroke-width="0.8"/>
<polygon points="790.2,272.5 796.5,270.0 799.0,282.8 789.0,282.8" fill="#cd6546" stroke="#cd6546" stroke-width="0.8"/>
<polygon points="704.0,250.0 709.0,245.0 716.5,240.0 711.5,250.0 704.0,265.0 700.2,260.0" fill="#f5f2a5" stroke="#f5f2a5" stroke-width="0.8"/>
<polygon points="1006.2,131.2 1011.2,135.0 1021.2,130.0 1031.2,132.5 1041.2,166.2 1032.5,171.2 1025.0,153.8 1005.0,156.2 1000.0,156.2 998.8,150.0" fill="#c3dca3" stroke="#c3dca3" stroke-width="0.8"/>
<polygon points="1005.0,156.2 1025.0,153.8 1032.5,171.2 1038.8,183.8 1045.0,195.0 1030.0,202.5 1028.8,210.0 1022.5,200.0 1015.0,190.0 1010.0,175.0" fill="#a2c4a3" stroke="#a2c4a3" stroke-width="0.8"/>
<polygon points="1032.5,171.2 1041.2,166.2 1048.8,168.8 1053.8,177.5 1061.2,183.8 1055.0,191.2 1045.0,195.0 1038.8,183.8" fill="#aacaa2" stroke="#aacaa2" stroke-width="0.8"/>
<polygon points="1000.0,156.2 1005.0,156.2 1010.0,175.0 1015.0,190.0 1022.5,200.0 1028.8,210.0 1020.0,215.0 1018.8,225.0 1012.5,230.0 1002.5,226.2 1000.0,217.5 990.0,192.5 997.5,185.0 997.5,167.5" fill="#a2c4a3" stroke="#a2c4a3" stroke-width="0.8"/>
<polygon points="985.0,193.8 990.0,192.5 1000.0,217.5 1002.5,226.2 995.0,217.5 987.5,225.0 985.0,207.5" fill="#c3dca3" stroke="#c3dca3" stroke-width="0.8"/>
<polygon points="1002.5,226.2 1012.5,230.0 1010.0,242.5 1007.5,243.8 1001.2,235.0" fill="#d3e4a4" stroke="#d3e4a4" stroke-width="0.8"/>
<polygon points="987.5,225.0 995.0,217.5 1002.5,226.2 1001.2,235.0 1007.5,243.8 1010.0,248.8 990.0,256.2 988.8,247.5 985.0,245.0" fill="#d3e4a4" stroke="#d3e4a4" stroke-width="0.8"/>
<polygon points="978.8,220.0 985.0,207.5 987.5,225.0 985.0,245.0 988.8,247.5 980.0,248.8 977.5,235.0" fill="#a2c4a3" stroke="#a2c4a3" stroke-width="0.8"/>
<polygon points="966.2,206.2 983.8,201.2 985.0,207.5 978.8,220.0 977.5,225.0 972.5,217.5" fill="#c3dca3" stroke="#c3dca3" stroke-width="0.8"/>
<polygon points="953.8,208.8 966.2,206.2 972.5,217.5 977.5,225.0 977.5,235.0 978.8,247.5 965.0,247.5 958.8,237.5 956.2,225.0" fill="#a2c4a3" stroke="#a2c4a3" stroke-width="0.8"/>
<polygon points="931.2,214.5 953.8,208.8 956.2,225.0 958.8,237.5 947.5,240.0 941.2,234.5 937.5,235.0" fill="#b4d3a2" stroke="#b4d3a2" stroke-width="0.8"/>
<polygon points="925.0,215.0 931.2,214.5 937.5,235.0 927.5,238.8 928.8,247.5 922.5,255.0 913.8,250.0 906.2,242.5 915.0,227.5" fill="#e8eca5" stroke="#e8eca5" stroke-width="0.8"/>
<polygon points="937.5,235.0 941.2,234.5 947.5,240.0 958.8,237.5 965.0,247.5 967.5,282.5 951.2,282.5 943.8,270.0 938.8,257.5 932.5,245.0 927.5,238.8" fill="#f4cf85" stroke="#f4cf85" stroke-width="0.8"/>
<polygon points="913.8,250.0 922.5,255.0 928.8,247.5 932.5,245.0 938.8,257.5 943.8,270.0 935.0,266.2 922.5,275.0 915.0,278.8 905.0,277.5 903.8,263.8 910.0,257.5" fill="#fae696" stroke="#fae696" stroke-width="0.8"/>
<polygon points="862.5,272.5 877.5,267.5 903.8,263.8 905.0,277.5 900.0,282.8 867.5,282.8" fill="#fbf09d" stroke="#fbf09d" stroke-width="0.8"/>
<polygon points="922.5,275.0 935.0,266.2 943.8,270.0 951.2,282.5 922.5,282.5" fill="#c3dca3" stroke="#c3dca3" stroke-width="0.8"/>
<polygon points="978.8,247.5 988.8,247.5 990.0,256.2 980.0,258.8" fill="#c3dca3" stroke="#c3dca3" stroke-width="0.8"/>
<polygon points="965.0,248.8 971.2,248.0 972.5,260.0 973.8,262.5 975.0,277.5 968.8,280.0 967.5,261.2" fill="#5f9ba5" stroke="#5f9ba5" stroke-width="0.8"/>
<polygon points="972.5,260.0 987.5,257.5 987.5,275.0 975.0,277.5" fill="#d3e4a4" stroke="#d3e4a4" stroke-width="0.8"/>
<polygon points="987.5,257.5 1010.0,248.8 1015.0,257.5 1012.5,263.8 1022.5,275.0 1015.0,278.8 1007.5,270.0 990.0,273.8 987.5,267.5" fill="#a2c4a3" stroke="#a2c4a3" stroke-width="0.8"/>
<polygon points="975.0,277.5 990.0,273.8 1007.5,270.0 1015.0,278.8 1012.5,282.8 968.8,282.8" fill="#c3dca3" stroke="#c3dca3" stroke-width="0.8"/>
<polygon points="1022.5,275.0 1030.0,268.8 1032.5,272.0 1026.2,278.0" fill="#a2c4a3" stroke="#a2c4a3" stroke-width="0.8"/>
<polygon points="40.0,283.0 75.0,283.0 55.0,300.5 53.8,310.5 37.5,304.2 32.5,293.0" fill="#a2c4a3" stroke="#a2c4a3" stroke-width="0.8"/>
<polygon points="37.5,304.2 53.8,310.5 55.0,325.5 60.0,340.5 65.0,343.0 67.5,358.0 66.2,375.5 53.8,375.5 47.5,378.0 48.8,368.0 47.5,358.0 41.2,350.5 35.0,328.0" fill="#8eb8a4" stroke="#8eb8a4" stroke-width="0.8"/>
<polygon points="70.0,283.0 91.2,286.8 87.5,306.8 80.0,314.2 70.0,316.8 55.0,313.0 55.0,300.5" fill="#e8eca5" stroke="#e8eca5" stroke-width="0.8"/>
<polygon points="75.0,283.0 117.5,283.0 117.5,290.5 110.0,318.0 105.0,320.5 96.2,315.5 87.5,306.8 91.2,286.8" fill="#b4d3a2" stroke="#b4d3a2" stroke-width="0.8"/>
<polygon points="83.8,306.8 96.2,315.5 105.0,320.5 106.2,336.8 95.0,333.0 86.2,330.5 82.5,320.5" fill="#f3f3f3" stroke="#f3f3f3" stroke-width="0.8"/>
<polygon points="55.0,313.0 70.0,316.8 80.0,314.2 82.5,320.5 86.2,330.5 75.0,345.5 60.0,340.5 55.0,325.5" fill="#dbe7a5" stroke="#dbe7a5" stroke-width="0.8"/>
<polygon points="60.0,340.5 75.0,345.5 86.2,333.0 95.0,333.0 106.2,336.8 103.8,345.5 115.0,349.2 117.5,355.5 107.5,363.0 100.0,361.8 87.5,373.0 81.2,368.0 66.2,376.8 67.5,358.0 65.0,343.0" fill="#f5f2a5" stroke="#f5f2a5" stroke-width="0.8"/>
<polygon points="119.5,283.0 131.2,283.0 122.5,326.8 153.8,334.2 152.5,345.5 146.2,354.2 122.5,351.8 120.0,366.8 113.8,360.5 115.0,349.2 103.8,345.5" fill="#e29b62" stroke="#e29b62" stroke-width="0.8"/>
<polygon points="131.2,283.0 150.0,283.0 173.8,289.2 168.8,320.5 163.8,321.8 155.0,334.2 122.5,326.8" fill="#f3f3f3" stroke="#f3f3f3" stroke-width="0.8"/>
<polygon points="173.8,289.2 227.5,300.5 212.5,380.5 195.0,376.8 180.0,363.0 146.2,355.5 152.5,345.5 155.0,334.2 163.8,321.8 168.8,320.5" fill="#bd3c34" stroke="#bd3c34" stroke-width="0.8"/>
<polygon points="122.5,351.8 136.2,355.5 143.0,370.5 127.5,383.0 117.5,368.0 120.0,366.8" fill="#f3f3f3" stroke="#f3f3f3" stroke-width="0.8"/>
<polygon points="136.2,356.0 146.2,355.5 180.0,363.0 195.0,376.8 212.5,380.5 205.0,423.0 232.5,429.2 227.5,440.5 215.0,443.0 207.5,480.8 185.0,480.8 183.8,468.0 127.5,383.0 143.0,370.5" fill="#cd6546" stroke="#cd6546" stroke-width="0.8"/>
<polygon points="66.2,376.8 81.2,368.0 87.5,373.0 100.0,361.8 107.5,363.0 110.0,380.5 100.0,388.0 85.0,391.8 72.5,398.0 67.5,388.0" fill="#c3dca3" stroke="#c3dca3" stroke-width="0.8"/>
<polygon points="72.5,398.0 85.0,391.8 100.0,388.0 110.0,380.5 117.5,393.0 121.2,413.0 122.5,434.2 80.0,425.5 72.5,415.5 75.0,405.5" fill="#d3e4a4" stroke="#d3e4a4" stroke-width="0.8"/>
<polygon points="107.5,363.0 113.8,360.5 183.8,468.0 166.2,444.2 122.5,434.2 121.2,413.0 117.5,393.0 110.0,380.5" fill="#a2c4a3" stroke="#a2c4a3" stroke-width="0.8"/>
<polygon points="47.5,378.0 53.8,375.5 66.2,376.8 67.5,388.0 72.5,398.0 75.0,405.5 72.5,415.5 80.0,425.5 87.5,443.0 85.0,461.8 72.5,458.0 63.8,453.0 63.8,433.0 57.5,418.0 51.2,400.5" fill="#548ba2" stroke="#548ba2" stroke-width="0.8"/>
<polygon points="80.0,425.5 122.5,434.2 128.8,438.0 123.8,460.5 95.0,454.2 87.5,443.0" fill="#f4cf85" stroke="#f4cf85" stroke-width="0.8"/>
<polygon points="87.5,443.0 95.0,454.2 123.8,460.5 128.8,438.0 166.2,444.2 183.8,468.0 185.0,480.8 102.5,480.8 92.5,473.0 85.0,461.8" fill="#72aaa5" stroke="#72aaa5" stroke-width="0.8"/>
<polygon points="227.5,300.5 271.8,308.0 271.8,320.5 255.0,323.0 247.5,326.8 223.8,324.2" fill="#548ba2" stroke="#548ba2" stroke-width="0.8"/>
<polygon points="223.8,324.2 247.5,326.8 255.0,323.0 271.8,320.5 271.8,343.0 257.5,345.5 255.0,355.5 220.0,350.5" fill="#f5f2a5" stroke="#f5f2a5" stroke-width="0.8"/>
<polygon points="220.0,350.5 255.0,355.5 257.5,345.5 271.8,343.0 271.8,363.0 260.0,365.5 257.5,375.5 250.0,383.0 243.8,388.0 213.8,383.0" fill="#72aaa5" stroke="#72aaa5" stroke-width="0.8"/>
<polygon points="213.8,383.0 243.8,388.0 241.2,403.0 233.8,408.0 228.8,419.2 227.5,428.0 205.5,423.0" fill="#548ba2" stroke="#548ba2" stroke-width="0.8"/>
<polygon points="260.0,365.5 271.8,363.0 271.8,419.2 233.8,413.0 233.8,408.0 241.2,403.0 243.8,388.0 250.0,383.0 257.5,375.5" fill="#d3e4a4" stroke="#d3e4a4" stroke-width="0.8"/>
<polygon points="252.5,394.2 271.8,394.2 271.8,403.0 252.5,401.8" fill="#f3f3f3" stroke="#f3f3f3" stroke-width="0.8"/>
<polygon points="228.8,419.2 233.8,413.0 271.8,419.2 271.8,433.0 227.5,428.0" fill="#8eb8a4" stroke="#8eb8a4" stroke-width="0.8"/>
<polygon points="232.5,429.2 271.8,434.2 271.8,480.8 207.5,480.8 215.0,443.0 227.5,440.5" fill="#8eb8a4" stroke="#8eb8a4" stroke-width="0.8"/>
<polygon points="150.0,283.0 212.5,283.0 212.5,296.8 173.8,289.2" fill="#a2c4a3" stroke="#a2c4a3" stroke-width="0.8"/>
<polygon points="212.5,283.0 225.0,283.0 226.2,300.0 212.5,296.8" fill="#c3dca3" stroke="#c3dca3" stroke-width="0.8"/>
<polygon points="225.0,283.0 247.5,283.0 247.5,304.2 226.2,300.0" fill="#aacaa2" stroke="#aacaa2" stroke-width="0.8"/>
<polygon points="247.5,283.0 271.8,283.0 271.8,298.0 260.0,294.2 247.5,295.5" fill="#dbe7a5" stroke="#dbe7a5" stroke-width="0.8"/>
<polygon points="247.5,295.5 260.0,294.2 271.8,298.0 271.8,308.0 247.5,304.2" fill="#548ba2" stroke="#548ba2" stroke-width="0.8"/>
<polygon points="67.5,468.0 71.2,468.0 71.2,470.5 67.5,470.5" fill="#548ba2" stroke="#548ba2" stroke-width="0.8"/>
<polygon points="73.8,468.5 78.0,469.2 78.0,471.0 73.8,470.5" fill="#548ba2" stroke="#548ba2" stroke-width="0.8"/>
<polygon points="102.5,481.0 187.5,481.0 186.2,491.0 180.0,496.0 177.5,506.0 173.8,509.8 175.0,517.2 142.5,521.0 121.2,518.5 120.0,508.5 113.8,494.8" fill="#72aaa5" stroke="#72aaa5" stroke-width="0.8"/>
<polygon points="146.2,502.2 175.0,507.2 173.8,509.8 176.2,518.5 175.0,523.5 142.5,520.5" fill="#8eb8a4" stroke="#8eb8a4" stroke-width="0.8"/>
<polygon points="187.5,481.0 207.5,481.0 206.2,488.5 198.8,491.5 191.2,488.5" fill="#cd6546" stroke="#cd6546" stroke-width="0.8"/>
<polygon points="186.2,491.0 191.2,488.5 198.8,491.5 206.2,489.8 203.8,512.2 185.0,508.5 182.5,516.0 176.2,518.5 173.8,509.8 177.5,506.0 180.0,496.0" fill="#72aaa5" stroke="#72aaa5" stroke-width="0.8"/>
<polygon points="176.2,518.5 182.5,516.0 185.0,508.5 201.2,513.0 196.2,546.0 168.8,529.8 175.0,523.5" fill="#8eb8a4" stroke="#8eb8a4" stroke-width="0.8"/>
<polygon points="206.2,481.0 260.0,481.0 258.8,496.0 252.5,494.8 240.0,496.0 237.5,502.2 226.2,504.8 206.2,498.5" fill="#8eb8a4" stroke="#8eb8a4" stroke-width="0.8"/>
<polygon points="260.0,481.0 271.8,481.0 271.8,508.5 258.8,506.0" fill="#8eb8a4" stroke="#8eb8a4" stroke-width="0.8"/>
<polygon points="206.2,498.5 226.2,504.8 237.5,502.2 240.0,496.0 252.5,494.8 258.8,496.0 258.8,506.0 271.8,508.5 271.8,543.5 257.5,544.8 200.0,534.8 202.5,512.2" fill="#f5f2a5" stroke="#f5f2a5" stroke-width="0.8"/>
<polygon points="200.0,534.8 257.5,544.8 271.8,548.5 271.8,576.0 240.0,571.0 196.2,546.0" fill="#f5f2a5" stroke="#f5f2a5" stroke-width="0.8"/>
<polygon points="261.2,523.5 271.8,521.0 271.8,548.0 257.5,546.5" fill="#e29b62" stroke="#e29b62" stroke-width="0.8"/>
<polygon points="555.2,184.0 584.0,184.0 581.5,196.5 581.5,212.8 555.2,213.5 556.5,196.5" fill="#c3dca3" stroke="#c3dca3" stroke-width="0.8"/>
<polygon points="544.0,184.0 555.2,184.0 556.5,196.5 555.2,213.5 552.8,231.5 544.0,232.8" fill="#dbe7a5" stroke="#dbe7a5" stroke-width="0.8"/>
<polygon points="554.0,214.0 572.8,214.0 573.5,235.2 572.8,245.2 555.2,244.0" fill="#72aaa5" stroke="#72aaa5" stroke-width="0.8"/>
<polygon points="581.5,196.5 607.0,184.0 608.5,220.2 607.8,225.2 596.5,225.8 595.2,229.0 579.0,221.5 581.5,212.8" fill="#8eb8a4" stroke="#8eb8a4" stroke-width="0.8"/>
<polygon points="572.8,211.5 579.0,211.5 579.0,221.5 595.2,229.0 595.2,235.2 573.5,235.2" fill="#548ba2" stroke="#548ba2" stroke-width="0.8"/>
<polygon points="573.5,235.2 595.2,235.2 596.5,225.8 602.0,225.2 601.0,246.5 594.0,247.8 579.0,247.2 572.8,245.2" fill="#72aaa5" stroke="#72aaa5" stroke-width="0.8"/>
<polygon points="551.5,245.2 579.0,247.2 580.2,257.8 566.5,265.2 565.2,266.5 551.5,265.8" fill="#72aaa5" stroke="#72aaa5" stroke-width="0.8"/>
<polygon points="551.5,265.8 565.2,266.5 565.2,276.5 556.5,277.8 556.5,291.5 550.2,291.5" fill="#548ba2" stroke="#548ba2" stroke-width="0.8"/>
<polygon points="556.5,277.8 565.2,276.5 577.8,277.8 578.5,292.8 556.5,292.0" fill="#72aaa5" stroke="#72aaa5" stroke-width="0.8"/>
<polygon points="566.5,265.2 580.2,257.8 579.0,247.2 589.0,249.0 594.0,260.2 602.8,267.8 601.5,270.2 597.8,284.0 579.0,284.0 577.8,277.8 565.2,276.5 565.2,266.5" fill="#b4d3a2" stroke="#b4d3a2" stroke-width="0.8"/>
<polygon points="589.0,249.0 601.0,246.5 602.0,237.8 615.2,237.8 614.0,246.5 616.5,264.0 610.2,267.8 602.8,267.8 594.0,260.2" fill="#e8eca5" stroke="#e8eca5" stroke-width="0.8"/>
<polygon points="598.5,269.0 609.5,267.8 610.2,281.5 601.0,284.0 597.8,281.5" fill="#72aaa5" stroke="#72aaa5" stroke-width="0.8"/>
<polygon points="610.2,267.8 616.5,264.0 627.8,270.2 640.2,281.5 634.0,282.8 634.0,290.2 601.5,291.5 601.0,284.0 610.2,281.5" fill="#aacaa2" stroke="#aacaa2" stroke-width="0.8"/>
<polygon points="579.0,284.0 597.8,284.0 601.0,284.0 601.5,291.5 579.0,292.0" fill="#fbf09d" stroke="#fbf09d" stroke-width="0.8"/>
<polygon points="634.0,282.8 641.5,282.8 642.8,290.2 634.5,291.0" fill="#f9df8e" stroke="#f9df8e" stroke-width="0.8"/>
<polygon points="607.8,184.0 641.5,184.0 641.5,190.2 621.5,212.8 620.2,220.2 608.5,220.2" fill="#f9df8e" stroke="#f9df8e" stroke-width="0.8"/>
<polygon points="623.5,212.8 634.0,211.5 634.0,225.2 624.0,225.2 621.5,220.2" fill="#f9df8e" stroke="#f9df8e" stroke-width="0.8"/>
<polygon points="634.0,210.2 644.0,206.5 651.5,214.0 652.8,225.2 661.5,230.2 661.5,245.2 651.5,245.2 650.2,231.5 645.2,226.5 626.5,226.5 625.2,247.8 615.2,249.0 614.0,235.2 621.5,225.2 634.0,225.2" fill="#d3e4a4" stroke="#d3e4a4" stroke-width="0.8"/>
<polygon points="626.5,226.5 645.2,226.5 650.2,231.5 651.0,245.2 636.5,246.5 636.0,249.0 626.0,249.0" fill="#8eb8a4" stroke="#8eb8a4" stroke-width="0.8"/>
<polygon points="651.5,214.0 654.0,214.0 676.5,202.8 679.0,204.0 679.0,221.5 669.0,221.5 662.8,227.8 652.8,221.5" fill="#f4cf85" stroke="#f4cf85" stroke-width="0.8"/>
<polygon points="662.8,222.8 679.0,221.5 686.5,227.8 689.0,241.5 682.8,241.5 672.8,240.2 661.5,239.0 661.5,230.2" fill="#fbf09d" stroke="#fbf09d" stroke-width="0.8"/>
<polygon points="615.2,249.0 625.2,247.8 626.0,249.0 636.0,249.0 636.5,246.5 646.5,246.5 647.8,264.0 659.0,267.8 657.8,272.8 644.0,277.8 640.2,281.5 627.8,270.2 616.5,260.2" fill="#c3dca3" stroke="#c3dca3" stroke-width="0.8"/>
<polygon points="646.5,245.2 661.5,245.2 661.5,239.0 672.8,240.2 677.8,251.5 679.0,267.8 666.5,272.8 657.8,272.8 659.0,267.8 647.8,264.0" fill="#c3dca3" stroke="#c3dca3" stroke-width="0.8"/>
<polygon points="672.8,240.2 682.8,241.5 689.0,251.5 694.0,255.2 694.0,260.2 679.0,259.0 677.8,251.5" fill="#aacaa2" stroke="#aacaa2" stroke-width="0.8"/>
<polygon points="640.2,281.5 644.0,277.8 657.8,272.8 666.5,272.8 667.8,284.0 654.0,289.0 644.0,291.5" fill="#fbf09d" stroke="#fbf09d" stroke-width="0.8"/>
<polygon points="666.5,272.8 672.8,271.5 672.8,285.2 667.8,284.0" fill="#c3dca3" stroke="#c3dca3" stroke-width="0.8"/>
<polygon points="679.0,260.2 694.0,260.2 696.5,267.8 706.5,266.5 705.2,284.0 684.0,286.5 672.8,285.2 672.8,271.5 679.0,270.2" fill="#efbd78" stroke="#efbd78" stroke-width="0.8"/>
<polygon points="689.0,241.5 694.0,241.5 696.5,247.8 704.0,250.2 700.2,260.2 696.5,267.8 694.0,260.2 694.0,255.2 689.0,251.5" fill="#fbf09d" stroke="#fbf09d" stroke-width="0.8"/>
<polygon points="704.0,250.2 710.2,244.0 716.5,240.2 711.5,250.2 705.2,264.0 700.2,260.2" fill="#f5f2a5" stroke="#f5f2a5" stroke-width="0.8"/>
<polygon points="654.0,289.0 667.8,284.0 684.0,286.5 685.2,304.0 679.0,306.5 661.5,307.8 655.2,296.5" fill="#f9df8e" stroke="#f9df8e" stroke-width="0.8"/>
<polygon points="684.0,286.5 705.2,284.0 707.8,299.0 706.5,304.0 685.2,304.0" fill="#eab071" stroke="#eab071" stroke-width="0.8"/>
<polygon points="679.0,306.5 706.5,304.0 707.8,311.5 680.2,312.8" fill="#e29b62" stroke="#e29b62" stroke-width="0.8"/>
<polygon points="644.0,291.5 654.0,289.0 655.2,296.5 661.5,307.8 679.0,306.5 680.2,312.8 656.5,315.2 651.5,306.5 645.2,292.8" fill="#dbe7a5" stroke="#dbe7a5" stroke-width="0.8"/>
<polygon points="679.0,204.0 680.2,199.0 684.0,192.8 696.5,190.2 694.0,195.2 687.8,200.2 694.0,204.0 694.0,216.5 680.2,216.5" fill="#d3e4a4" stroke="#d3e4a4" stroke-width="0.8"/>
<polygon points="679.0,216.5 694.0,216.5 702.8,220.2 702.8,229.0 709.0,232.8 707.8,241.5 704.0,249.0 696.5,247.8 694.0,241.5 700.2,240.2 697.8,232.8 686.5,226.5 680.2,221.5" fill="#c3dca3" stroke="#c3dca3" stroke-width="0.8"/>
<polygon points="694.0,204.0 704.0,209.0 719.0,207.8 731.5,205.2 732.8,221.5 719.0,227.8 710.2,235.2 709.0,232.8 702.8,229.0 702.8,220.2 694.0,216.5" fill="#f9df8e" stroke="#f9df8e" stroke-width="0.8"/>
<polygon points="731.5,205.2 744.0,202.2 746.5,206.5 757.8,207.8 764.0,215.2 754.0,217.8 741.5,219.0 732.8,222.2" fill="#fbf09d" stroke="#fbf09d" stroke-width="0.8"/>
<polygon points="747.8,235.2 754.0,226.5 761.5,227.8 764.0,237.8 754.0,240.2 752.8,245.2 744.0,245.2" fill="#f5f2a5" stroke="#f5f2a5" stroke-width="0.8"/>
<polygon points="761.5,227.8 774.0,232.8 779.0,237.8 781.5,250.2 780.2,260.2 776.5,264.0 771.5,262.8 770.2,237.8 764.0,237.8" fill="#c3dca3" stroke="#c3dca3" stroke-width="0.8"/>
<polygon points="754.0,240.2 770.2,237.8 771.5,264.0 761.5,265.2 756.5,257.8 755.2,245.2" fill="#efbd78" stroke="#efbd78" stroke-width="0.8"/>
<polygon points="731.5,257.8 734.0,247.8 741.5,245.2 744.0,245.2 752.8,245.2 755.2,245.2 756.0,257.8 739.0,259.0" fill="#c3dca3" stroke="#c3dca3" stroke-width="0.8"/>
<polygon points="729.0,260.2 739.0,259.0 737.8,270.2 735.2,277.8 730.2,274.0 728.5,271.5" fill="#dbe7a5" stroke="#dbe7a5" stroke-width="0.8"/>
<polygon points="739.0,259.0 756.0,257.8 761.5,265.2 760.2,274.0 751.5,275.2 744.0,276.5 735.2,277.8 737.8,270.2" fill="#eab071" stroke="#eab071" stroke-width="0.8"/>
<polygon points="730.2,277.8 744.0,276.5 751.5,275.2 759.0,280.2 760.2,294.0 747.8,297.8 746.5,309.0 736.5,310.2 735.2,299.0" fill="#f9df8e" stroke="#f9df8e" stroke-width="0.8"/>
<polygon points="760.2,274.0 761.5,265.2 771.5,264.0 776.5,264.0 774.0,270.2 780.2,275.2 791.5,264.0 796.5,270.2 787.8,275.2 777.8,281.5 769.0,290.2 759.0,280.2" fill="#eab071" stroke="#eab071" stroke-width="0.8"/>
<polygon points="769.0,290.2 787.8,275.2 796.5,270.2 801.5,275.2 802.8,295.2 796.5,302.8 791.5,311.5 776.5,314.0 774.0,302.8" fill="#d87f52" stroke="#d87f52" stroke-width="0.8"/>
<polygon points="760.2,294.0 759.0,280.2 769.0,290.2 774.0,302.8 776.5,314.0 765.2,324.0 744.0,326.5 729.0,327.8 734.0,314.0 736.5,310.2 746.5,309.0 747.8,297.8" fill="#e29b62" stroke="#e29b62" stroke-width="0.8"/>
<polygon points="782.8,314.0 791.5,311.5 796.5,302.8 802.8,295.2 801.5,322.8 790.2,320.2 784.0,321.5" fill="#e29b62" stroke="#e29b62" stroke-width="0.8"/>
<polygon points="105.0,598.5 120.0,588.5 141.2,582.2 152.5,588.5 172.5,594.8 188.8,598.5 189.5,680.2 197.5,682.8 207.5,694.0 217.5,699.0 225.0,704.0 237.5,714.0 240.0,719.0 232.5,722.8 222.5,711.5 212.5,704.0 205.0,694.0 195.0,685.2 180.0,681.5 170.0,676.5 165.0,671.5 160.0,679.0 150.0,686.5 140.0,694.0 130.0,699.0 120.0,704.0 105.0,710.2 85.0,715.2 62.5,721.5 60.0,720.2 82.5,713.5 100.0,707.8 117.5,699.0 125.0,689.0 110.0,684.0 105.0,676.5 95.0,671.5 85.0,670.2 92.5,664.0 91.2,656.5 100.0,647.8 112.5,649.0 120.0,636.5 100.0,634.0 93.8,624.0 107.5,619.0 120.0,621.0 117.5,611.5 108.8,606.5" fill="#f3f3f3" stroke="#f3f3f3" stroke-width="0.8"/>
<polygon points="141.2,612.2 172.5,613.5 173.8,610.5 188.8,610.5 189.5,667.2 186.2,661.0 175.0,656.0 167.5,653.5 142.5,659.8 120.0,661.0 112.5,658.5 118.8,646.0 122.5,628.5 130.0,624.8 142.5,623.5" fill="#c3dca3" stroke="#c3dca3" stroke-width="0.8"/>
<polygon points="143.8,658.5 167.5,653.5 168.0,658.5 165.0,670.2 158.8,671.5 157.5,681.5 150.0,686.5 145.0,689.0 140.0,684.0 135.0,691.5 132.5,689.0 138.8,679.0 141.2,668.5" fill="#f4cf85" stroke="#f4cf85" stroke-width="0.8"/>
<polygon points="156.2,670.2 157.5,674.0 150.0,679.0 145.0,685.2 143.8,682.8 148.8,675.2" fill="#ffffff"/>
<polygon points="210.0,686.5 212.5,686.0 223.8,696.5 221.2,699.0 212.5,692.8" fill="#3f7690" stroke="#3f7690" stroke-width="0.8"/>
<polygon points="462.0,666.5 543.8,666.5 543.8,671.5 532.0,679.0 497.0,680.2 469.5,674.5" fill="#e29b62" stroke="#e29b62" stroke-width="0.8"/>
<polygon points="469.5,674.0 483.2,676.5 496.5,677.8 497.0,694.0 503.2,704.0 503.2,709.0 492.0,709.5 488.2,714.0 483.2,701.5 479.5,686.5" fill="#f4cf85" stroke="#f4cf85" stroke-width="0.8"/>
<polygon points="497.0,677.8 518.2,676.5 524.5,671.5 532.0,666.5 539.5,669.0 540.8,674.0 532.0,679.0 527.0,689.0 524.5,704.0 525.8,713.5 514.5,713.5 514.0,709.0 504.5,709.0 503.2,704.0 497.0,694.0" fill="#ac0d2e" stroke="#ac0d2e" stroke-width="0.8"/>
<polygon points="488.2,714.0 492.0,709.5 514.0,709.5 514.5,713.5 525.8,713.5 529.5,726.5 527.0,731.5 522.0,729.0 509.5,724.0 497.0,719.0" fill="#c3dca3" stroke="#c3dca3" stroke-width="0.8"/>
<polygon points="512.0,656.5 520.8,650.2 523.2,661.5 532.0,666.5 524.5,671.5 518.2,676.5 515.8,666.5" fill="#ac0d2e" stroke="#ac0d2e" stroke-width="0.8"/>
<polygon points="850.0,641.5 857.5,640.2 867.5,615.2 876.2,615.2 887.5,634.0 901.2,663.5 911.2,674.0 913.8,691.5 915.0,701.5 911.2,716.5 902.5,721.5 895.0,720.2 888.8,709.0 876.2,699.0 868.8,687.8 862.5,685.2 855.0,674.0 853.8,669.0 850.0,664.0 848.8,651.5" fill="#f4cf85" stroke="#f4cf85" stroke-width="0.8"/>
<polygon points="857.5,636.5 870.0,631.5 872.5,627.8 885.0,637.8 888.8,646.5 891.2,661.5 885.0,664.0 875.0,654.0 863.8,647.8" fill="#b4d3a2" stroke="#b4d3a2" stroke-width="0.8"/>
<polygon points="885.0,634.0 895.0,641.5 901.2,663.5 891.2,662.8 888.8,646.5" fill="#fbf09d" stroke="#fbf09d" stroke-width="0.8"/>
<polygon points="850.0,642.8 857.5,641.5 863.8,647.8 866.2,666.5 855.0,667.8 852.5,661.5 848.8,661.5" fill="#eab071" stroke="#eab071" stroke-width="0.8"/>
<polygon points="863.8,647.8 875.0,654.0 885.0,664.0 891.2,671.5 885.0,676.5 880.0,679.0 877.5,672.8 866.2,666.5" fill="#f4cf85" stroke="#f4cf85" stroke-width="0.8"/>
<polygon points="855.0,667.8 866.2,666.5 877.5,672.8 880.0,679.0 878.8,686.5 868.8,687.8 862.5,685.2 855.0,674.0" fill="#dbe7a5" stroke="#dbe7a5" stroke-width="0.8"/>
<polygon points="885.0,664.0 901.2,663.5 911.2,674.0 913.8,691.5 897.5,694.0 888.8,696.5 887.5,691.5 880.0,690.2 878.8,686.5 880.0,679.0 885.0,676.5 891.2,671.5" fill="#a2c4a3" stroke="#a2c4a3" stroke-width="0.8"/>
<polygon points="868.8,687.8 878.8,686.5 880.0,690.2 887.5,691.5 888.8,696.5 897.5,695.2 898.8,706.5 888.8,709.0 876.2,699.0" fill="#a2c4a3" stroke="#a2c4a3" stroke-width="0.8"/>
<polygon points="897.5,694.0 913.8,691.5 915.0,701.5 911.2,716.5 902.5,721.5 895.0,720.2 888.8,709.0 898.8,706.5" fill="#72aaa5" stroke="#72aaa5" stroke-width="0.8"/>
<polygon points="272.0,652.0 277.0,652.0 278.2,656.5 274.5,659.0 272.0,658.5" fill="#f4cf85" stroke="#f4cf85" stroke-width="0.8"/>
<polygon points="302.0,666.5 307.5,663.5 314.0,672.0 305.8,672.0" fill="#e29b62" stroke="#e29b62" stroke-width="0.8"/>
<polygon points="323.2,675.2 333.2,674.5 333.2,677.8 324.5,677.0" fill="#e8eca5" stroke="#e8eca5" stroke-width="0.8"/>
<polygon points="335.8,680.2 340.8,679.0 349.5,682.8 349.5,686.0 343.2,687.8 337.5,684.0" fill="#e8eca5" stroke="#e8eca5" stroke-width="0.8"/>
<polygon points="329.5,681.5 332.0,681.5 332.0,684.5 330.0,684.5" fill="#e8eca5" stroke="#e8eca5" stroke-width="0.8"/>
<polygon points="355.8,696.0 367.0,700.2 373.2,706.5 377.5,711.5 369.5,717.8 359.5,726.0 355.8,724.0 353.2,714.0 350.8,706.5" fill="#c3dca3" stroke="#c3dca3" stroke-width="0.8"/>
<polygon points="260.0,657.8 262.0,657.2 262.0,658.8 260.0,659.0" fill="#f4cf85" stroke="#f4cf85" stroke-width="0.8"/>
<polyline points="90.0,167.5 98.8,172.5 110.0,178.8 113.8,178.8 119.5,178.0 137.0,183.8 149.5,183.8 162.5,183.0 180.0,185.0 187.5,187.5 198.8,190.0" fill="none" stroke="#fff" stroke-width="0.9" stroke-opacity="0.9"/>
<polyline points="211.2,119.5 203.8,160.0 201.2,178.8 198.8,190.0" fill="none" stroke="#fff" stroke-width="0.9" stroke-opacity="0.9"/>
<polyline points="198.8,190.0 203.8,201.2 200.0,207.5 193.8,215.0 190.0,221.2 183.8,230.0 187.5,237.5 183.8,245.0 176.2,282.5" fill="none" stroke="#fff" stroke-width="0.9" stroke-opacity="0.9"/>
<polyline points="228.0,123.0 225.0,133.8 223.8,145.0 228.8,160.0 233.8,173.8 245.0,183.8 240.0,205.0 236.2,208.8 240.0,212.5 250.0,208.8 252.5,225.0 260.0,242.5 271.8,245.0" fill="none" stroke="#fff" stroke-width="0.9" stroke-opacity="0.9"/>
<polyline points="46.2,255.0 82.5,263.8 107.5,270.0 136.2,277.5 155.0,282.5 173.8,289.2 227.5,300.5 271.8,308.0" fill="none" stroke="#fff" stroke-width="0.9" stroke-opacity="0.9"/>
<polyline points="272.0,230.0 279.5,235.0 290.8,245.0 294.5,236.2" fill="none" stroke="#fff" stroke-width="0.9" stroke-opacity="0.9"/>
<polyline points="294.5,236.2 349.5,243.8 382.0,247.5 416.5,250.5" fill="none" stroke="#fff" stroke-width="0.9" stroke-opacity="0.9"/>
<polyline points="424.5,152.0 419.5,226.2 416.5,250.5" fill="none" stroke="#fff" stroke-width="0.9" stroke-opacity="0.9"/>
<polyline points="419.5,226.2 543.8,231.2" fill="none" stroke="#fff" stroke-width="0.9" stroke-opacity="0.9"/>
<polyline points="294.5,236.2 284.5,282.8" fill="none" stroke="#fff" stroke-width="0.9" stroke-opacity="0.9"/>
<polyline points="416.5,250.5 414.5,282.8" fill="none" stroke="#fff" stroke-width="0.9" stroke-opacity="0.9"/>
<polyline points="545.2,157.5 544.0,185.0 546.5,210.0 544.0,232.5" fill="none" stroke="#fff" stroke-width="0.9" stroke-opacity="0.9"/>
<polyline points="621.5,212.5 621.5,225.0 614.0,235.0 616.5,247.5 615.2,260.0 627.8,270.0 640.2,281.2" fill="none" stroke="#fff" stroke-width="0.9" stroke-opacity="0.9"/>
<polyline points="654.0,213.8 662.8,222.5 679.0,221.2 686.5,227.5 697.8,232.5 700.2,240.0 704.0,248.8" fill="none" stroke="#fff" stroke-width="0.9" stroke-opacity="0.9"/>
<polyline points="544.0,273.0 549.0,293.0" fill="none" stroke="#fff" stroke-width="0.9" stroke-opacity="0.9"/>
<polyline points="549.0,293.0 637.8,292.5 645.2,291.8" fill="none" stroke="#fff" stroke-width="0.9" stroke-opacity="0.9"/>
<polyline points="549.0,293.0 549.0,306.8 551.5,320.5 556.5,334.2 561.5,359.2 564.0,366.8 577.8,383.0 579.0,403.0 584.0,408.0 585.2,469.2" fill="none" stroke="#fff" stroke-width="0.9" stroke-opacity="0.9"/>
<polyline points="564.0,366.0 638.5,364.2 644.0,369.2" fill="none" stroke="#fff" stroke-width="0.9" stroke-opacity="0.9"/>
<polyline points="645.2,291.8 651.5,308.0 656.5,315.5 665.2,324.2 664.0,335.5 654.0,341.8 650.2,350.5 654.0,360.5 644.0,369.2 644.0,378.0 654.0,388.0 659.0,396.8 666.5,405.5 669.0,413.0 666.5,423.0 674.0,430.5 685.2,435.5 689.0,448.0 694.0,445.5 704.0,446.8 712.5,440.0" fill="none" stroke="#fff" stroke-width="0.9" stroke-opacity="0.9"/>
<polyline points="656.5,315.5 706.5,312.5" fill="none" stroke="#fff" stroke-width="0.9" stroke-opacity="0.9"/>
<polyline points="716.5,331.8 717.8,371.8 720.2,402.5 716.2,417.5 712.5,440.0" fill="none" stroke="#fff" stroke-width="0.9" stroke-opacity="0.9"/>
<polyline points="765.2,325.5 770.2,390.5" fill="none" stroke="#fff" stroke-width="0.9" stroke-opacity="0.9"/>
<polyline points="716.5,328.0 765.2,325.5 801.5,323.0" fill="none" stroke="#fff" stroke-width="0.9" stroke-opacity="0.9"/>
<polyline points="585.2,469.2 674.0,466.8 672.8,476.8 684.0,475.5" fill="none" stroke="#fff" stroke-width="0.9" stroke-opacity="0.9"/>
<polyline points="694.0,463.0 815.8,449.2" fill="none" stroke="#fff" stroke-width="0.9" stroke-opacity="0.9"/>
<polyline points="694.0,445.5 689.0,458.0 684.0,475.5" fill="none" stroke="#fff" stroke-width="0.9" stroke-opacity="0.9"/>
<polyline points="544.0,455.5 585.2,455.5" fill="none" stroke="#fff" stroke-width="0.9" stroke-opacity="0.9"/>
<polyline points="279.5,333.0 335.8,340.5 408.2,349.2 444.5,351.8" fill="none" stroke="#fff" stroke-width="0.9" stroke-opacity="0.9"/>
<polyline points="413.2,283.0 409.0,349.2" fill="none" stroke="#fff" stroke-width="0.9" stroke-opacity="0.9"/>
<polyline points="413.2,299.2 515.8,305.5 519.5,309.2 543.8,310.5" fill="none" stroke="#fff" stroke-width="0.9" stroke-opacity="0.9"/>
<polyline points="444.5,351.8 443.2,378.0 441.5,451.8" fill="none" stroke="#fff" stroke-width="0.9" stroke-opacity="0.9"/>
<polyline points="443.2,378.0 543.8,381.8" fill="none" stroke="#fff" stroke-width="0.9" stroke-opacity="0.9"/>
<polyline points="314.5,339.2 302.0,438.0" fill="none" stroke="#fff" stroke-width="0.9" stroke-opacity="0.9"/>
<polyline points="302.0,438.0 378.2,446.8 441.5,451.8" fill="none" stroke="#fff" stroke-width="0.9" stroke-opacity="0.9"/>
<polyline points="302.0,438.0 297.0,480.8" fill="none" stroke="#fff" stroke-width="0.9" stroke-opacity="0.9"/>
<polyline points="419.5,451.8 417.5,480.8" fill="none" stroke="#fff" stroke-width="0.9" stroke-opacity="0.9"/>
<polyline points="441.5,451.8 543.8,455.0" fill="none" stroke="#fff" stroke-width="0.9" stroke-opacity="0.9"/>
<polyline points="419.5,463.0 479.0,465.5 479.5,480.8" fill="none" stroke="#fff" stroke-width="0.9" stroke-opacity="0.9"/>
<polyline points="103.8,345.5 183.8,468.0" fill="none" stroke="#fff" stroke-width="0.9" stroke-opacity="0.9"/>
<polyline points="227.5,300.5 212.5,380.5 205.0,423.0" fill="none" stroke="#fff" stroke-width="0.9" stroke-opacity="0.9"/>
<polyline points="205.0,423.0 200.0,443.0 192.5,443.0 186.2,441.8 183.8,468.0 185.0,480.8" fill="none" stroke="#fff" stroke-width="0.9" stroke-opacity="0.9"/>
<polyline points="205.5,423.0 271.8,434.2" fill="none" stroke="#fff" stroke-width="0.9" stroke-opacity="0.9"/>
<polyline points="117.5,290.5 103.8,345.5" fill="none" stroke="#fff" stroke-width="0.9" stroke-opacity="0.9"/>
<polyline points="187.5,481.0 186.2,491.0 180.0,496.0 177.5,506.0 173.8,509.8 176.2,518.5 175.0,523.5" fill="none" stroke="#fff" stroke-width="0.9" stroke-opacity="0.9"/>
<polyline points="295.8,481.0 283.2,577.2" fill="none" stroke="#fff" stroke-width="0.9" stroke-opacity="0.9"/>
<polyline points="417.0,481.0 410.8,574.8 335.8,568.5" fill="none" stroke="#fff" stroke-width="0.9" stroke-opacity="0.9"/>
<polyline points="479.5,481.0 478.2,518.5 493.2,524.8 507.0,527.2 522.0,533.5 534.5,532.2 543.8,533.5" fill="none" stroke="#fff" stroke-width="0.9" stroke-opacity="0.9"/>
<polyline points="587.8,481.0 589.0,506.0 590.2,539.8 597.8,541.0" fill="none" stroke="#fff" stroke-width="0.9" stroke-opacity="0.9"/>
<polyline points="544.0,533.5 556.5,534.8 569.0,532.2 576.5,533.5 585.2,539.8 597.8,541.0" fill="none" stroke="#fff" stroke-width="0.9" stroke-opacity="0.9"/>
<polyline points="597.8,541.0 599.0,581.0 609.0,591.0 610.2,601.0 607.8,616.0 604.0,636.0" fill="none" stroke="#fff" stroke-width="0.9" stroke-opacity="0.9"/>
<polyline points="597.8,554.8 652.0,554.0" fill="none" stroke="#fff" stroke-width="0.9" stroke-opacity="0.9"/>
<polyline points="679.0,488.5 674.0,503.5 660.2,528.5 657.8,541.0 661.5,553.5 659.5,564.8" fill="none" stroke="#fff" stroke-width="0.9" stroke-opacity="0.9"/>
<polyline points="659.5,564.8 662.8,573.5 654.0,586.0 651.5,603.0 691.5,601.0 694.0,618.5" fill="none" stroke="#fff" stroke-width="0.9" stroke-opacity="0.9"/>
<polyline points="675.2,502.2 716.5,499.8 769.0,494.8 792.5,490.0 812.5,482.5" fill="none" stroke="#fff" stroke-width="0.9" stroke-opacity="0.9"/>
<polyline points="716.5,499.8 717.0,581.0 720.2,613.5" fill="none" stroke="#fff" stroke-width="0.9" stroke-opacity="0.9"/>
<polyline points="769.0,494.8 787.8,556.0 790.2,589.8 794.0,597.2" fill="none" stroke="#fff" stroke-width="0.9" stroke-opacity="0.9"/>
<polyline points="736.5,596.0 794.0,591.0 794.0,597.2 815.8,597.2" fill="none" stroke="#fff" stroke-width="0.9" stroke-opacity="0.9"/>
<polyline points="815.0,597.2 846.2,594.8 852.5,591.0 855.0,598.5 857.5,591.0 866.2,591.0" fill="none" stroke="#fff" stroke-width="0.9" stroke-opacity="0.9"/>
<polyline points="815.0,488.5 830.0,508.5 847.5,526.0 860.0,538.5 868.8,556.0" fill="none" stroke="#fff" stroke-width="0.9" stroke-opacity="0.9"/>
<polyline points="815.0,490.0 830.0,482.5 858.8,478.8 872.5,485.0 886.2,482.5 912.5,498.8" fill="none" stroke="#fff" stroke-width="0.9" stroke-opacity="0.9"/>
<polyline points="842.5,308.0 848.8,363.0" fill="none" stroke="#fff" stroke-width="0.9" stroke-opacity="0.9"/>
<polyline points="855.0,305.5 932.5,290.5 940.0,293.0 947.5,305.5" fill="none" stroke="#fff" stroke-width="0.9" stroke-opacity="0.9"/>
<polyline points="848.8,363.0 941.2,346.8" fill="none" stroke="#fff" stroke-width="0.9" stroke-opacity="0.9"/>
<polyline points="947.5,305.5 945.0,323.0 957.5,331.8 950.0,336.8 942.5,345.5" fill="none" stroke="#fff" stroke-width="0.9" stroke-opacity="0.9"/>
<polyline points="947.5,305.5 965.0,310.5" fill="none" stroke="#fff" stroke-width="0.9" stroke-opacity="0.9"/>
<polyline points="871.2,360.5 887.5,373.0 902.5,368.0 920.0,370.5 925.0,383.0 935.0,388.0" fill="none" stroke="#fff" stroke-width="0.9" stroke-opacity="0.9"/>
<polyline points="815.0,448.0 955.0,426.8" fill="none" stroke="#fff" stroke-width="0.9" stroke-opacity="0.9"/>
<polyline points="941.2,346.8 946.2,376.8 958.8,375.5" fill="none" stroke="#fff" stroke-width="0.9" stroke-opacity="0.9"/>
<polyline points="953.8,208.8 958.8,237.5 965.0,247.5 967.5,261.2 968.8,282.5" fill="none" stroke="#fff" stroke-width="0.9" stroke-opacity="0.9"/>
<polyline points="983.8,201.2 986.2,210.0 978.8,220.0 977.5,235.0 980.0,258.8" fill="none" stroke="#fff" stroke-width="0.9" stroke-opacity="0.9"/>
<polyline points="990.0,192.5 1002.5,230.0" fill="none" stroke="#fff" stroke-width="0.9" stroke-opacity="0.9"/>
<polyline points="967.5,261.2 1010.0,248.8" fill="none" stroke="#fff" stroke-width="0.9" stroke-opacity="0.9"/>
<polyline points="968.8,280.0 1007.5,271.2" fill="none" stroke="#fff" stroke-width="0.9" stroke-opacity="0.9"/>
<polyline points="712.5,440.0 720.0,430.0 730.0,425.0 737.5,422.5 745.0,418.8 755.0,415.0 760.0,402.5 770.0,400.0 771.2,391.2" fill="none" stroke="#fff" stroke-width="0.9" stroke-opacity="0.9"/>
<polyline points="771.2,391.2 782.5,395.0 790.0,397.5 800.0,398.8 810.0,396.2 817.5,401.2" fill="none" stroke="#fff" stroke-width="0.9" stroke-opacity="0.9"/>
<polyline points="817.5,401.2 820.0,392.5 827.5,380.0 840.0,365.0 846.2,357.5 845.0,342.5" fill="none" stroke="#fff" stroke-width="0.9" stroke-opacity="0.9"/>
<polyline points="817.5,401.2 822.5,412.5 832.5,422.5 840.0,425.0" fill="none" stroke="#fff" stroke-width="0.9" stroke-opacity="0.9"/>
<polyline points="840.0,425.0 852.5,418.8 861.2,413.8 870.0,410.0 882.5,390.0 891.8,380.0" fill="none" stroke="#fff" stroke-width="0.9" stroke-opacity="0.9"/>
<polyline points="840.0,425.0 830.0,430.0 815.0,442.5 797.5,451.2" fill="none" stroke="#fff" stroke-width="0.9" stroke-opacity="0.9"/>
</g>
<rect x="412" y="756" width="30" height="7" fill="#a5304d"/><rect x="442" y="756" width="30" height="7" fill="#c4595b"/><rect x="472" y="756" width="30" height="7" fill="#e0a078"/><rect x="502" y="756" width="30" height="7" fill="#f5dfa0"/><rect x="532" y="756" width="30" height="7" fill="#d3e4b0"/><rect x="562" y="756" width="30" height="7" fill="#94bfae"/><rect x="592" y="756" width="30" height="7" fill="#6d97a8"/><rect x="622" y="756" width="30" height="7" fill="#44738f"/><text x="426" y="778" text-anchor="middle" font-size="12.3" fill="#666">76</text><text x="456" y="778" text-anchor="middle" font-size="12.3" fill="#666">77</text><text x="486" y="778" text-anchor="middle" font-size="12.3" fill="#666">78</text><text x="516" y="778" text-anchor="middle" font-size="12.3" fill="#666">79</text><text x="546" y="778" text-anchor="middle" font-size="12.3" fill="#666">80</text><text x="576" y="778" text-anchor="middle" font-size="12.3" fill="#666">81</text><text x="606" y="778" text-anchor="middle" font-size="12.3" fill="#666">82</text><text x="636" y="778" text-anchor="middle" font-size="12.3" fill="#666">83</text>
</svg>
<div class="title">Life expectancy of 40-year-olds with household incomes <b>below $28,000</b>,<br>adjusted for race*</div>
<div class="btn" style="top:96px"><svg width="40" height="40" viewBox="0 0 40 40"><circle cx="19.5" cy="19.5" r="7" fill="none" stroke="#fff" stroke-width="1.4"/><path d="M24.7 24.7 L29.5 29.5 M16 19.5 H23 M19.5 16 V23" stroke="#fff" stroke-width="1.4" fill="none"/></svg></div>
<div class="btn" style="top:140px"><svg width="40" height="40" viewBox="0 0 40 40"><circle cx="19.5" cy="19.5" r="7" fill="none" stroke="#fff" stroke-width="1.4"/><path d="M24.7 24.7 L29.5 29.5 M16 19.5 H23" stroke="#fff" stroke-width="1.4" fill="none"/></svg></div>
</body></html>
